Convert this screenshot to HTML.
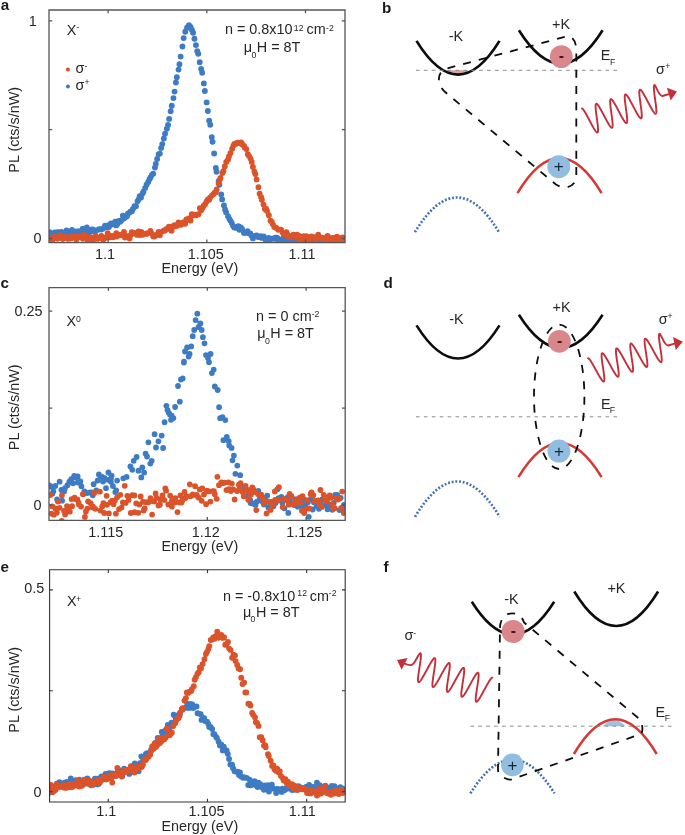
<!DOCTYPE html>
<html><head><meta charset="utf-8"><title>PL spectra and band diagrams</title>
<style>html,body{margin:0;padding:0;background:#fff;}svg{display:block;}text{font-family:'Liberation Sans', Arial, Helvetica, sans-serif;}</style>
</head><body>
<svg width="685" height="835" viewBox="0 0 685 835">
<clipPath id="ca"><rect x="49.0" y="10.0" width="296.0" height="232.6"/></clipPath>
<path fill="#3d7cc5" clip-path="url(#ca)" d="M46.6 232.3a2.95 2.95 0 1 0 5.9 0a2.95 2.95 0 1 0 -5.9 0M48.0 234.9a2.95 2.95 0 1 0 5.9 0a2.95 2.95 0 1 0 -5.9 0M49.1 234.0a2.95 2.95 0 1 0 5.9 0a2.95 2.95 0 1 0 -5.9 0M50.3 234.5a2.95 2.95 0 1 0 5.9 0a2.95 2.95 0 1 0 -5.9 0M51.8 232.5a2.95 2.95 0 1 0 5.9 0a2.95 2.95 0 1 0 -5.9 0M53.0 232.8a2.95 2.95 0 1 0 5.9 0a2.95 2.95 0 1 0 -5.9 0M54.5 232.1a2.95 2.95 0 1 0 5.9 0a2.95 2.95 0 1 0 -5.9 0M56.2 232.1a2.95 2.95 0 1 0 5.9 0a2.95 2.95 0 1 0 -5.9 0M57.1 233.4a2.95 2.95 0 1 0 5.9 0a2.95 2.95 0 1 0 -5.9 0M58.4 231.9a2.95 2.95 0 1 0 5.9 0a2.95 2.95 0 1 0 -5.9 0M60.0 233.2a2.95 2.95 0 1 0 5.9 0a2.95 2.95 0 1 0 -5.9 0M61.3 233.0a2.95 2.95 0 1 0 5.9 0a2.95 2.95 0 1 0 -5.9 0M62.5 235.1a2.95 2.95 0 1 0 5.9 0a2.95 2.95 0 1 0 -5.9 0M63.6 230.5a2.95 2.95 0 1 0 5.9 0a2.95 2.95 0 1 0 -5.9 0M65.2 233.4a2.95 2.95 0 1 0 5.9 0a2.95 2.95 0 1 0 -5.9 0M66.7 232.0a2.95 2.95 0 1 0 5.9 0a2.95 2.95 0 1 0 -5.9 0M67.5 232.0a2.95 2.95 0 1 0 5.9 0a2.95 2.95 0 1 0 -5.9 0M69.0 230.0a2.95 2.95 0 1 0 5.9 0a2.95 2.95 0 1 0 -5.9 0M70.0 231.2a2.95 2.95 0 1 0 5.9 0a2.95 2.95 0 1 0 -5.9 0M71.5 232.6a2.95 2.95 0 1 0 5.9 0a2.95 2.95 0 1 0 -5.9 0M72.7 231.4a2.95 2.95 0 1 0 5.9 0a2.95 2.95 0 1 0 -5.9 0M74.4 231.6a2.95 2.95 0 1 0 5.9 0a2.95 2.95 0 1 0 -5.9 0M75.5 231.2a2.95 2.95 0 1 0 5.9 0a2.95 2.95 0 1 0 -5.9 0M77.2 233.1a2.95 2.95 0 1 0 5.9 0a2.95 2.95 0 1 0 -5.9 0M78.5 231.6a2.95 2.95 0 1 0 5.9 0a2.95 2.95 0 1 0 -5.9 0M79.8 228.8a2.95 2.95 0 1 0 5.9 0a2.95 2.95 0 1 0 -5.9 0M80.5 230.8a2.95 2.95 0 1 0 5.9 0a2.95 2.95 0 1 0 -5.9 0M82.3 229.2a2.95 2.95 0 1 0 5.9 0a2.95 2.95 0 1 0 -5.9 0M83.8 227.5a2.95 2.95 0 1 0 5.9 0a2.95 2.95 0 1 0 -5.9 0M85.1 230.8a2.95 2.95 0 1 0 5.9 0a2.95 2.95 0 1 0 -5.9 0M86.1 233.1a2.95 2.95 0 1 0 5.9 0a2.95 2.95 0 1 0 -5.9 0M87.7 231.3a2.95 2.95 0 1 0 5.9 0a2.95 2.95 0 1 0 -5.9 0M88.9 229.5a2.95 2.95 0 1 0 5.9 0a2.95 2.95 0 1 0 -5.9 0M90.2 229.6a2.95 2.95 0 1 0 5.9 0a2.95 2.95 0 1 0 -5.9 0M92.0 232.1a2.95 2.95 0 1 0 5.9 0a2.95 2.95 0 1 0 -5.9 0M92.9 230.7a2.95 2.95 0 1 0 5.9 0a2.95 2.95 0 1 0 -5.9 0M94.4 230.1a2.95 2.95 0 1 0 5.9 0a2.95 2.95 0 1 0 -5.9 0M96.0 229.3a2.95 2.95 0 1 0 5.9 0a2.95 2.95 0 1 0 -5.9 0M96.9 229.1a2.95 2.95 0 1 0 5.9 0a2.95 2.95 0 1 0 -5.9 0M98.4 229.6a2.95 2.95 0 1 0 5.9 0a2.95 2.95 0 1 0 -5.9 0M99.8 228.7a2.95 2.95 0 1 0 5.9 0a2.95 2.95 0 1 0 -5.9 0M101.1 227.8a2.95 2.95 0 1 0 5.9 0a2.95 2.95 0 1 0 -5.9 0M102.1 225.8a2.95 2.95 0 1 0 5.9 0a2.95 2.95 0 1 0 -5.9 0M103.8 227.2a2.95 2.95 0 1 0 5.9 0a2.95 2.95 0 1 0 -5.9 0M105.4 225.1a2.95 2.95 0 1 0 5.9 0a2.95 2.95 0 1 0 -5.9 0M106.0 227.1a2.95 2.95 0 1 0 5.9 0a2.95 2.95 0 1 0 -5.9 0M107.9 223.4a2.95 2.95 0 1 0 5.9 0a2.95 2.95 0 1 0 -5.9 0M109.1 224.4a2.95 2.95 0 1 0 5.9 0a2.95 2.95 0 1 0 -5.9 0M110.2 224.2a2.95 2.95 0 1 0 5.9 0a2.95 2.95 0 1 0 -5.9 0M112.2 221.8a2.95 2.95 0 1 0 5.9 0a2.95 2.95 0 1 0 -5.9 0M113.2 225.4a2.95 2.95 0 1 0 5.9 0a2.95 2.95 0 1 0 -5.9 0M114.1 224.6a2.95 2.95 0 1 0 5.9 0a2.95 2.95 0 1 0 -5.9 0M115.7 221.0a2.95 2.95 0 1 0 5.9 0a2.95 2.95 0 1 0 -5.9 0M117.2 221.7a2.95 2.95 0 1 0 5.9 0a2.95 2.95 0 1 0 -5.9 0M118.3 220.5a2.95 2.95 0 1 0 5.9 0a2.95 2.95 0 1 0 -5.9 0M119.9 215.6a2.95 2.95 0 1 0 5.9 0a2.95 2.95 0 1 0 -5.9 0M121.0 218.6a2.95 2.95 0 1 0 5.9 0a2.95 2.95 0 1 0 -5.9 0M122.5 217.2a2.95 2.95 0 1 0 5.9 0a2.95 2.95 0 1 0 -5.9 0M124.0 216.2a2.95 2.95 0 1 0 5.9 0a2.95 2.95 0 1 0 -5.9 0M124.9 213.7a2.95 2.95 0 1 0 5.9 0a2.95 2.95 0 1 0 -5.9 0M126.4 212.8a2.95 2.95 0 1 0 5.9 0a2.95 2.95 0 1 0 -5.9 0M127.6 211.4a2.95 2.95 0 1 0 5.9 0a2.95 2.95 0 1 0 -5.9 0M129.0 211.3a2.95 2.95 0 1 0 5.9 0a2.95 2.95 0 1 0 -5.9 0M130.0 208.9a2.95 2.95 0 1 0 5.9 0a2.95 2.95 0 1 0 -5.9 0M131.5 206.3a2.95 2.95 0 1 0 5.9 0a2.95 2.95 0 1 0 -5.9 0M133.0 206.2a2.95 2.95 0 1 0 5.9 0a2.95 2.95 0 1 0 -5.9 0M134.6 201.2a2.95 2.95 0 1 0 5.9 0a2.95 2.95 0 1 0 -5.9 0M135.9 199.3a2.95 2.95 0 1 0 5.9 0a2.95 2.95 0 1 0 -5.9 0M136.7 196.1a2.95 2.95 0 1 0 5.9 0a2.95 2.95 0 1 0 -5.9 0M138.1 197.5a2.95 2.95 0 1 0 5.9 0a2.95 2.95 0 1 0 -5.9 0M139.8 193.2a2.95 2.95 0 1 0 5.9 0a2.95 2.95 0 1 0 -5.9 0M140.5 191.8a2.95 2.95 0 1 0 5.9 0a2.95 2.95 0 1 0 -5.9 0M142.2 188.0a2.95 2.95 0 1 0 5.9 0a2.95 2.95 0 1 0 -5.9 0M143.6 184.8a2.95 2.95 0 1 0 5.9 0a2.95 2.95 0 1 0 -5.9 0M145.3 181.9a2.95 2.95 0 1 0 5.9 0a2.95 2.95 0 1 0 -5.9 0M146.5 179.2a2.95 2.95 0 1 0 5.9 0a2.95 2.95 0 1 0 -5.9 0M147.5 177.4a2.95 2.95 0 1 0 5.9 0a2.95 2.95 0 1 0 -5.9 0M148.9 175.0a2.95 2.95 0 1 0 5.9 0a2.95 2.95 0 1 0 -5.9 0M150.2 173.7a2.95 2.95 0 1 0 5.9 0a2.95 2.95 0 1 0 -5.9 0M152.0 167.6a2.95 2.95 0 1 0 5.9 0a2.95 2.95 0 1 0 -5.9 0M152.8 164.0a2.95 2.95 0 1 0 5.9 0a2.95 2.95 0 1 0 -5.9 0M154.2 158.9a2.95 2.95 0 1 0 5.9 0a2.95 2.95 0 1 0 -5.9 0M155.7 154.3a2.95 2.95 0 1 0 5.9 0a2.95 2.95 0 1 0 -5.9 0M156.9 153.6a2.95 2.95 0 1 0 5.9 0a2.95 2.95 0 1 0 -5.9 0M158.2 147.9a2.95 2.95 0 1 0 5.9 0a2.95 2.95 0 1 0 -5.9 0M159.3 144.1a2.95 2.95 0 1 0 5.9 0a2.95 2.95 0 1 0 -5.9 0M160.9 138.5a2.95 2.95 0 1 0 5.9 0a2.95 2.95 0 1 0 -5.9 0M162.1 133.8a2.95 2.95 0 1 0 5.9 0a2.95 2.95 0 1 0 -5.9 0M163.9 128.7a2.95 2.95 0 1 0 5.9 0a2.95 2.95 0 1 0 -5.9 0M165.1 124.9a2.95 2.95 0 1 0 5.9 0a2.95 2.95 0 1 0 -5.9 0M166.2 118.9a2.95 2.95 0 1 0 5.9 0a2.95 2.95 0 1 0 -5.9 0M167.7 111.3a2.95 2.95 0 1 0 5.9 0a2.95 2.95 0 1 0 -5.9 0M168.8 105.8a2.95 2.95 0 1 0 5.9 0a2.95 2.95 0 1 0 -5.9 0M170.5 98.1a2.95 2.95 0 1 0 5.9 0a2.95 2.95 0 1 0 -5.9 0M171.6 91.6a2.95 2.95 0 1 0 5.9 0a2.95 2.95 0 1 0 -5.9 0M173.0 82.5a2.95 2.95 0 1 0 5.9 0a2.95 2.95 0 1 0 -5.9 0M173.9 77.2a2.95 2.95 0 1 0 5.9 0a2.95 2.95 0 1 0 -5.9 0M175.6 69.6a2.95 2.95 0 1 0 5.9 0a2.95 2.95 0 1 0 -5.9 0M176.5 64.3a2.95 2.95 0 1 0 5.9 0a2.95 2.95 0 1 0 -5.9 0M177.7 56.6a2.95 2.95 0 1 0 5.9 0a2.95 2.95 0 1 0 -5.9 0M179.5 46.5a2.95 2.95 0 1 0 5.9 0a2.95 2.95 0 1 0 -5.9 0M180.7 38.1a2.95 2.95 0 1 0 5.9 0a2.95 2.95 0 1 0 -5.9 0M182.3 31.7a2.95 2.95 0 1 0 5.9 0a2.95 2.95 0 1 0 -5.9 0M184.1 27.8a2.95 2.95 0 1 0 5.9 0a2.95 2.95 0 1 0 -5.9 0M184.7 27.2a2.95 2.95 0 1 0 5.9 0a2.95 2.95 0 1 0 -5.9 0M186.0 25.3a2.95 2.95 0 1 0 5.9 0a2.95 2.95 0 1 0 -5.9 0M187.6 26.9a2.95 2.95 0 1 0 5.9 0a2.95 2.95 0 1 0 -5.9 0M189.0 30.0a2.95 2.95 0 1 0 5.9 0a2.95 2.95 0 1 0 -5.9 0M190.1 32.7a2.95 2.95 0 1 0 5.9 0a2.95 2.95 0 1 0 -5.9 0M191.5 38.7a2.95 2.95 0 1 0 5.9 0a2.95 2.95 0 1 0 -5.9 0M193.0 45.1a2.95 2.95 0 1 0 5.9 0a2.95 2.95 0 1 0 -5.9 0M194.3 51.2a2.95 2.95 0 1 0 5.9 0a2.95 2.95 0 1 0 -5.9 0M195.3 53.8a2.95 2.95 0 1 0 5.9 0a2.95 2.95 0 1 0 -5.9 0M196.8 62.3a2.95 2.95 0 1 0 5.9 0a2.95 2.95 0 1 0 -5.9 0M198.2 68.9a2.95 2.95 0 1 0 5.9 0a2.95 2.95 0 1 0 -5.9 0M199.2 72.7a2.95 2.95 0 1 0 5.9 0a2.95 2.95 0 1 0 -5.9 0M200.9 83.4a2.95 2.95 0 1 0 5.9 0a2.95 2.95 0 1 0 -5.9 0M201.9 91.0a2.95 2.95 0 1 0 5.9 0a2.95 2.95 0 1 0 -5.9 0M203.7 102.4a2.95 2.95 0 1 0 5.9 0a2.95 2.95 0 1 0 -5.9 0M204.9 111.0a2.95 2.95 0 1 0 5.9 0a2.95 2.95 0 1 0 -5.9 0M206.2 120.7a2.95 2.95 0 1 0 5.9 0a2.95 2.95 0 1 0 -5.9 0M207.3 124.8a2.95 2.95 0 1 0 5.9 0a2.95 2.95 0 1 0 -5.9 0M208.8 137.3a2.95 2.95 0 1 0 5.9 0a2.95 2.95 0 1 0 -5.9 0M209.6 141.8a2.95 2.95 0 1 0 5.9 0a2.95 2.95 0 1 0 -5.9 0M211.2 153.5a2.95 2.95 0 1 0 5.9 0a2.95 2.95 0 1 0 -5.9 0M212.9 168.0a2.95 2.95 0 1 0 5.9 0a2.95 2.95 0 1 0 -5.9 0M213.6 171.7a2.95 2.95 0 1 0 5.9 0a2.95 2.95 0 1 0 -5.9 0M215.7 181.2a2.95 2.95 0 1 0 5.9 0a2.95 2.95 0 1 0 -5.9 0M216.4 184.8a2.95 2.95 0 1 0 5.9 0a2.95 2.95 0 1 0 -5.9 0M218.3 194.5a2.95 2.95 0 1 0 5.9 0a2.95 2.95 0 1 0 -5.9 0M219.2 199.4a2.95 2.95 0 1 0 5.9 0a2.95 2.95 0 1 0 -5.9 0M221.0 205.5a2.95 2.95 0 1 0 5.9 0a2.95 2.95 0 1 0 -5.9 0M222.1 209.4a2.95 2.95 0 1 0 5.9 0a2.95 2.95 0 1 0 -5.9 0M223.1 212.2a2.95 2.95 0 1 0 5.9 0a2.95 2.95 0 1 0 -5.9 0M225.1 216.3a2.95 2.95 0 1 0 5.9 0a2.95 2.95 0 1 0 -5.9 0M226.5 218.9a2.95 2.95 0 1 0 5.9 0a2.95 2.95 0 1 0 -5.9 0M227.4 220.6a2.95 2.95 0 1 0 5.9 0a2.95 2.95 0 1 0 -5.9 0M228.7 222.7a2.95 2.95 0 1 0 5.9 0a2.95 2.95 0 1 0 -5.9 0M230.1 225.8a2.95 2.95 0 1 0 5.9 0a2.95 2.95 0 1 0 -5.9 0M231.2 227.4a2.95 2.95 0 1 0 5.9 0a2.95 2.95 0 1 0 -5.9 0M233.0 227.9a2.95 2.95 0 1 0 5.9 0a2.95 2.95 0 1 0 -5.9 0M233.9 227.8a2.95 2.95 0 1 0 5.9 0a2.95 2.95 0 1 0 -5.9 0M235.4 226.3a2.95 2.95 0 1 0 5.9 0a2.95 2.95 0 1 0 -5.9 0M236.5 229.7a2.95 2.95 0 1 0 5.9 0a2.95 2.95 0 1 0 -5.9 0M237.9 227.5a2.95 2.95 0 1 0 5.9 0a2.95 2.95 0 1 0 -5.9 0M239.1 229.0a2.95 2.95 0 1 0 5.9 0a2.95 2.95 0 1 0 -5.9 0M241.0 232.9a2.95 2.95 0 1 0 5.9 0a2.95 2.95 0 1 0 -5.9 0M242.0 233.1a2.95 2.95 0 1 0 5.9 0a2.95 2.95 0 1 0 -5.9 0M243.6 232.6a2.95 2.95 0 1 0 5.9 0a2.95 2.95 0 1 0 -5.9 0M244.7 231.1a2.95 2.95 0 1 0 5.9 0a2.95 2.95 0 1 0 -5.9 0M245.9 233.3a2.95 2.95 0 1 0 5.9 0a2.95 2.95 0 1 0 -5.9 0M247.3 233.4a2.95 2.95 0 1 0 5.9 0a2.95 2.95 0 1 0 -5.9 0M248.6 235.7a2.95 2.95 0 1 0 5.9 0a2.95 2.95 0 1 0 -5.9 0M250.0 238.4a2.95 2.95 0 1 0 5.9 0a2.95 2.95 0 1 0 -5.9 0M251.3 236.3a2.95 2.95 0 1 0 5.9 0a2.95 2.95 0 1 0 -5.9 0M252.6 235.6a2.95 2.95 0 1 0 5.9 0a2.95 2.95 0 1 0 -5.9 0M253.7 235.5a2.95 2.95 0 1 0 5.9 0a2.95 2.95 0 1 0 -5.9 0M255.2 237.1a2.95 2.95 0 1 0 5.9 0a2.95 2.95 0 1 0 -5.9 0M257.1 237.2a2.95 2.95 0 1 0 5.9 0a2.95 2.95 0 1 0 -5.9 0M257.9 236.1a2.95 2.95 0 1 0 5.9 0a2.95 2.95 0 1 0 -5.9 0M259.1 237.9a2.95 2.95 0 1 0 5.9 0a2.95 2.95 0 1 0 -5.9 0M260.8 236.4a2.95 2.95 0 1 0 5.9 0a2.95 2.95 0 1 0 -5.9 0M262.4 239.6a2.95 2.95 0 1 0 5.9 0a2.95 2.95 0 1 0 -5.9 0M263.0 239.6a2.95 2.95 0 1 0 5.9 0a2.95 2.95 0 1 0 -5.9 0M264.6 239.8a2.95 2.95 0 1 0 5.9 0a2.95 2.95 0 1 0 -5.9 0M265.8 238.0a2.95 2.95 0 1 0 5.9 0a2.95 2.95 0 1 0 -5.9 0M266.9 239.4a2.95 2.95 0 1 0 5.9 0a2.95 2.95 0 1 0 -5.9 0M268.8 238.8a2.95 2.95 0 1 0 5.9 0a2.95 2.95 0 1 0 -5.9 0M270.0 238.6a2.95 2.95 0 1 0 5.9 0a2.95 2.95 0 1 0 -5.9 0M271.3 238.8a2.95 2.95 0 1 0 5.9 0a2.95 2.95 0 1 0 -5.9 0M272.5 237.7a2.95 2.95 0 1 0 5.9 0a2.95 2.95 0 1 0 -5.9 0M274.1 237.6a2.95 2.95 0 1 0 5.9 0a2.95 2.95 0 1 0 -5.9 0M275.2 240.5a2.95 2.95 0 1 0 5.9 0a2.95 2.95 0 1 0 -5.9 0M276.6 239.3a2.95 2.95 0 1 0 5.9 0a2.95 2.95 0 1 0 -5.9 0M277.7 239.8a2.95 2.95 0 1 0 5.9 0a2.95 2.95 0 1 0 -5.9 0M279.0 240.8a2.95 2.95 0 1 0 5.9 0a2.95 2.95 0 1 0 -5.9 0M281.0 237.2a2.95 2.95 0 1 0 5.9 0a2.95 2.95 0 1 0 -5.9 0M281.8 238.5a2.95 2.95 0 1 0 5.9 0a2.95 2.95 0 1 0 -5.9 0M283.4 239.7a2.95 2.95 0 1 0 5.9 0a2.95 2.95 0 1 0 -5.9 0M284.6 240.0a2.95 2.95 0 1 0 5.9 0a2.95 2.95 0 1 0 -5.9 0M285.8 239.0a2.95 2.95 0 1 0 5.9 0a2.95 2.95 0 1 0 -5.9 0M287.2 240.8a2.95 2.95 0 1 0 5.9 0a2.95 2.95 0 1 0 -5.9 0M288.8 239.8a2.95 2.95 0 1 0 5.9 0a2.95 2.95 0 1 0 -5.9 0M289.9 237.9a2.95 2.95 0 1 0 5.9 0a2.95 2.95 0 1 0 -5.9 0M291.2 238.3a2.95 2.95 0 1 0 5.9 0a2.95 2.95 0 1 0 -5.9 0M292.6 240.5a2.95 2.95 0 1 0 5.9 0a2.95 2.95 0 1 0 -5.9 0M294.2 240.1a2.95 2.95 0 1 0 5.9 0a2.95 2.95 0 1 0 -5.9 0M295.4 237.0a2.95 2.95 0 1 0 5.9 0a2.95 2.95 0 1 0 -5.9 0M296.7 241.3a2.95 2.95 0 1 0 5.9 0a2.95 2.95 0 1 0 -5.9 0M297.8 240.3a2.95 2.95 0 1 0 5.9 0a2.95 2.95 0 1 0 -5.9 0M298.9 241.3a2.95 2.95 0 1 0 5.9 0a2.95 2.95 0 1 0 -5.9 0M300.8 239.0a2.95 2.95 0 1 0 5.9 0a2.95 2.95 0 1 0 -5.9 0M302.2 239.1a2.95 2.95 0 1 0 5.9 0a2.95 2.95 0 1 0 -5.9 0M303.2 238.1a2.95 2.95 0 1 0 5.9 0a2.95 2.95 0 1 0 -5.9 0M304.7 242.8a2.95 2.95 0 1 0 5.9 0a2.95 2.95 0 1 0 -5.9 0M306.1 239.3a2.95 2.95 0 1 0 5.9 0a2.95 2.95 0 1 0 -5.9 0M307.4 241.6a2.95 2.95 0 1 0 5.9 0a2.95 2.95 0 1 0 -5.9 0M308.8 238.7a2.95 2.95 0 1 0 5.9 0a2.95 2.95 0 1 0 -5.9 0M309.8 239.8a2.95 2.95 0 1 0 5.9 0a2.95 2.95 0 1 0 -5.9 0M311.6 237.4a2.95 2.95 0 1 0 5.9 0a2.95 2.95 0 1 0 -5.9 0M312.2 239.1a2.95 2.95 0 1 0 5.9 0a2.95 2.95 0 1 0 -5.9 0M314.1 240.9a2.95 2.95 0 1 0 5.9 0a2.95 2.95 0 1 0 -5.9 0M315.3 238.0a2.95 2.95 0 1 0 5.9 0a2.95 2.95 0 1 0 -5.9 0M316.8 241.0a2.95 2.95 0 1 0 5.9 0a2.95 2.95 0 1 0 -5.9 0M318.3 240.1a2.95 2.95 0 1 0 5.9 0a2.95 2.95 0 1 0 -5.9 0M319.6 238.3a2.95 2.95 0 1 0 5.9 0a2.95 2.95 0 1 0 -5.9 0M320.2 239.0a2.95 2.95 0 1 0 5.9 0a2.95 2.95 0 1 0 -5.9 0M321.4 239.1a2.95 2.95 0 1 0 5.9 0a2.95 2.95 0 1 0 -5.9 0M323.4 239.6a2.95 2.95 0 1 0 5.9 0a2.95 2.95 0 1 0 -5.9 0M324.3 239.0a2.95 2.95 0 1 0 5.9 0a2.95 2.95 0 1 0 -5.9 0M325.8 238.6a2.95 2.95 0 1 0 5.9 0a2.95 2.95 0 1 0 -5.9 0M327.4 239.3a2.95 2.95 0 1 0 5.9 0a2.95 2.95 0 1 0 -5.9 0M328.1 238.4a2.95 2.95 0 1 0 5.9 0a2.95 2.95 0 1 0 -5.9 0M329.3 238.0a2.95 2.95 0 1 0 5.9 0a2.95 2.95 0 1 0 -5.9 0M331.2 239.7a2.95 2.95 0 1 0 5.9 0a2.95 2.95 0 1 0 -5.9 0M332.5 240.9a2.95 2.95 0 1 0 5.9 0a2.95 2.95 0 1 0 -5.9 0M333.8 237.8a2.95 2.95 0 1 0 5.9 0a2.95 2.95 0 1 0 -5.9 0M335.2 239.8a2.95 2.95 0 1 0 5.9 0a2.95 2.95 0 1 0 -5.9 0M336.3 238.9a2.95 2.95 0 1 0 5.9 0a2.95 2.95 0 1 0 -5.9 0M337.4 238.5a2.95 2.95 0 1 0 5.9 0a2.95 2.95 0 1 0 -5.9 0M339.1 240.9a2.95 2.95 0 1 0 5.9 0a2.95 2.95 0 1 0 -5.9 0M340.2 239.1a2.95 2.95 0 1 0 5.9 0a2.95 2.95 0 1 0 -5.9 0"/>
<path fill="#dc5229" clip-path="url(#ca)" d="M46.9 238.4a2.95 2.95 0 1 0 5.9 0a2.95 2.95 0 1 0 -5.9 0M47.7 238.6a2.95 2.95 0 1 0 5.9 0a2.95 2.95 0 1 0 -5.9 0M49.3 240.7a2.95 2.95 0 1 0 5.9 0a2.95 2.95 0 1 0 -5.9 0M50.5 238.0a2.95 2.95 0 1 0 5.9 0a2.95 2.95 0 1 0 -5.9 0M51.7 236.6a2.95 2.95 0 1 0 5.9 0a2.95 2.95 0 1 0 -5.9 0M53.3 238.3a2.95 2.95 0 1 0 5.9 0a2.95 2.95 0 1 0 -5.9 0M54.5 238.8a2.95 2.95 0 1 0 5.9 0a2.95 2.95 0 1 0 -5.9 0M56.0 236.8a2.95 2.95 0 1 0 5.9 0a2.95 2.95 0 1 0 -5.9 0M57.2 235.4a2.95 2.95 0 1 0 5.9 0a2.95 2.95 0 1 0 -5.9 0M58.2 235.7a2.95 2.95 0 1 0 5.9 0a2.95 2.95 0 1 0 -5.9 0M59.8 239.1a2.95 2.95 0 1 0 5.9 0a2.95 2.95 0 1 0 -5.9 0M61.2 236.8a2.95 2.95 0 1 0 5.9 0a2.95 2.95 0 1 0 -5.9 0M62.7 237.7a2.95 2.95 0 1 0 5.9 0a2.95 2.95 0 1 0 -5.9 0M63.6 238.3a2.95 2.95 0 1 0 5.9 0a2.95 2.95 0 1 0 -5.9 0M65.2 238.9a2.95 2.95 0 1 0 5.9 0a2.95 2.95 0 1 0 -5.9 0M66.1 237.3a2.95 2.95 0 1 0 5.9 0a2.95 2.95 0 1 0 -5.9 0M68.0 238.6a2.95 2.95 0 1 0 5.9 0a2.95 2.95 0 1 0 -5.9 0M68.9 236.4a2.95 2.95 0 1 0 5.9 0a2.95 2.95 0 1 0 -5.9 0M70.0 237.2a2.95 2.95 0 1 0 5.9 0a2.95 2.95 0 1 0 -5.9 0M71.8 236.1a2.95 2.95 0 1 0 5.9 0a2.95 2.95 0 1 0 -5.9 0M73.4 239.5a2.95 2.95 0 1 0 5.9 0a2.95 2.95 0 1 0 -5.9 0M74.1 237.7a2.95 2.95 0 1 0 5.9 0a2.95 2.95 0 1 0 -5.9 0M75.5 236.5a2.95 2.95 0 1 0 5.9 0a2.95 2.95 0 1 0 -5.9 0M77.0 237.1a2.95 2.95 0 1 0 5.9 0a2.95 2.95 0 1 0 -5.9 0M78.2 237.3a2.95 2.95 0 1 0 5.9 0a2.95 2.95 0 1 0 -5.9 0M79.9 238.7a2.95 2.95 0 1 0 5.9 0a2.95 2.95 0 1 0 -5.9 0M80.9 235.0a2.95 2.95 0 1 0 5.9 0a2.95 2.95 0 1 0 -5.9 0M82.3 235.9a2.95 2.95 0 1 0 5.9 0a2.95 2.95 0 1 0 -5.9 0M83.9 236.9a2.95 2.95 0 1 0 5.9 0a2.95 2.95 0 1 0 -5.9 0M84.9 241.5a2.95 2.95 0 1 0 5.9 0a2.95 2.95 0 1 0 -5.9 0M86.6 238.9a2.95 2.95 0 1 0 5.9 0a2.95 2.95 0 1 0 -5.9 0M87.5 237.1a2.95 2.95 0 1 0 5.9 0a2.95 2.95 0 1 0 -5.9 0M88.8 238.4a2.95 2.95 0 1 0 5.9 0a2.95 2.95 0 1 0 -5.9 0M90.0 240.4a2.95 2.95 0 1 0 5.9 0a2.95 2.95 0 1 0 -5.9 0M92.2 236.7a2.95 2.95 0 1 0 5.9 0a2.95 2.95 0 1 0 -5.9 0M93.0 236.4a2.95 2.95 0 1 0 5.9 0a2.95 2.95 0 1 0 -5.9 0M94.5 238.9a2.95 2.95 0 1 0 5.9 0a2.95 2.95 0 1 0 -5.9 0M95.8 237.7a2.95 2.95 0 1 0 5.9 0a2.95 2.95 0 1 0 -5.9 0M97.1 237.9a2.95 2.95 0 1 0 5.9 0a2.95 2.95 0 1 0 -5.9 0M98.4 235.9a2.95 2.95 0 1 0 5.9 0a2.95 2.95 0 1 0 -5.9 0M100.2 239.7a2.95 2.95 0 1 0 5.9 0a2.95 2.95 0 1 0 -5.9 0M100.8 239.3a2.95 2.95 0 1 0 5.9 0a2.95 2.95 0 1 0 -5.9 0M102.0 237.5a2.95 2.95 0 1 0 5.9 0a2.95 2.95 0 1 0 -5.9 0M103.5 237.6a2.95 2.95 0 1 0 5.9 0a2.95 2.95 0 1 0 -5.9 0M104.7 233.2a2.95 2.95 0 1 0 5.9 0a2.95 2.95 0 1 0 -5.9 0M106.6 237.4a2.95 2.95 0 1 0 5.9 0a2.95 2.95 0 1 0 -5.9 0M107.9 236.0a2.95 2.95 0 1 0 5.9 0a2.95 2.95 0 1 0 -5.9 0M108.8 236.9a2.95 2.95 0 1 0 5.9 0a2.95 2.95 0 1 0 -5.9 0M110.0 237.3a2.95 2.95 0 1 0 5.9 0a2.95 2.95 0 1 0 -5.9 0M111.6 235.5a2.95 2.95 0 1 0 5.9 0a2.95 2.95 0 1 0 -5.9 0M113.4 233.3a2.95 2.95 0 1 0 5.9 0a2.95 2.95 0 1 0 -5.9 0M113.7 236.6a2.95 2.95 0 1 0 5.9 0a2.95 2.95 0 1 0 -5.9 0M115.8 234.7a2.95 2.95 0 1 0 5.9 0a2.95 2.95 0 1 0 -5.9 0M116.8 235.3a2.95 2.95 0 1 0 5.9 0a2.95 2.95 0 1 0 -5.9 0M118.6 234.8a2.95 2.95 0 1 0 5.9 0a2.95 2.95 0 1 0 -5.9 0M119.4 235.2a2.95 2.95 0 1 0 5.9 0a2.95 2.95 0 1 0 -5.9 0M121.0 232.0a2.95 2.95 0 1 0 5.9 0a2.95 2.95 0 1 0 -5.9 0M122.0 237.5a2.95 2.95 0 1 0 5.9 0a2.95 2.95 0 1 0 -5.9 0M123.4 235.9a2.95 2.95 0 1 0 5.9 0a2.95 2.95 0 1 0 -5.9 0M125.4 237.2a2.95 2.95 0 1 0 5.9 0a2.95 2.95 0 1 0 -5.9 0M126.6 238.5a2.95 2.95 0 1 0 5.9 0a2.95 2.95 0 1 0 -5.9 0M127.6 235.3a2.95 2.95 0 1 0 5.9 0a2.95 2.95 0 1 0 -5.9 0M128.8 232.3a2.95 2.95 0 1 0 5.9 0a2.95 2.95 0 1 0 -5.9 0M129.9 233.6a2.95 2.95 0 1 0 5.9 0a2.95 2.95 0 1 0 -5.9 0M131.6 233.0a2.95 2.95 0 1 0 5.9 0a2.95 2.95 0 1 0 -5.9 0M133.0 234.0a2.95 2.95 0 1 0 5.9 0a2.95 2.95 0 1 0 -5.9 0M134.3 234.9a2.95 2.95 0 1 0 5.9 0a2.95 2.95 0 1 0 -5.9 0M135.6 231.4a2.95 2.95 0 1 0 5.9 0a2.95 2.95 0 1 0 -5.9 0M136.7 235.1a2.95 2.95 0 1 0 5.9 0a2.95 2.95 0 1 0 -5.9 0M138.3 232.0a2.95 2.95 0 1 0 5.9 0a2.95 2.95 0 1 0 -5.9 0M139.6 234.8a2.95 2.95 0 1 0 5.9 0a2.95 2.95 0 1 0 -5.9 0M141.3 234.0a2.95 2.95 0 1 0 5.9 0a2.95 2.95 0 1 0 -5.9 0M142.8 233.6a2.95 2.95 0 1 0 5.9 0a2.95 2.95 0 1 0 -5.9 0M143.6 233.9a2.95 2.95 0 1 0 5.9 0a2.95 2.95 0 1 0 -5.9 0M144.8 233.1a2.95 2.95 0 1 0 5.9 0a2.95 2.95 0 1 0 -5.9 0M146.3 232.8a2.95 2.95 0 1 0 5.9 0a2.95 2.95 0 1 0 -5.9 0M147.5 231.0a2.95 2.95 0 1 0 5.9 0a2.95 2.95 0 1 0 -5.9 0M148.8 233.6a2.95 2.95 0 1 0 5.9 0a2.95 2.95 0 1 0 -5.9 0M150.3 236.4a2.95 2.95 0 1 0 5.9 0a2.95 2.95 0 1 0 -5.9 0M151.4 236.6a2.95 2.95 0 1 0 5.9 0a2.95 2.95 0 1 0 -5.9 0M153.1 235.3a2.95 2.95 0 1 0 5.9 0a2.95 2.95 0 1 0 -5.9 0M154.3 234.3a2.95 2.95 0 1 0 5.9 0a2.95 2.95 0 1 0 -5.9 0M155.7 231.9a2.95 2.95 0 1 0 5.9 0a2.95 2.95 0 1 0 -5.9 0M156.9 235.2a2.95 2.95 0 1 0 5.9 0a2.95 2.95 0 1 0 -5.9 0M158.1 232.3a2.95 2.95 0 1 0 5.9 0a2.95 2.95 0 1 0 -5.9 0M159.4 231.6a2.95 2.95 0 1 0 5.9 0a2.95 2.95 0 1 0 -5.9 0M160.9 230.5a2.95 2.95 0 1 0 5.9 0a2.95 2.95 0 1 0 -5.9 0M162.1 230.5a2.95 2.95 0 1 0 5.9 0a2.95 2.95 0 1 0 -5.9 0M163.6 228.9a2.95 2.95 0 1 0 5.9 0a2.95 2.95 0 1 0 -5.9 0M164.9 228.9a2.95 2.95 0 1 0 5.9 0a2.95 2.95 0 1 0 -5.9 0M165.9 226.8a2.95 2.95 0 1 0 5.9 0a2.95 2.95 0 1 0 -5.9 0M167.6 227.1a2.95 2.95 0 1 0 5.9 0a2.95 2.95 0 1 0 -5.9 0M168.6 230.8a2.95 2.95 0 1 0 5.9 0a2.95 2.95 0 1 0 -5.9 0M170.1 226.3a2.95 2.95 0 1 0 5.9 0a2.95 2.95 0 1 0 -5.9 0M171.5 225.3a2.95 2.95 0 1 0 5.9 0a2.95 2.95 0 1 0 -5.9 0M172.4 226.2a2.95 2.95 0 1 0 5.9 0a2.95 2.95 0 1 0 -5.9 0M174.3 225.8a2.95 2.95 0 1 0 5.9 0a2.95 2.95 0 1 0 -5.9 0M175.6 222.4a2.95 2.95 0 1 0 5.9 0a2.95 2.95 0 1 0 -5.9 0M176.9 223.4a2.95 2.95 0 1 0 5.9 0a2.95 2.95 0 1 0 -5.9 0M178.1 224.8a2.95 2.95 0 1 0 5.9 0a2.95 2.95 0 1 0 -5.9 0M179.5 223.2a2.95 2.95 0 1 0 5.9 0a2.95 2.95 0 1 0 -5.9 0M180.6 222.3a2.95 2.95 0 1 0 5.9 0a2.95 2.95 0 1 0 -5.9 0M182.1 223.8a2.95 2.95 0 1 0 5.9 0a2.95 2.95 0 1 0 -5.9 0M183.4 219.5a2.95 2.95 0 1 0 5.9 0a2.95 2.95 0 1 0 -5.9 0M184.9 220.0a2.95 2.95 0 1 0 5.9 0a2.95 2.95 0 1 0 -5.9 0M185.9 218.5a2.95 2.95 0 1 0 5.9 0a2.95 2.95 0 1 0 -5.9 0M187.6 220.5a2.95 2.95 0 1 0 5.9 0a2.95 2.95 0 1 0 -5.9 0M188.9 214.1a2.95 2.95 0 1 0 5.9 0a2.95 2.95 0 1 0 -5.9 0M190.2 215.2a2.95 2.95 0 1 0 5.9 0a2.95 2.95 0 1 0 -5.9 0M191.4 214.6a2.95 2.95 0 1 0 5.9 0a2.95 2.95 0 1 0 -5.9 0M193.0 215.4a2.95 2.95 0 1 0 5.9 0a2.95 2.95 0 1 0 -5.9 0M193.8 214.7a2.95 2.95 0 1 0 5.9 0a2.95 2.95 0 1 0 -5.9 0M195.6 214.2a2.95 2.95 0 1 0 5.9 0a2.95 2.95 0 1 0 -5.9 0M196.9 208.3a2.95 2.95 0 1 0 5.9 0a2.95 2.95 0 1 0 -5.9 0M198.2 210.2a2.95 2.95 0 1 0 5.9 0a2.95 2.95 0 1 0 -5.9 0M199.6 207.9a2.95 2.95 0 1 0 5.9 0a2.95 2.95 0 1 0 -5.9 0M200.7 205.7a2.95 2.95 0 1 0 5.9 0a2.95 2.95 0 1 0 -5.9 0M202.1 204.2a2.95 2.95 0 1 0 5.9 0a2.95 2.95 0 1 0 -5.9 0M203.6 201.4a2.95 2.95 0 1 0 5.9 0a2.95 2.95 0 1 0 -5.9 0M204.9 199.4a2.95 2.95 0 1 0 5.9 0a2.95 2.95 0 1 0 -5.9 0M206.2 199.7a2.95 2.95 0 1 0 5.9 0a2.95 2.95 0 1 0 -5.9 0M207.1 197.7a2.95 2.95 0 1 0 5.9 0a2.95 2.95 0 1 0 -5.9 0M208.9 195.6a2.95 2.95 0 1 0 5.9 0a2.95 2.95 0 1 0 -5.9 0M210.4 194.3a2.95 2.95 0 1 0 5.9 0a2.95 2.95 0 1 0 -5.9 0M211.7 192.7a2.95 2.95 0 1 0 5.9 0a2.95 2.95 0 1 0 -5.9 0M212.9 192.3a2.95 2.95 0 1 0 5.9 0a2.95 2.95 0 1 0 -5.9 0M213.7 189.4a2.95 2.95 0 1 0 5.9 0a2.95 2.95 0 1 0 -5.9 0M215.7 183.2a2.95 2.95 0 1 0 5.9 0a2.95 2.95 0 1 0 -5.9 0M216.8 179.6a2.95 2.95 0 1 0 5.9 0a2.95 2.95 0 1 0 -5.9 0M217.5 177.9a2.95 2.95 0 1 0 5.9 0a2.95 2.95 0 1 0 -5.9 0M219.5 172.9a2.95 2.95 0 1 0 5.9 0a2.95 2.95 0 1 0 -5.9 0M220.4 171.3a2.95 2.95 0 1 0 5.9 0a2.95 2.95 0 1 0 -5.9 0M221.8 166.5a2.95 2.95 0 1 0 5.9 0a2.95 2.95 0 1 0 -5.9 0M223.3 162.0a2.95 2.95 0 1 0 5.9 0a2.95 2.95 0 1 0 -5.9 0M225.1 159.6a2.95 2.95 0 1 0 5.9 0a2.95 2.95 0 1 0 -5.9 0M226.0 156.4a2.95 2.95 0 1 0 5.9 0a2.95 2.95 0 1 0 -5.9 0M227.5 153.1a2.95 2.95 0 1 0 5.9 0a2.95 2.95 0 1 0 -5.9 0M229.2 148.7a2.95 2.95 0 1 0 5.9 0a2.95 2.95 0 1 0 -5.9 0M230.5 145.6a2.95 2.95 0 1 0 5.9 0a2.95 2.95 0 1 0 -5.9 0M231.4 143.9a2.95 2.95 0 1 0 5.9 0a2.95 2.95 0 1 0 -5.9 0M232.7 143.9a2.95 2.95 0 1 0 5.9 0a2.95 2.95 0 1 0 -5.9 0M233.8 142.9a2.95 2.95 0 1 0 5.9 0a2.95 2.95 0 1 0 -5.9 0M235.2 142.8a2.95 2.95 0 1 0 5.9 0a2.95 2.95 0 1 0 -5.9 0M236.8 143.2a2.95 2.95 0 1 0 5.9 0a2.95 2.95 0 1 0 -5.9 0M238.2 142.4a2.95 2.95 0 1 0 5.9 0a2.95 2.95 0 1 0 -5.9 0M239.4 144.5a2.95 2.95 0 1 0 5.9 0a2.95 2.95 0 1 0 -5.9 0M241.0 145.9a2.95 2.95 0 1 0 5.9 0a2.95 2.95 0 1 0 -5.9 0M241.9 147.8a2.95 2.95 0 1 0 5.9 0a2.95 2.95 0 1 0 -5.9 0M243.4 149.1a2.95 2.95 0 1 0 5.9 0a2.95 2.95 0 1 0 -5.9 0M244.9 154.3a2.95 2.95 0 1 0 5.9 0a2.95 2.95 0 1 0 -5.9 0M246.2 156.1a2.95 2.95 0 1 0 5.9 0a2.95 2.95 0 1 0 -5.9 0M247.6 158.6a2.95 2.95 0 1 0 5.9 0a2.95 2.95 0 1 0 -5.9 0M248.8 162.0a2.95 2.95 0 1 0 5.9 0a2.95 2.95 0 1 0 -5.9 0M250.0 166.9a2.95 2.95 0 1 0 5.9 0a2.95 2.95 0 1 0 -5.9 0M251.5 171.6a2.95 2.95 0 1 0 5.9 0a2.95 2.95 0 1 0 -5.9 0M252.4 174.1a2.95 2.95 0 1 0 5.9 0a2.95 2.95 0 1 0 -5.9 0M253.6 179.4a2.95 2.95 0 1 0 5.9 0a2.95 2.95 0 1 0 -5.9 0M255.5 187.2a2.95 2.95 0 1 0 5.9 0a2.95 2.95 0 1 0 -5.9 0M256.7 193.7a2.95 2.95 0 1 0 5.9 0a2.95 2.95 0 1 0 -5.9 0M258.1 197.0a2.95 2.95 0 1 0 5.9 0a2.95 2.95 0 1 0 -5.9 0M258.9 199.7a2.95 2.95 0 1 0 5.9 0a2.95 2.95 0 1 0 -5.9 0M260.6 204.6a2.95 2.95 0 1 0 5.9 0a2.95 2.95 0 1 0 -5.9 0M261.9 209.0a2.95 2.95 0 1 0 5.9 0a2.95 2.95 0 1 0 -5.9 0M263.1 208.6a2.95 2.95 0 1 0 5.9 0a2.95 2.95 0 1 0 -5.9 0M264.1 211.1a2.95 2.95 0 1 0 5.9 0a2.95 2.95 0 1 0 -5.9 0M265.9 215.3a2.95 2.95 0 1 0 5.9 0a2.95 2.95 0 1 0 -5.9 0M267.6 220.7a2.95 2.95 0 1 0 5.9 0a2.95 2.95 0 1 0 -5.9 0M268.8 221.7a2.95 2.95 0 1 0 5.9 0a2.95 2.95 0 1 0 -5.9 0M269.8 224.1a2.95 2.95 0 1 0 5.9 0a2.95 2.95 0 1 0 -5.9 0M271.3 226.9a2.95 2.95 0 1 0 5.9 0a2.95 2.95 0 1 0 -5.9 0M272.8 227.5a2.95 2.95 0 1 0 5.9 0a2.95 2.95 0 1 0 -5.9 0M273.3 227.9a2.95 2.95 0 1 0 5.9 0a2.95 2.95 0 1 0 -5.9 0M275.3 229.8a2.95 2.95 0 1 0 5.9 0a2.95 2.95 0 1 0 -5.9 0M276.8 229.6a2.95 2.95 0 1 0 5.9 0a2.95 2.95 0 1 0 -5.9 0M278.1 229.8a2.95 2.95 0 1 0 5.9 0a2.95 2.95 0 1 0 -5.9 0M279.7 232.6a2.95 2.95 0 1 0 5.9 0a2.95 2.95 0 1 0 -5.9 0M280.9 234.1a2.95 2.95 0 1 0 5.9 0a2.95 2.95 0 1 0 -5.9 0M282.0 234.1a2.95 2.95 0 1 0 5.9 0a2.95 2.95 0 1 0 -5.9 0M283.4 232.1a2.95 2.95 0 1 0 5.9 0a2.95 2.95 0 1 0 -5.9 0M284.8 234.8a2.95 2.95 0 1 0 5.9 0a2.95 2.95 0 1 0 -5.9 0M285.8 236.9a2.95 2.95 0 1 0 5.9 0a2.95 2.95 0 1 0 -5.9 0M287.3 236.7a2.95 2.95 0 1 0 5.9 0a2.95 2.95 0 1 0 -5.9 0M288.8 235.9a2.95 2.95 0 1 0 5.9 0a2.95 2.95 0 1 0 -5.9 0M290.4 234.8a2.95 2.95 0 1 0 5.9 0a2.95 2.95 0 1 0 -5.9 0M291.2 237.3a2.95 2.95 0 1 0 5.9 0a2.95 2.95 0 1 0 -5.9 0M292.6 235.5a2.95 2.95 0 1 0 5.9 0a2.95 2.95 0 1 0 -5.9 0M294.0 234.8a2.95 2.95 0 1 0 5.9 0a2.95 2.95 0 1 0 -5.9 0M295.6 235.5a2.95 2.95 0 1 0 5.9 0a2.95 2.95 0 1 0 -5.9 0M296.6 239.3a2.95 2.95 0 1 0 5.9 0a2.95 2.95 0 1 0 -5.9 0M298.3 237.4a2.95 2.95 0 1 0 5.9 0a2.95 2.95 0 1 0 -5.9 0M299.0 238.9a2.95 2.95 0 1 0 5.9 0a2.95 2.95 0 1 0 -5.9 0M300.5 236.3a2.95 2.95 0 1 0 5.9 0a2.95 2.95 0 1 0 -5.9 0M301.9 238.6a2.95 2.95 0 1 0 5.9 0a2.95 2.95 0 1 0 -5.9 0M303.4 236.2a2.95 2.95 0 1 0 5.9 0a2.95 2.95 0 1 0 -5.9 0M304.8 237.0a2.95 2.95 0 1 0 5.9 0a2.95 2.95 0 1 0 -5.9 0M305.5 241.2a2.95 2.95 0 1 0 5.9 0a2.95 2.95 0 1 0 -5.9 0M307.0 238.5a2.95 2.95 0 1 0 5.9 0a2.95 2.95 0 1 0 -5.9 0M308.6 236.5a2.95 2.95 0 1 0 5.9 0a2.95 2.95 0 1 0 -5.9 0M309.7 237.2a2.95 2.95 0 1 0 5.9 0a2.95 2.95 0 1 0 -5.9 0M310.8 237.9a2.95 2.95 0 1 0 5.9 0a2.95 2.95 0 1 0 -5.9 0M312.8 239.4a2.95 2.95 0 1 0 5.9 0a2.95 2.95 0 1 0 -5.9 0M314.0 236.7a2.95 2.95 0 1 0 5.9 0a2.95 2.95 0 1 0 -5.9 0M315.3 234.7a2.95 2.95 0 1 0 5.9 0a2.95 2.95 0 1 0 -5.9 0M316.4 237.1a2.95 2.95 0 1 0 5.9 0a2.95 2.95 0 1 0 -5.9 0M318.1 237.6a2.95 2.95 0 1 0 5.9 0a2.95 2.95 0 1 0 -5.9 0M319.1 237.8a2.95 2.95 0 1 0 5.9 0a2.95 2.95 0 1 0 -5.9 0M320.8 239.8a2.95 2.95 0 1 0 5.9 0a2.95 2.95 0 1 0 -5.9 0M321.6 238.2a2.95 2.95 0 1 0 5.9 0a2.95 2.95 0 1 0 -5.9 0M323.0 239.0a2.95 2.95 0 1 0 5.9 0a2.95 2.95 0 1 0 -5.9 0M324.6 236.0a2.95 2.95 0 1 0 5.9 0a2.95 2.95 0 1 0 -5.9 0M325.7 239.2a2.95 2.95 0 1 0 5.9 0a2.95 2.95 0 1 0 -5.9 0M327.3 241.2a2.95 2.95 0 1 0 5.9 0a2.95 2.95 0 1 0 -5.9 0M328.6 239.1a2.95 2.95 0 1 0 5.9 0a2.95 2.95 0 1 0 -5.9 0M329.6 238.3a2.95 2.95 0 1 0 5.9 0a2.95 2.95 0 1 0 -5.9 0M331.2 238.2a2.95 2.95 0 1 0 5.9 0a2.95 2.95 0 1 0 -5.9 0M332.4 240.9a2.95 2.95 0 1 0 5.9 0a2.95 2.95 0 1 0 -5.9 0M334.1 236.6a2.95 2.95 0 1 0 5.9 0a2.95 2.95 0 1 0 -5.9 0M335.0 237.9a2.95 2.95 0 1 0 5.9 0a2.95 2.95 0 1 0 -5.9 0M336.4 238.9a2.95 2.95 0 1 0 5.9 0a2.95 2.95 0 1 0 -5.9 0M338.1 239.4a2.95 2.95 0 1 0 5.9 0a2.95 2.95 0 1 0 -5.9 0M339.7 237.5a2.95 2.95 0 1 0 5.9 0a2.95 2.95 0 1 0 -5.9 0M341.0 238.8a2.95 2.95 0 1 0 5.9 0a2.95 2.95 0 1 0 -5.9 0"/>
<path d="M49.0 10.0H345.0V242.6H49.0ZM108.1 242.6v-3.2M108.1 10.0v3.2M206.8 242.6v-3.2M206.8 10.0v3.2M305.5 242.6v-3.2M305.5 10.0v3.2M49.0 238.5h3.2M345.0 238.5h-3.2M49.0 129.7h3.2M345.0 129.7h-3.2M49.0 20.9h3.2M345.0 20.9h-3.2" fill="none" stroke="#555" stroke-width="1.3"/>
<clipPath id="cc"><rect x="49.0" y="287.6" width="296.2" height="232.69999999999993"/></clipPath>
<path fill="#3d7cc5" clip-path="url(#cc)" d="M46.5 485.4a2.9 2.9 0 1 0 5.8 0a2.9 2.9 0 1 0 -5.8 0M48.1 486.6a2.9 2.9 0 1 0 5.8 0a2.9 2.9 0 1 0 -5.8 0M49.4 493.7a2.9 2.9 0 1 0 5.8 0a2.9 2.9 0 1 0 -5.8 0M50.5 491.3a2.9 2.9 0 1 0 5.8 0a2.9 2.9 0 1 0 -5.8 0M52.4 486.0a2.9 2.9 0 1 0 5.8 0a2.9 2.9 0 1 0 -5.8 0M54.2 499.5a2.9 2.9 0 1 0 5.8 0a2.9 2.9 0 1 0 -5.8 0M54.9 500.7a2.9 2.9 0 1 0 5.8 0a2.9 2.9 0 1 0 -5.8 0M56.7 481.7a2.9 2.9 0 1 0 5.8 0a2.9 2.9 0 1 0 -5.8 0M58.5 490.0a2.9 2.9 0 1 0 5.8 0a2.9 2.9 0 1 0 -5.8 0M59.2 500.7a2.9 2.9 0 1 0 5.8 0a2.9 2.9 0 1 0 -5.8 0M61.2 491.4a2.9 2.9 0 1 0 5.8 0a2.9 2.9 0 1 0 -5.8 0M62.1 488.2a2.9 2.9 0 1 0 5.8 0a2.9 2.9 0 1 0 -5.8 0M64.5 485.2a2.9 2.9 0 1 0 5.8 0a2.9 2.9 0 1 0 -5.8 0M66.4 481.6a2.9 2.9 0 1 0 5.8 0a2.9 2.9 0 1 0 -5.8 0M67.7 481.6a2.9 2.9 0 1 0 5.8 0a2.9 2.9 0 1 0 -5.8 0M68.3 479.2a2.9 2.9 0 1 0 5.8 0a2.9 2.9 0 1 0 -5.8 0M70.1 483.3a2.9 2.9 0 1 0 5.8 0a2.9 2.9 0 1 0 -5.8 0M71.3 476.0a2.9 2.9 0 1 0 5.8 0a2.9 2.9 0 1 0 -5.8 0M72.7 477.6a2.9 2.9 0 1 0 5.8 0a2.9 2.9 0 1 0 -5.8 0M74.8 476.4a2.9 2.9 0 1 0 5.8 0a2.9 2.9 0 1 0 -5.8 0M75.1 482.6a2.9 2.9 0 1 0 5.8 0a2.9 2.9 0 1 0 -5.8 0M77.5 481.4a2.9 2.9 0 1 0 5.8 0a2.9 2.9 0 1 0 -5.8 0M78.5 486.3a2.9 2.9 0 1 0 5.8 0a2.9 2.9 0 1 0 -5.8 0M80.5 494.1a2.9 2.9 0 1 0 5.8 0a2.9 2.9 0 1 0 -5.8 0M81.5 491.3a2.9 2.9 0 1 0 5.8 0a2.9 2.9 0 1 0 -5.8 0M82.6 492.7a2.9 2.9 0 1 0 5.8 0a2.9 2.9 0 1 0 -5.8 0M84.4 493.1a2.9 2.9 0 1 0 5.8 0a2.9 2.9 0 1 0 -5.8 0M86.0 492.6a2.9 2.9 0 1 0 5.8 0a2.9 2.9 0 1 0 -5.8 0M87.2 492.4a2.9 2.9 0 1 0 5.8 0a2.9 2.9 0 1 0 -5.8 0M88.8 492.4a2.9 2.9 0 1 0 5.8 0a2.9 2.9 0 1 0 -5.8 0M89.9 495.3a2.9 2.9 0 1 0 5.8 0a2.9 2.9 0 1 0 -5.8 0M90.7 484.2a2.9 2.9 0 1 0 5.8 0a2.9 2.9 0 1 0 -5.8 0M93.4 490.3a2.9 2.9 0 1 0 5.8 0a2.9 2.9 0 1 0 -5.8 0M94.7 480.6a2.9 2.9 0 1 0 5.8 0a2.9 2.9 0 1 0 -5.8 0M96.0 474.4a2.9 2.9 0 1 0 5.8 0a2.9 2.9 0 1 0 -5.8 0M97.4 476.6a2.9 2.9 0 1 0 5.8 0a2.9 2.9 0 1 0 -5.8 0M99.2 476.8a2.9 2.9 0 1 0 5.8 0a2.9 2.9 0 1 0 -5.8 0M100.1 481.5a2.9 2.9 0 1 0 5.8 0a2.9 2.9 0 1 0 -5.8 0M101.4 477.9a2.9 2.9 0 1 0 5.8 0a2.9 2.9 0 1 0 -5.8 0M103.1 488.2a2.9 2.9 0 1 0 5.8 0a2.9 2.9 0 1 0 -5.8 0M105.1 479.8a2.9 2.9 0 1 0 5.8 0a2.9 2.9 0 1 0 -5.8 0M105.5 472.5a2.9 2.9 0 1 0 5.8 0a2.9 2.9 0 1 0 -5.8 0M108.0 481.7a2.9 2.9 0 1 0 5.8 0a2.9 2.9 0 1 0 -5.8 0M108.7 475.7a2.9 2.9 0 1 0 5.8 0a2.9 2.9 0 1 0 -5.8 0M110.0 486.0a2.9 2.9 0 1 0 5.8 0a2.9 2.9 0 1 0 -5.8 0M112.4 492.1a2.9 2.9 0 1 0 5.8 0a2.9 2.9 0 1 0 -5.8 0M113.3 490.3a2.9 2.9 0 1 0 5.8 0a2.9 2.9 0 1 0 -5.8 0M114.2 480.6a2.9 2.9 0 1 0 5.8 0a2.9 2.9 0 1 0 -5.8 0M240.2 487.4a2.9 2.9 0 1 0 5.8 0a2.9 2.9 0 1 0 -5.8 0M241.9 487.8a2.9 2.9 0 1 0 5.8 0a2.9 2.9 0 1 0 -5.8 0M243.0 490.7a2.9 2.9 0 1 0 5.8 0a2.9 2.9 0 1 0 -5.8 0M244.9 495.9a2.9 2.9 0 1 0 5.8 0a2.9 2.9 0 1 0 -5.8 0M247.3 500.2a2.9 2.9 0 1 0 5.8 0a2.9 2.9 0 1 0 -5.8 0M247.7 503.0a2.9 2.9 0 1 0 5.8 0a2.9 2.9 0 1 0 -5.8 0M249.9 503.6a2.9 2.9 0 1 0 5.8 0a2.9 2.9 0 1 0 -5.8 0M250.5 503.6a2.9 2.9 0 1 0 5.8 0a2.9 2.9 0 1 0 -5.8 0M252.6 504.9a2.9 2.9 0 1 0 5.8 0a2.9 2.9 0 1 0 -5.8 0M253.8 501.7a2.9 2.9 0 1 0 5.8 0a2.9 2.9 0 1 0 -5.8 0M255.4 491.0a2.9 2.9 0 1 0 5.8 0a2.9 2.9 0 1 0 -5.8 0M257.1 498.3a2.9 2.9 0 1 0 5.8 0a2.9 2.9 0 1 0 -5.8 0M259.0 501.0a2.9 2.9 0 1 0 5.8 0a2.9 2.9 0 1 0 -5.8 0M259.8 497.6a2.9 2.9 0 1 0 5.8 0a2.9 2.9 0 1 0 -5.8 0M261.2 504.4a2.9 2.9 0 1 0 5.8 0a2.9 2.9 0 1 0 -5.8 0M262.3 498.2a2.9 2.9 0 1 0 5.8 0a2.9 2.9 0 1 0 -5.8 0M264.3 495.6a2.9 2.9 0 1 0 5.8 0a2.9 2.9 0 1 0 -5.8 0M265.5 507.6a2.9 2.9 0 1 0 5.8 0a2.9 2.9 0 1 0 -5.8 0M267.3 504.0a2.9 2.9 0 1 0 5.8 0a2.9 2.9 0 1 0 -5.8 0M268.4 501.9a2.9 2.9 0 1 0 5.8 0a2.9 2.9 0 1 0 -5.8 0M270.6 505.7a2.9 2.9 0 1 0 5.8 0a2.9 2.9 0 1 0 -5.8 0M270.6 506.3a2.9 2.9 0 1 0 5.8 0a2.9 2.9 0 1 0 -5.8 0M272.7 503.0a2.9 2.9 0 1 0 5.8 0a2.9 2.9 0 1 0 -5.8 0M274.6 489.2a2.9 2.9 0 1 0 5.8 0a2.9 2.9 0 1 0 -5.8 0M275.6 498.2a2.9 2.9 0 1 0 5.8 0a2.9 2.9 0 1 0 -5.8 0M276.8 499.5a2.9 2.9 0 1 0 5.8 0a2.9 2.9 0 1 0 -5.8 0M278.5 497.0a2.9 2.9 0 1 0 5.8 0a2.9 2.9 0 1 0 -5.8 0M279.5 503.1a2.9 2.9 0 1 0 5.8 0a2.9 2.9 0 1 0 -5.8 0M281.5 508.3a2.9 2.9 0 1 0 5.8 0a2.9 2.9 0 1 0 -5.8 0M283.9 500.2a2.9 2.9 0 1 0 5.8 0a2.9 2.9 0 1 0 -5.8 0M284.9 497.1a2.9 2.9 0 1 0 5.8 0a2.9 2.9 0 1 0 -5.8 0M285.4 512.9a2.9 2.9 0 1 0 5.8 0a2.9 2.9 0 1 0 -5.8 0M287.0 500.7a2.9 2.9 0 1 0 5.8 0a2.9 2.9 0 1 0 -5.8 0M288.6 496.8a2.9 2.9 0 1 0 5.8 0a2.9 2.9 0 1 0 -5.8 0M290.6 504.1a2.9 2.9 0 1 0 5.8 0a2.9 2.9 0 1 0 -5.8 0M291.3 505.1a2.9 2.9 0 1 0 5.8 0a2.9 2.9 0 1 0 -5.8 0M292.8 499.4a2.9 2.9 0 1 0 5.8 0a2.9 2.9 0 1 0 -5.8 0M294.9 506.8a2.9 2.9 0 1 0 5.8 0a2.9 2.9 0 1 0 -5.8 0M296.3 500.4a2.9 2.9 0 1 0 5.8 0a2.9 2.9 0 1 0 -5.8 0M297.3 498.2a2.9 2.9 0 1 0 5.8 0a2.9 2.9 0 1 0 -5.8 0M298.5 503.7a2.9 2.9 0 1 0 5.8 0a2.9 2.9 0 1 0 -5.8 0M299.7 506.6a2.9 2.9 0 1 0 5.8 0a2.9 2.9 0 1 0 -5.8 0M301.5 499.6a2.9 2.9 0 1 0 5.8 0a2.9 2.9 0 1 0 -5.8 0M302.4 504.4a2.9 2.9 0 1 0 5.8 0a2.9 2.9 0 1 0 -5.8 0M305.0 502.2a2.9 2.9 0 1 0 5.8 0a2.9 2.9 0 1 0 -5.8 0M305.9 516.8a2.9 2.9 0 1 0 5.8 0a2.9 2.9 0 1 0 -5.8 0M307.8 499.1a2.9 2.9 0 1 0 5.8 0a2.9 2.9 0 1 0 -5.8 0M309.8 509.5a2.9 2.9 0 1 0 5.8 0a2.9 2.9 0 1 0 -5.8 0M311.0 502.3a2.9 2.9 0 1 0 5.8 0a2.9 2.9 0 1 0 -5.8 0M311.5 501.9a2.9 2.9 0 1 0 5.8 0a2.9 2.9 0 1 0 -5.8 0M313.7 506.1a2.9 2.9 0 1 0 5.8 0a2.9 2.9 0 1 0 -5.8 0M315.3 507.0a2.9 2.9 0 1 0 5.8 0a2.9 2.9 0 1 0 -5.8 0M316.0 508.8a2.9 2.9 0 1 0 5.8 0a2.9 2.9 0 1 0 -5.8 0M317.4 504.1a2.9 2.9 0 1 0 5.8 0a2.9 2.9 0 1 0 -5.8 0M319.2 499.4a2.9 2.9 0 1 0 5.8 0a2.9 2.9 0 1 0 -5.8 0M320.0 499.7a2.9 2.9 0 1 0 5.8 0a2.9 2.9 0 1 0 -5.8 0M322.7 504.9a2.9 2.9 0 1 0 5.8 0a2.9 2.9 0 1 0 -5.8 0M322.6 505.3a2.9 2.9 0 1 0 5.8 0a2.9 2.9 0 1 0 -5.8 0M324.6 509.3a2.9 2.9 0 1 0 5.8 0a2.9 2.9 0 1 0 -5.8 0M326.3 504.4a2.9 2.9 0 1 0 5.8 0a2.9 2.9 0 1 0 -5.8 0M327.8 507.6a2.9 2.9 0 1 0 5.8 0a2.9 2.9 0 1 0 -5.8 0M329.4 509.8a2.9 2.9 0 1 0 5.8 0a2.9 2.9 0 1 0 -5.8 0M330.9 503.0a2.9 2.9 0 1 0 5.8 0a2.9 2.9 0 1 0 -5.8 0M332.2 494.8a2.9 2.9 0 1 0 5.8 0a2.9 2.9 0 1 0 -5.8 0M334.2 496.2a2.9 2.9 0 1 0 5.8 0a2.9 2.9 0 1 0 -5.8 0M334.3 495.0a2.9 2.9 0 1 0 5.8 0a2.9 2.9 0 1 0 -5.8 0M336.6 510.1a2.9 2.9 0 1 0 5.8 0a2.9 2.9 0 1 0 -5.8 0M337.8 497.8a2.9 2.9 0 1 0 5.8 0a2.9 2.9 0 1 0 -5.8 0M339.6 508.2a2.9 2.9 0 1 0 5.8 0a2.9 2.9 0 1 0 -5.8 0M341.0 504.9a2.9 2.9 0 1 0 5.8 0a2.9 2.9 0 1 0 -5.8 0M194.4 313.7a2.9 2.9 0 1 0 5.8 0a2.9 2.9 0 1 0 -5.8 0M192.7 320.1a2.9 2.9 0 1 0 5.8 0a2.9 2.9 0 1 0 -5.8 0M197.5 323.4a2.9 2.9 0 1 0 5.8 0a2.9 2.9 0 1 0 -5.8 0M195.7 327.0a2.9 2.9 0 1 0 5.8 0a2.9 2.9 0 1 0 -5.8 0M191.3 330.0a2.9 2.9 0 1 0 5.8 0a2.9 2.9 0 1 0 -5.8 0M198.8 330.0a2.9 2.9 0 1 0 5.8 0a2.9 2.9 0 1 0 -5.8 0M189.8 336.2a2.9 2.9 0 1 0 5.8 0a2.9 2.9 0 1 0 -5.8 0M200.0 337.2a2.9 2.9 0 1 0 5.8 0a2.9 2.9 0 1 0 -5.8 0M201.6 343.3a2.9 2.9 0 1 0 5.8 0a2.9 2.9 0 1 0 -5.8 0M188.3 346.4a2.9 2.9 0 1 0 5.8 0a2.9 2.9 0 1 0 -5.8 0M184.2 347.4a2.9 2.9 0 1 0 5.8 0a2.9 2.9 0 1 0 -5.8 0M182.1 351.5a2.9 2.9 0 1 0 5.8 0a2.9 2.9 0 1 0 -5.8 0M186.7 354.0a2.9 2.9 0 1 0 5.8 0a2.9 2.9 0 1 0 -5.8 0M185.7 356.6a2.9 2.9 0 1 0 5.8 0a2.9 2.9 0 1 0 -5.8 0M181.1 361.7a2.9 2.9 0 1 0 5.8 0a2.9 2.9 0 1 0 -5.8 0M203.1 355.1a2.9 2.9 0 1 0 5.8 0a2.9 2.9 0 1 0 -5.8 0M207.7 354.0a2.9 2.9 0 1 0 5.8 0a2.9 2.9 0 1 0 -5.8 0M205.1 358.1a2.9 2.9 0 1 0 5.8 0a2.9 2.9 0 1 0 -5.8 0M206.1 362.2a2.9 2.9 0 1 0 5.8 0a2.9 2.9 0 1 0 -5.8 0M181.0 362.6a2.9 2.9 0 1 0 5.8 0a2.9 2.9 0 1 0 -5.8 0M210.8 369.6a2.9 2.9 0 1 0 5.8 0a2.9 2.9 0 1 0 -5.8 0M209.0 373.1a2.9 2.9 0 1 0 5.8 0a2.9 2.9 0 1 0 -5.8 0M179.8 378.4a2.9 2.9 0 1 0 5.8 0a2.9 2.9 0 1 0 -5.8 0M178.0 379.5a2.9 2.9 0 1 0 5.8 0a2.9 2.9 0 1 0 -5.8 0M175.1 386.0a2.9 2.9 0 1 0 5.8 0a2.9 2.9 0 1 0 -5.8 0M211.9 386.5a2.9 2.9 0 1 0 5.8 0a2.9 2.9 0 1 0 -5.8 0M214.8 390.0a2.9 2.9 0 1 0 5.8 0a2.9 2.9 0 1 0 -5.8 0M176.9 401.7a2.9 2.9 0 1 0 5.8 0a2.9 2.9 0 1 0 -5.8 0M172.2 407.0a2.9 2.9 0 1 0 5.8 0a2.9 2.9 0 1 0 -5.8 0M163.5 405.8a2.9 2.9 0 1 0 5.8 0a2.9 2.9 0 1 0 -5.8 0M164.6 409.9a2.9 2.9 0 1 0 5.8 0a2.9 2.9 0 1 0 -5.8 0M167.0 414.6a2.9 2.9 0 1 0 5.8 0a2.9 2.9 0 1 0 -5.8 0M170.5 418.1a2.9 2.9 0 1 0 5.8 0a2.9 2.9 0 1 0 -5.8 0M168.1 419.8a2.9 2.9 0 1 0 5.8 0a2.9 2.9 0 1 0 -5.8 0M161.7 422.2a2.9 2.9 0 1 0 5.8 0a2.9 2.9 0 1 0 -5.8 0M165.9 412.8a2.9 2.9 0 1 0 5.8 0a2.9 2.9 0 1 0 -5.8 0M168.8 415.7a2.9 2.9 0 1 0 5.8 0a2.9 2.9 0 1 0 -5.8 0M151.7 434.2a2.9 2.9 0 1 0 5.8 0a2.9 2.9 0 1 0 -5.8 0M158.8 435.6a2.9 2.9 0 1 0 5.8 0a2.9 2.9 0 1 0 -5.8 0M155.5 441.3a2.9 2.9 0 1 0 5.8 0a2.9 2.9 0 1 0 -5.8 0M145.5 442.3a2.9 2.9 0 1 0 5.8 0a2.9 2.9 0 1 0 -5.8 0M153.1 447.5a2.9 2.9 0 1 0 5.8 0a2.9 2.9 0 1 0 -5.8 0M160.2 448.0a2.9 2.9 0 1 0 5.8 0a2.9 2.9 0 1 0 -5.8 0M142.7 453.6a2.9 2.9 0 1 0 5.8 0a2.9 2.9 0 1 0 -5.8 0M144.1 456.5a2.9 2.9 0 1 0 5.8 0a2.9 2.9 0 1 0 -5.8 0M148.8 460.8a2.9 2.9 0 1 0 5.8 0a2.9 2.9 0 1 0 -5.8 0M147.4 463.6a2.9 2.9 0 1 0 5.8 0a2.9 2.9 0 1 0 -5.8 0M133.7 457.0a2.9 2.9 0 1 0 5.8 0a2.9 2.9 0 1 0 -5.8 0M130.8 460.8a2.9 2.9 0 1 0 5.8 0a2.9 2.9 0 1 0 -5.8 0M127.5 466.5a2.9 2.9 0 1 0 5.8 0a2.9 2.9 0 1 0 -5.8 0M129.4 469.8a2.9 2.9 0 1 0 5.8 0a2.9 2.9 0 1 0 -5.8 0M135.6 470.7a2.9 2.9 0 1 0 5.8 0a2.9 2.9 0 1 0 -5.8 0M139.4 467.4a2.9 2.9 0 1 0 5.8 0a2.9 2.9 0 1 0 -5.8 0M141.3 472.6a2.9 2.9 0 1 0 5.8 0a2.9 2.9 0 1 0 -5.8 0M138.4 477.4a2.9 2.9 0 1 0 5.8 0a2.9 2.9 0 1 0 -5.8 0M123.7 476.9a2.9 2.9 0 1 0 5.8 0a2.9 2.9 0 1 0 -5.8 0M120.4 478.3a2.9 2.9 0 1 0 5.8 0a2.9 2.9 0 1 0 -5.8 0M108.1 478.3a2.9 2.9 0 1 0 5.8 0a2.9 2.9 0 1 0 -5.8 0M216.2 407.2a2.9 2.9 0 1 0 5.8 0a2.9 2.9 0 1 0 -5.8 0M217.2 418.2a2.9 2.9 0 1 0 5.8 0a2.9 2.9 0 1 0 -5.8 0M219.6 417.2a2.9 2.9 0 1 0 5.8 0a2.9 2.9 0 1 0 -5.8 0M222.4 420.1a2.9 2.9 0 1 0 5.8 0a2.9 2.9 0 1 0 -5.8 0M223.9 436.9a2.9 2.9 0 1 0 5.8 0a2.9 2.9 0 1 0 -5.8 0M220.5 440.2a2.9 2.9 0 1 0 5.8 0a2.9 2.9 0 1 0 -5.8 0M225.8 441.2a2.9 2.9 0 1 0 5.8 0a2.9 2.9 0 1 0 -5.8 0M226.3 445.5a2.9 2.9 0 1 0 5.8 0a2.9 2.9 0 1 0 -5.8 0M228.7 447.9a2.9 2.9 0 1 0 5.8 0a2.9 2.9 0 1 0 -5.8 0M231.0 455.6a2.9 2.9 0 1 0 5.8 0a2.9 2.9 0 1 0 -5.8 0M229.6 460.3a2.9 2.9 0 1 0 5.8 0a2.9 2.9 0 1 0 -5.8 0M234.4 465.6a2.9 2.9 0 1 0 5.8 0a2.9 2.9 0 1 0 -5.8 0M232.5 473.8a2.9 2.9 0 1 0 5.8 0a2.9 2.9 0 1 0 -5.8 0M237.3 475.2a2.9 2.9 0 1 0 5.8 0a2.9 2.9 0 1 0 -5.8 0"/>
<path fill="#dc5229" clip-path="url(#cc)" d="M47.3 495.1a2.9 2.9 0 1 0 5.8 0a2.9 2.9 0 1 0 -5.8 0M48.5 513.7a2.9 2.9 0 1 0 5.8 0a2.9 2.9 0 1 0 -5.8 0M49.5 506.4a2.9 2.9 0 1 0 5.8 0a2.9 2.9 0 1 0 -5.8 0M50.9 514.7a2.9 2.9 0 1 0 5.8 0a2.9 2.9 0 1 0 -5.8 0M52.4 508.3a2.9 2.9 0 1 0 5.8 0a2.9 2.9 0 1 0 -5.8 0M53.9 512.8a2.9 2.9 0 1 0 5.8 0a2.9 2.9 0 1 0 -5.8 0M55.1 501.6a2.9 2.9 0 1 0 5.8 0a2.9 2.9 0 1 0 -5.8 0M56.7 507.9a2.9 2.9 0 1 0 5.8 0a2.9 2.9 0 1 0 -5.8 0M58.8 520.8a2.9 2.9 0 1 0 5.8 0a2.9 2.9 0 1 0 -5.8 0M59.0 495.3a2.9 2.9 0 1 0 5.8 0a2.9 2.9 0 1 0 -5.8 0M61.2 510.9a2.9 2.9 0 1 0 5.8 0a2.9 2.9 0 1 0 -5.8 0M62.2 514.4a2.9 2.9 0 1 0 5.8 0a2.9 2.9 0 1 0 -5.8 0M64.1 506.1a2.9 2.9 0 1 0 5.8 0a2.9 2.9 0 1 0 -5.8 0M65.8 508.4a2.9 2.9 0 1 0 5.8 0a2.9 2.9 0 1 0 -5.8 0M66.9 511.7a2.9 2.9 0 1 0 5.8 0a2.9 2.9 0 1 0 -5.8 0M68.7 499.1a2.9 2.9 0 1 0 5.8 0a2.9 2.9 0 1 0 -5.8 0M69.2 506.2a2.9 2.9 0 1 0 5.8 0a2.9 2.9 0 1 0 -5.8 0M71.7 497.7a2.9 2.9 0 1 0 5.8 0a2.9 2.9 0 1 0 -5.8 0M72.5 499.0a2.9 2.9 0 1 0 5.8 0a2.9 2.9 0 1 0 -5.8 0M74.4 499.4a2.9 2.9 0 1 0 5.8 0a2.9 2.9 0 1 0 -5.8 0M75.7 502.6a2.9 2.9 0 1 0 5.8 0a2.9 2.9 0 1 0 -5.8 0M76.0 504.6a2.9 2.9 0 1 0 5.8 0a2.9 2.9 0 1 0 -5.8 0M78.2 506.6a2.9 2.9 0 1 0 5.8 0a2.9 2.9 0 1 0 -5.8 0M80.0 494.2a2.9 2.9 0 1 0 5.8 0a2.9 2.9 0 1 0 -5.8 0M82.0 516.9a2.9 2.9 0 1 0 5.8 0a2.9 2.9 0 1 0 -5.8 0M83.0 511.4a2.9 2.9 0 1 0 5.8 0a2.9 2.9 0 1 0 -5.8 0M84.4 508.6a2.9 2.9 0 1 0 5.8 0a2.9 2.9 0 1 0 -5.8 0M85.2 501.4a2.9 2.9 0 1 0 5.8 0a2.9 2.9 0 1 0 -5.8 0M87.8 503.2a2.9 2.9 0 1 0 5.8 0a2.9 2.9 0 1 0 -5.8 0M89.4 507.5a2.9 2.9 0 1 0 5.8 0a2.9 2.9 0 1 0 -5.8 0M90.1 506.6a2.9 2.9 0 1 0 5.8 0a2.9 2.9 0 1 0 -5.8 0M91.5 492.7a2.9 2.9 0 1 0 5.8 0a2.9 2.9 0 1 0 -5.8 0M92.4 508.8a2.9 2.9 0 1 0 5.8 0a2.9 2.9 0 1 0 -5.8 0M94.8 523.4a2.9 2.9 0 1 0 5.8 0a2.9 2.9 0 1 0 -5.8 0M97.0 491.7a2.9 2.9 0 1 0 5.8 0a2.9 2.9 0 1 0 -5.8 0M97.6 510.6a2.9 2.9 0 1 0 5.8 0a2.9 2.9 0 1 0 -5.8 0M99.3 506.4a2.9 2.9 0 1 0 5.8 0a2.9 2.9 0 1 0 -5.8 0M100.5 503.1a2.9 2.9 0 1 0 5.8 0a2.9 2.9 0 1 0 -5.8 0M101.3 513.0a2.9 2.9 0 1 0 5.8 0a2.9 2.9 0 1 0 -5.8 0M103.7 495.8a2.9 2.9 0 1 0 5.8 0a2.9 2.9 0 1 0 -5.8 0M104.1 504.8a2.9 2.9 0 1 0 5.8 0a2.9 2.9 0 1 0 -5.8 0M106.0 513.4a2.9 2.9 0 1 0 5.8 0a2.9 2.9 0 1 0 -5.8 0M107.6 502.3a2.9 2.9 0 1 0 5.8 0a2.9 2.9 0 1 0 -5.8 0M109.3 500.7a2.9 2.9 0 1 0 5.8 0a2.9 2.9 0 1 0 -5.8 0M110.6 504.2a2.9 2.9 0 1 0 5.8 0a2.9 2.9 0 1 0 -5.8 0M112.0 500.4a2.9 2.9 0 1 0 5.8 0a2.9 2.9 0 1 0 -5.8 0M113.0 513.7a2.9 2.9 0 1 0 5.8 0a2.9 2.9 0 1 0 -5.8 0M114.2 497.3a2.9 2.9 0 1 0 5.8 0a2.9 2.9 0 1 0 -5.8 0M116.2 509.1a2.9 2.9 0 1 0 5.8 0a2.9 2.9 0 1 0 -5.8 0M117.4 494.8a2.9 2.9 0 1 0 5.8 0a2.9 2.9 0 1 0 -5.8 0M118.6 507.6a2.9 2.9 0 1 0 5.8 0a2.9 2.9 0 1 0 -5.8 0M120.0 502.4a2.9 2.9 0 1 0 5.8 0a2.9 2.9 0 1 0 -5.8 0M121.8 485.8a2.9 2.9 0 1 0 5.8 0a2.9 2.9 0 1 0 -5.8 0M122.7 502.9a2.9 2.9 0 1 0 5.8 0a2.9 2.9 0 1 0 -5.8 0M124.4 495.8a2.9 2.9 0 1 0 5.8 0a2.9 2.9 0 1 0 -5.8 0M125.7 499.9a2.9 2.9 0 1 0 5.8 0a2.9 2.9 0 1 0 -5.8 0M127.9 513.0a2.9 2.9 0 1 0 5.8 0a2.9 2.9 0 1 0 -5.8 0M129.4 495.2a2.9 2.9 0 1 0 5.8 0a2.9 2.9 0 1 0 -5.8 0M131.5 495.5a2.9 2.9 0 1 0 5.8 0a2.9 2.9 0 1 0 -5.8 0M131.6 512.2a2.9 2.9 0 1 0 5.8 0a2.9 2.9 0 1 0 -5.8 0M133.3 503.3a2.9 2.9 0 1 0 5.8 0a2.9 2.9 0 1 0 -5.8 0M135.4 512.8a2.9 2.9 0 1 0 5.8 0a2.9 2.9 0 1 0 -5.8 0M136.4 504.6a2.9 2.9 0 1 0 5.8 0a2.9 2.9 0 1 0 -5.8 0M137.8 496.5a2.9 2.9 0 1 0 5.8 0a2.9 2.9 0 1 0 -5.8 0M140.1 501.8a2.9 2.9 0 1 0 5.8 0a2.9 2.9 0 1 0 -5.8 0M140.7 510.5a2.9 2.9 0 1 0 5.8 0a2.9 2.9 0 1 0 -5.8 0M141.8 508.5a2.9 2.9 0 1 0 5.8 0a2.9 2.9 0 1 0 -5.8 0M143.2 502.2a2.9 2.9 0 1 0 5.8 0a2.9 2.9 0 1 0 -5.8 0M145.3 502.4a2.9 2.9 0 1 0 5.8 0a2.9 2.9 0 1 0 -5.8 0M146.8 501.3a2.9 2.9 0 1 0 5.8 0a2.9 2.9 0 1 0 -5.8 0M147.6 498.1a2.9 2.9 0 1 0 5.8 0a2.9 2.9 0 1 0 -5.8 0M149.2 514.6a2.9 2.9 0 1 0 5.8 0a2.9 2.9 0 1 0 -5.8 0M151.2 501.4a2.9 2.9 0 1 0 5.8 0a2.9 2.9 0 1 0 -5.8 0M152.7 493.5a2.9 2.9 0 1 0 5.8 0a2.9 2.9 0 1 0 -5.8 0M153.6 497.8a2.9 2.9 0 1 0 5.8 0a2.9 2.9 0 1 0 -5.8 0M155.6 505.5a2.9 2.9 0 1 0 5.8 0a2.9 2.9 0 1 0 -5.8 0M157.0 504.7a2.9 2.9 0 1 0 5.8 0a2.9 2.9 0 1 0 -5.8 0M157.5 499.4a2.9 2.9 0 1 0 5.8 0a2.9 2.9 0 1 0 -5.8 0M159.6 495.5a2.9 2.9 0 1 0 5.8 0a2.9 2.9 0 1 0 -5.8 0M161.3 499.9a2.9 2.9 0 1 0 5.8 0a2.9 2.9 0 1 0 -5.8 0M162.4 488.4a2.9 2.9 0 1 0 5.8 0a2.9 2.9 0 1 0 -5.8 0M163.2 490.7a2.9 2.9 0 1 0 5.8 0a2.9 2.9 0 1 0 -5.8 0M165.4 504.4a2.9 2.9 0 1 0 5.8 0a2.9 2.9 0 1 0 -5.8 0M167.3 495.6a2.9 2.9 0 1 0 5.8 0a2.9 2.9 0 1 0 -5.8 0M169.0 501.0a2.9 2.9 0 1 0 5.8 0a2.9 2.9 0 1 0 -5.8 0M169.0 506.6a2.9 2.9 0 1 0 5.8 0a2.9 2.9 0 1 0 -5.8 0M172.3 502.3a2.9 2.9 0 1 0 5.8 0a2.9 2.9 0 1 0 -5.8 0M172.3 498.1a2.9 2.9 0 1 0 5.8 0a2.9 2.9 0 1 0 -5.8 0M174.6 512.1a2.9 2.9 0 1 0 5.8 0a2.9 2.9 0 1 0 -5.8 0M176.1 502.3a2.9 2.9 0 1 0 5.8 0a2.9 2.9 0 1 0 -5.8 0M177.5 495.4a2.9 2.9 0 1 0 5.8 0a2.9 2.9 0 1 0 -5.8 0M178.6 502.6a2.9 2.9 0 1 0 5.8 0a2.9 2.9 0 1 0 -5.8 0M179.5 500.4a2.9 2.9 0 1 0 5.8 0a2.9 2.9 0 1 0 -5.8 0M181.7 491.9a2.9 2.9 0 1 0 5.8 0a2.9 2.9 0 1 0 -5.8 0M182.6 498.1a2.9 2.9 0 1 0 5.8 0a2.9 2.9 0 1 0 -5.8 0M183.3 496.4a2.9 2.9 0 1 0 5.8 0a2.9 2.9 0 1 0 -5.8 0M186.9 484.3a2.9 2.9 0 1 0 5.8 0a2.9 2.9 0 1 0 -5.8 0M187.5 496.2a2.9 2.9 0 1 0 5.8 0a2.9 2.9 0 1 0 -5.8 0M189.4 495.4a2.9 2.9 0 1 0 5.8 0a2.9 2.9 0 1 0 -5.8 0M189.8 494.4a2.9 2.9 0 1 0 5.8 0a2.9 2.9 0 1 0 -5.8 0M192.2 486.2a2.9 2.9 0 1 0 5.8 0a2.9 2.9 0 1 0 -5.8 0M193.7 494.8a2.9 2.9 0 1 0 5.8 0a2.9 2.9 0 1 0 -5.8 0M195.1 496.8a2.9 2.9 0 1 0 5.8 0a2.9 2.9 0 1 0 -5.8 0M195.9 497.7a2.9 2.9 0 1 0 5.8 0a2.9 2.9 0 1 0 -5.8 0M196.9 489.4a2.9 2.9 0 1 0 5.8 0a2.9 2.9 0 1 0 -5.8 0M198.8 500.8a2.9 2.9 0 1 0 5.8 0a2.9 2.9 0 1 0 -5.8 0M199.4 488.3a2.9 2.9 0 1 0 5.8 0a2.9 2.9 0 1 0 -5.8 0M201.1 494.5a2.9 2.9 0 1 0 5.8 0a2.9 2.9 0 1 0 -5.8 0M203.2 504.2a2.9 2.9 0 1 0 5.8 0a2.9 2.9 0 1 0 -5.8 0M204.3 490.6a2.9 2.9 0 1 0 5.8 0a2.9 2.9 0 1 0 -5.8 0M206.0 491.4a2.9 2.9 0 1 0 5.8 0a2.9 2.9 0 1 0 -5.8 0M207.5 501.6a2.9 2.9 0 1 0 5.8 0a2.9 2.9 0 1 0 -5.8 0M209.8 491.1a2.9 2.9 0 1 0 5.8 0a2.9 2.9 0 1 0 -5.8 0M211.0 491.2a2.9 2.9 0 1 0 5.8 0a2.9 2.9 0 1 0 -5.8 0M211.9 494.2a2.9 2.9 0 1 0 5.8 0a2.9 2.9 0 1 0 -5.8 0M213.8 498.8a2.9 2.9 0 1 0 5.8 0a2.9 2.9 0 1 0 -5.8 0M214.5 476.8a2.9 2.9 0 1 0 5.8 0a2.9 2.9 0 1 0 -5.8 0M216.1 485.2a2.9 2.9 0 1 0 5.8 0a2.9 2.9 0 1 0 -5.8 0M218.1 483.1a2.9 2.9 0 1 0 5.8 0a2.9 2.9 0 1 0 -5.8 0M218.7 482.3a2.9 2.9 0 1 0 5.8 0a2.9 2.9 0 1 0 -5.8 0M220.5 483.0a2.9 2.9 0 1 0 5.8 0a2.9 2.9 0 1 0 -5.8 0M221.5 482.7a2.9 2.9 0 1 0 5.8 0a2.9 2.9 0 1 0 -5.8 0M223.5 490.1a2.9 2.9 0 1 0 5.8 0a2.9 2.9 0 1 0 -5.8 0M225.6 482.3a2.9 2.9 0 1 0 5.8 0a2.9 2.9 0 1 0 -5.8 0M226.1 489.1a2.9 2.9 0 1 0 5.8 0a2.9 2.9 0 1 0 -5.8 0M227.9 491.1a2.9 2.9 0 1 0 5.8 0a2.9 2.9 0 1 0 -5.8 0M228.9 483.6a2.9 2.9 0 1 0 5.8 0a2.9 2.9 0 1 0 -5.8 0M230.3 489.4a2.9 2.9 0 1 0 5.8 0a2.9 2.9 0 1 0 -5.8 0M231.7 499.5a2.9 2.9 0 1 0 5.8 0a2.9 2.9 0 1 0 -5.8 0M234.2 491.0a2.9 2.9 0 1 0 5.8 0a2.9 2.9 0 1 0 -5.8 0M236.0 484.7a2.9 2.9 0 1 0 5.8 0a2.9 2.9 0 1 0 -5.8 0M236.7 488.5a2.9 2.9 0 1 0 5.8 0a2.9 2.9 0 1 0 -5.8 0M237.7 483.2a2.9 2.9 0 1 0 5.8 0a2.9 2.9 0 1 0 -5.8 0M239.7 491.9a2.9 2.9 0 1 0 5.8 0a2.9 2.9 0 1 0 -5.8 0M240.8 496.3a2.9 2.9 0 1 0 5.8 0a2.9 2.9 0 1 0 -5.8 0M242.7 485.9a2.9 2.9 0 1 0 5.8 0a2.9 2.9 0 1 0 -5.8 0M243.9 490.4a2.9 2.9 0 1 0 5.8 0a2.9 2.9 0 1 0 -5.8 0M245.4 499.8a2.9 2.9 0 1 0 5.8 0a2.9 2.9 0 1 0 -5.8 0M246.9 489.8a2.9 2.9 0 1 0 5.8 0a2.9 2.9 0 1 0 -5.8 0M247.9 494.8a2.9 2.9 0 1 0 5.8 0a2.9 2.9 0 1 0 -5.8 0M249.4 487.4a2.9 2.9 0 1 0 5.8 0a2.9 2.9 0 1 0 -5.8 0M250.4 489.1a2.9 2.9 0 1 0 5.8 0a2.9 2.9 0 1 0 -5.8 0M252.3 492.1a2.9 2.9 0 1 0 5.8 0a2.9 2.9 0 1 0 -5.8 0M253.4 510.1a2.9 2.9 0 1 0 5.8 0a2.9 2.9 0 1 0 -5.8 0M255.3 494.2a2.9 2.9 0 1 0 5.8 0a2.9 2.9 0 1 0 -5.8 0M256.5 494.0a2.9 2.9 0 1 0 5.8 0a2.9 2.9 0 1 0 -5.8 0M258.3 494.6a2.9 2.9 0 1 0 5.8 0a2.9 2.9 0 1 0 -5.8 0M259.9 497.9a2.9 2.9 0 1 0 5.8 0a2.9 2.9 0 1 0 -5.8 0M260.6 503.6a2.9 2.9 0 1 0 5.8 0a2.9 2.9 0 1 0 -5.8 0M262.3 501.3a2.9 2.9 0 1 0 5.8 0a2.9 2.9 0 1 0 -5.8 0M263.7 513.5a2.9 2.9 0 1 0 5.8 0a2.9 2.9 0 1 0 -5.8 0M265.8 501.7a2.9 2.9 0 1 0 5.8 0a2.9 2.9 0 1 0 -5.8 0M267.7 509.9a2.9 2.9 0 1 0 5.8 0a2.9 2.9 0 1 0 -5.8 0M268.8 502.4a2.9 2.9 0 1 0 5.8 0a2.9 2.9 0 1 0 -5.8 0M269.8 504.6a2.9 2.9 0 1 0 5.8 0a2.9 2.9 0 1 0 -5.8 0M271.9 491.5a2.9 2.9 0 1 0 5.8 0a2.9 2.9 0 1 0 -5.8 0M272.2 500.0a2.9 2.9 0 1 0 5.8 0a2.9 2.9 0 1 0 -5.8 0M274.8 500.6a2.9 2.9 0 1 0 5.8 0a2.9 2.9 0 1 0 -5.8 0M275.4 499.6a2.9 2.9 0 1 0 5.8 0a2.9 2.9 0 1 0 -5.8 0M276.0 487.2a2.9 2.9 0 1 0 5.8 0a2.9 2.9 0 1 0 -5.8 0M279.7 507.2a2.9 2.9 0 1 0 5.8 0a2.9 2.9 0 1 0 -5.8 0M280.7 499.1a2.9 2.9 0 1 0 5.8 0a2.9 2.9 0 1 0 -5.8 0M281.1 498.8a2.9 2.9 0 1 0 5.8 0a2.9 2.9 0 1 0 -5.8 0M283.0 500.1a2.9 2.9 0 1 0 5.8 0a2.9 2.9 0 1 0 -5.8 0M284.3 500.4a2.9 2.9 0 1 0 5.8 0a2.9 2.9 0 1 0 -5.8 0M285.9 504.7a2.9 2.9 0 1 0 5.8 0a2.9 2.9 0 1 0 -5.8 0M286.7 493.8a2.9 2.9 0 1 0 5.8 0a2.9 2.9 0 1 0 -5.8 0M288.5 496.2a2.9 2.9 0 1 0 5.8 0a2.9 2.9 0 1 0 -5.8 0M290.4 504.3a2.9 2.9 0 1 0 5.8 0a2.9 2.9 0 1 0 -5.8 0M291.7 503.5a2.9 2.9 0 1 0 5.8 0a2.9 2.9 0 1 0 -5.8 0M293.6 500.3a2.9 2.9 0 1 0 5.8 0a2.9 2.9 0 1 0 -5.8 0M294.6 499.1a2.9 2.9 0 1 0 5.8 0a2.9 2.9 0 1 0 -5.8 0M296.9 497.6a2.9 2.9 0 1 0 5.8 0a2.9 2.9 0 1 0 -5.8 0M297.2 502.6a2.9 2.9 0 1 0 5.8 0a2.9 2.9 0 1 0 -5.8 0M299.0 510.8a2.9 2.9 0 1 0 5.8 0a2.9 2.9 0 1 0 -5.8 0M299.6 496.2a2.9 2.9 0 1 0 5.8 0a2.9 2.9 0 1 0 -5.8 0M301.3 513.1a2.9 2.9 0 1 0 5.8 0a2.9 2.9 0 1 0 -5.8 0M303.8 508.8a2.9 2.9 0 1 0 5.8 0a2.9 2.9 0 1 0 -5.8 0M304.3 500.4a2.9 2.9 0 1 0 5.8 0a2.9 2.9 0 1 0 -5.8 0M306.4 508.5a2.9 2.9 0 1 0 5.8 0a2.9 2.9 0 1 0 -5.8 0M307.6 493.9a2.9 2.9 0 1 0 5.8 0a2.9 2.9 0 1 0 -5.8 0M308.6 492.3a2.9 2.9 0 1 0 5.8 0a2.9 2.9 0 1 0 -5.8 0M310.4 495.2a2.9 2.9 0 1 0 5.8 0a2.9 2.9 0 1 0 -5.8 0M311.7 501.0a2.9 2.9 0 1 0 5.8 0a2.9 2.9 0 1 0 -5.8 0M313.2 501.6a2.9 2.9 0 1 0 5.8 0a2.9 2.9 0 1 0 -5.8 0M315.2 500.5a2.9 2.9 0 1 0 5.8 0a2.9 2.9 0 1 0 -5.8 0M316.6 504.5a2.9 2.9 0 1 0 5.8 0a2.9 2.9 0 1 0 -5.8 0M317.5 490.0a2.9 2.9 0 1 0 5.8 0a2.9 2.9 0 1 0 -5.8 0M318.8 507.2a2.9 2.9 0 1 0 5.8 0a2.9 2.9 0 1 0 -5.8 0M320.8 494.8a2.9 2.9 0 1 0 5.8 0a2.9 2.9 0 1 0 -5.8 0M322.1 499.8a2.9 2.9 0 1 0 5.8 0a2.9 2.9 0 1 0 -5.8 0M324.0 501.5a2.9 2.9 0 1 0 5.8 0a2.9 2.9 0 1 0 -5.8 0M326.1 496.8a2.9 2.9 0 1 0 5.8 0a2.9 2.9 0 1 0 -5.8 0M326.8 495.4a2.9 2.9 0 1 0 5.8 0a2.9 2.9 0 1 0 -5.8 0M327.9 497.8a2.9 2.9 0 1 0 5.8 0a2.9 2.9 0 1 0 -5.8 0M329.3 504.4a2.9 2.9 0 1 0 5.8 0a2.9 2.9 0 1 0 -5.8 0M330.5 508.3a2.9 2.9 0 1 0 5.8 0a2.9 2.9 0 1 0 -5.8 0M331.9 508.2a2.9 2.9 0 1 0 5.8 0a2.9 2.9 0 1 0 -5.8 0M333.3 498.1a2.9 2.9 0 1 0 5.8 0a2.9 2.9 0 1 0 -5.8 0M335.0 499.5a2.9 2.9 0 1 0 5.8 0a2.9 2.9 0 1 0 -5.8 0M336.4 498.8a2.9 2.9 0 1 0 5.8 0a2.9 2.9 0 1 0 -5.8 0M338.3 507.8a2.9 2.9 0 1 0 5.8 0a2.9 2.9 0 1 0 -5.8 0M339.3 491.6a2.9 2.9 0 1 0 5.8 0a2.9 2.9 0 1 0 -5.8 0M340.9 513.0a2.9 2.9 0 1 0 5.8 0a2.9 2.9 0 1 0 -5.8 0"/>
<path d="M49.0 287.6H345.2V520.3H49.0ZM108.4 520.3v-3.2M108.4 287.6v3.2M207.3 520.3v-3.2M207.3 287.6v3.2M306.1 520.3v-3.2M306.1 287.6v3.2M49.0 505.0h3.2M345.2 505.0h-3.2M49.0 408.1h3.2M345.2 408.1h-3.2M49.0 311.2h3.2M345.2 311.2h-3.2" fill="none" stroke="#555" stroke-width="1.3"/>
<clipPath id="ce"><rect x="49.6" y="569.8" width="295.59999999999997" height="232.20000000000005"/></clipPath>
<path fill="#3d7cc5" clip-path="url(#ce)" d="M46.7 792.6a2.95 2.95 0 1 0 5.9 0a2.95 2.95 0 1 0 -5.9 0M48.0 787.0a2.95 2.95 0 1 0 5.9 0a2.95 2.95 0 1 0 -5.9 0M49.6 787.2a2.95 2.95 0 1 0 5.9 0a2.95 2.95 0 1 0 -5.9 0M51.1 789.3a2.95 2.95 0 1 0 5.9 0a2.95 2.95 0 1 0 -5.9 0M52.3 789.9a2.95 2.95 0 1 0 5.9 0a2.95 2.95 0 1 0 -5.9 0M53.8 783.6a2.95 2.95 0 1 0 5.9 0a2.95 2.95 0 1 0 -5.9 0M54.9 785.2a2.95 2.95 0 1 0 5.9 0a2.95 2.95 0 1 0 -5.9 0M56.5 782.2a2.95 2.95 0 1 0 5.9 0a2.95 2.95 0 1 0 -5.9 0M57.8 785.7a2.95 2.95 0 1 0 5.9 0a2.95 2.95 0 1 0 -5.9 0M58.8 784.8a2.95 2.95 0 1 0 5.9 0a2.95 2.95 0 1 0 -5.9 0M60.5 783.8a2.95 2.95 0 1 0 5.9 0a2.95 2.95 0 1 0 -5.9 0M61.5 782.7a2.95 2.95 0 1 0 5.9 0a2.95 2.95 0 1 0 -5.9 0M62.8 783.1a2.95 2.95 0 1 0 5.9 0a2.95 2.95 0 1 0 -5.9 0M63.9 781.9a2.95 2.95 0 1 0 5.9 0a2.95 2.95 0 1 0 -5.9 0M65.4 784.7a2.95 2.95 0 1 0 5.9 0a2.95 2.95 0 1 0 -5.9 0M67.0 787.0a2.95 2.95 0 1 0 5.9 0a2.95 2.95 0 1 0 -5.9 0M67.8 778.4a2.95 2.95 0 1 0 5.9 0a2.95 2.95 0 1 0 -5.9 0M69.6 782.7a2.95 2.95 0 1 0 5.9 0a2.95 2.95 0 1 0 -5.9 0M70.9 781.8a2.95 2.95 0 1 0 5.9 0a2.95 2.95 0 1 0 -5.9 0M72.2 784.0a2.95 2.95 0 1 0 5.9 0a2.95 2.95 0 1 0 -5.9 0M72.9 780.3a2.95 2.95 0 1 0 5.9 0a2.95 2.95 0 1 0 -5.9 0M74.8 782.2a2.95 2.95 0 1 0 5.9 0a2.95 2.95 0 1 0 -5.9 0M76.3 779.8a2.95 2.95 0 1 0 5.9 0a2.95 2.95 0 1 0 -5.9 0M77.2 784.0a2.95 2.95 0 1 0 5.9 0a2.95 2.95 0 1 0 -5.9 0M78.8 782.5a2.95 2.95 0 1 0 5.9 0a2.95 2.95 0 1 0 -5.9 0M79.5 781.9a2.95 2.95 0 1 0 5.9 0a2.95 2.95 0 1 0 -5.9 0M81.6 783.2a2.95 2.95 0 1 0 5.9 0a2.95 2.95 0 1 0 -5.9 0M82.6 781.7a2.95 2.95 0 1 0 5.9 0a2.95 2.95 0 1 0 -5.9 0M84.3 778.4a2.95 2.95 0 1 0 5.9 0a2.95 2.95 0 1 0 -5.9 0M85.0 783.8a2.95 2.95 0 1 0 5.9 0a2.95 2.95 0 1 0 -5.9 0M86.9 783.0a2.95 2.95 0 1 0 5.9 0a2.95 2.95 0 1 0 -5.9 0M88.0 781.9a2.95 2.95 0 1 0 5.9 0a2.95 2.95 0 1 0 -5.9 0M89.6 784.5a2.95 2.95 0 1 0 5.9 0a2.95 2.95 0 1 0 -5.9 0M90.5 784.8a2.95 2.95 0 1 0 5.9 0a2.95 2.95 0 1 0 -5.9 0M91.9 778.6a2.95 2.95 0 1 0 5.9 0a2.95 2.95 0 1 0 -5.9 0M94.0 778.8a2.95 2.95 0 1 0 5.9 0a2.95 2.95 0 1 0 -5.9 0M94.5 784.4a2.95 2.95 0 1 0 5.9 0a2.95 2.95 0 1 0 -5.9 0M95.9 783.7a2.95 2.95 0 1 0 5.9 0a2.95 2.95 0 1 0 -5.9 0M97.3 777.9a2.95 2.95 0 1 0 5.9 0a2.95 2.95 0 1 0 -5.9 0M98.5 776.4a2.95 2.95 0 1 0 5.9 0a2.95 2.95 0 1 0 -5.9 0M100.3 777.2a2.95 2.95 0 1 0 5.9 0a2.95 2.95 0 1 0 -5.9 0M101.8 777.0a2.95 2.95 0 1 0 5.9 0a2.95 2.95 0 1 0 -5.9 0M102.5 774.0a2.95 2.95 0 1 0 5.9 0a2.95 2.95 0 1 0 -5.9 0M103.6 777.6a2.95 2.95 0 1 0 5.9 0a2.95 2.95 0 1 0 -5.9 0M105.7 773.5a2.95 2.95 0 1 0 5.9 0a2.95 2.95 0 1 0 -5.9 0M107.0 773.2a2.95 2.95 0 1 0 5.9 0a2.95 2.95 0 1 0 -5.9 0M108.2 778.0a2.95 2.95 0 1 0 5.9 0a2.95 2.95 0 1 0 -5.9 0M109.6 773.4a2.95 2.95 0 1 0 5.9 0a2.95 2.95 0 1 0 -5.9 0M110.5 774.6a2.95 2.95 0 1 0 5.9 0a2.95 2.95 0 1 0 -5.9 0M112.0 775.7a2.95 2.95 0 1 0 5.9 0a2.95 2.95 0 1 0 -5.9 0M113.0 775.9a2.95 2.95 0 1 0 5.9 0a2.95 2.95 0 1 0 -5.9 0M114.3 772.6a2.95 2.95 0 1 0 5.9 0a2.95 2.95 0 1 0 -5.9 0M116.3 773.0a2.95 2.95 0 1 0 5.9 0a2.95 2.95 0 1 0 -5.9 0M117.2 770.5a2.95 2.95 0 1 0 5.9 0a2.95 2.95 0 1 0 -5.9 0M119.2 776.3a2.95 2.95 0 1 0 5.9 0a2.95 2.95 0 1 0 -5.9 0M120.0 773.4a2.95 2.95 0 1 0 5.9 0a2.95 2.95 0 1 0 -5.9 0M121.2 768.6a2.95 2.95 0 1 0 5.9 0a2.95 2.95 0 1 0 -5.9 0M122.9 770.9a2.95 2.95 0 1 0 5.9 0a2.95 2.95 0 1 0 -5.9 0M124.4 772.1a2.95 2.95 0 1 0 5.9 0a2.95 2.95 0 1 0 -5.9 0M125.4 771.0a2.95 2.95 0 1 0 5.9 0a2.95 2.95 0 1 0 -5.9 0M126.3 773.9a2.95 2.95 0 1 0 5.9 0a2.95 2.95 0 1 0 -5.9 0M128.1 771.9a2.95 2.95 0 1 0 5.9 0a2.95 2.95 0 1 0 -5.9 0M129.7 766.3a2.95 2.95 0 1 0 5.9 0a2.95 2.95 0 1 0 -5.9 0M130.5 767.0a2.95 2.95 0 1 0 5.9 0a2.95 2.95 0 1 0 -5.9 0M131.8 763.4a2.95 2.95 0 1 0 5.9 0a2.95 2.95 0 1 0 -5.9 0M133.6 766.3a2.95 2.95 0 1 0 5.9 0a2.95 2.95 0 1 0 -5.9 0M134.7 765.5a2.95 2.95 0 1 0 5.9 0a2.95 2.95 0 1 0 -5.9 0M135.7 771.2a2.95 2.95 0 1 0 5.9 0a2.95 2.95 0 1 0 -5.9 0M137.2 763.2a2.95 2.95 0 1 0 5.9 0a2.95 2.95 0 1 0 -5.9 0M138.4 756.5a2.95 2.95 0 1 0 5.9 0a2.95 2.95 0 1 0 -5.9 0M140.0 758.4a2.95 2.95 0 1 0 5.9 0a2.95 2.95 0 1 0 -5.9 0M141.3 759.1a2.95 2.95 0 1 0 5.9 0a2.95 2.95 0 1 0 -5.9 0M142.9 754.0a2.95 2.95 0 1 0 5.9 0a2.95 2.95 0 1 0 -5.9 0M144.1 753.3a2.95 2.95 0 1 0 5.9 0a2.95 2.95 0 1 0 -5.9 0M144.9 753.6a2.95 2.95 0 1 0 5.9 0a2.95 2.95 0 1 0 -5.9 0M146.7 753.0a2.95 2.95 0 1 0 5.9 0a2.95 2.95 0 1 0 -5.9 0M148.2 749.8a2.95 2.95 0 1 0 5.9 0a2.95 2.95 0 1 0 -5.9 0M149.4 746.4a2.95 2.95 0 1 0 5.9 0a2.95 2.95 0 1 0 -5.9 0M150.8 748.6a2.95 2.95 0 1 0 5.9 0a2.95 2.95 0 1 0 -5.9 0M151.8 744.1a2.95 2.95 0 1 0 5.9 0a2.95 2.95 0 1 0 -5.9 0M153.0 742.6a2.95 2.95 0 1 0 5.9 0a2.95 2.95 0 1 0 -5.9 0M154.8 738.0a2.95 2.95 0 1 0 5.9 0a2.95 2.95 0 1 0 -5.9 0M155.6 738.3a2.95 2.95 0 1 0 5.9 0a2.95 2.95 0 1 0 -5.9 0M156.7 740.5a2.95 2.95 0 1 0 5.9 0a2.95 2.95 0 1 0 -5.9 0M158.8 732.0a2.95 2.95 0 1 0 5.9 0a2.95 2.95 0 1 0 -5.9 0M159.7 734.7a2.95 2.95 0 1 0 5.9 0a2.95 2.95 0 1 0 -5.9 0M161.2 734.7a2.95 2.95 0 1 0 5.9 0a2.95 2.95 0 1 0 -5.9 0M162.2 730.6a2.95 2.95 0 1 0 5.9 0a2.95 2.95 0 1 0 -5.9 0M163.6 730.3a2.95 2.95 0 1 0 5.9 0a2.95 2.95 0 1 0 -5.9 0M164.9 724.9a2.95 2.95 0 1 0 5.9 0a2.95 2.95 0 1 0 -5.9 0M166.5 728.7a2.95 2.95 0 1 0 5.9 0a2.95 2.95 0 1 0 -5.9 0M168.0 725.9a2.95 2.95 0 1 0 5.9 0a2.95 2.95 0 1 0 -5.9 0M168.6 722.8a2.95 2.95 0 1 0 5.9 0a2.95 2.95 0 1 0 -5.9 0M170.7 714.8a2.95 2.95 0 1 0 5.9 0a2.95 2.95 0 1 0 -5.9 0M171.6 715.8a2.95 2.95 0 1 0 5.9 0a2.95 2.95 0 1 0 -5.9 0M172.9 718.8a2.95 2.95 0 1 0 5.9 0a2.95 2.95 0 1 0 -5.9 0M174.7 718.3a2.95 2.95 0 1 0 5.9 0a2.95 2.95 0 1 0 -5.9 0M175.8 714.6a2.95 2.95 0 1 0 5.9 0a2.95 2.95 0 1 0 -5.9 0M176.8 715.4a2.95 2.95 0 1 0 5.9 0a2.95 2.95 0 1 0 -5.9 0M179.0 709.7a2.95 2.95 0 1 0 5.9 0a2.95 2.95 0 1 0 -5.9 0M179.6 709.7a2.95 2.95 0 1 0 5.9 0a2.95 2.95 0 1 0 -5.9 0M181.2 708.2a2.95 2.95 0 1 0 5.9 0a2.95 2.95 0 1 0 -5.9 0M182.6 707.7a2.95 2.95 0 1 0 5.9 0a2.95 2.95 0 1 0 -5.9 0M184.2 703.6a2.95 2.95 0 1 0 5.9 0a2.95 2.95 0 1 0 -5.9 0M185.1 707.8a2.95 2.95 0 1 0 5.9 0a2.95 2.95 0 1 0 -5.9 0M186.8 707.9a2.95 2.95 0 1 0 5.9 0a2.95 2.95 0 1 0 -5.9 0M187.6 703.9a2.95 2.95 0 1 0 5.9 0a2.95 2.95 0 1 0 -5.9 0M189.4 704.5a2.95 2.95 0 1 0 5.9 0a2.95 2.95 0 1 0 -5.9 0M190.3 708.1a2.95 2.95 0 1 0 5.9 0a2.95 2.95 0 1 0 -5.9 0M191.7 707.1a2.95 2.95 0 1 0 5.9 0a2.95 2.95 0 1 0 -5.9 0M193.6 706.4a2.95 2.95 0 1 0 5.9 0a2.95 2.95 0 1 0 -5.9 0M194.6 713.2a2.95 2.95 0 1 0 5.9 0a2.95 2.95 0 1 0 -5.9 0M195.8 713.6a2.95 2.95 0 1 0 5.9 0a2.95 2.95 0 1 0 -5.9 0M197.7 714.3a2.95 2.95 0 1 0 5.9 0a2.95 2.95 0 1 0 -5.9 0M198.6 719.9a2.95 2.95 0 1 0 5.9 0a2.95 2.95 0 1 0 -5.9 0M199.6 717.4a2.95 2.95 0 1 0 5.9 0a2.95 2.95 0 1 0 -5.9 0M201.3 718.2a2.95 2.95 0 1 0 5.9 0a2.95 2.95 0 1 0 -5.9 0M202.2 721.1a2.95 2.95 0 1 0 5.9 0a2.95 2.95 0 1 0 -5.9 0M204.1 721.7a2.95 2.95 0 1 0 5.9 0a2.95 2.95 0 1 0 -5.9 0M205.4 723.9a2.95 2.95 0 1 0 5.9 0a2.95 2.95 0 1 0 -5.9 0M206.3 727.0a2.95 2.95 0 1 0 5.9 0a2.95 2.95 0 1 0 -5.9 0M207.6 726.9a2.95 2.95 0 1 0 5.9 0a2.95 2.95 0 1 0 -5.9 0M209.2 729.0a2.95 2.95 0 1 0 5.9 0a2.95 2.95 0 1 0 -5.9 0M210.4 734.3a2.95 2.95 0 1 0 5.9 0a2.95 2.95 0 1 0 -5.9 0M211.5 734.2a2.95 2.95 0 1 0 5.9 0a2.95 2.95 0 1 0 -5.9 0M213.2 736.9a2.95 2.95 0 1 0 5.9 0a2.95 2.95 0 1 0 -5.9 0M213.9 738.0a2.95 2.95 0 1 0 5.9 0a2.95 2.95 0 1 0 -5.9 0M215.7 741.8a2.95 2.95 0 1 0 5.9 0a2.95 2.95 0 1 0 -5.9 0M217.0 745.5a2.95 2.95 0 1 0 5.9 0a2.95 2.95 0 1 0 -5.9 0M218.4 744.8a2.95 2.95 0 1 0 5.9 0a2.95 2.95 0 1 0 -5.9 0M219.8 750.4a2.95 2.95 0 1 0 5.9 0a2.95 2.95 0 1 0 -5.9 0M220.8 746.7a2.95 2.95 0 1 0 5.9 0a2.95 2.95 0 1 0 -5.9 0M222.6 750.7a2.95 2.95 0 1 0 5.9 0a2.95 2.95 0 1 0 -5.9 0M223.7 750.4a2.95 2.95 0 1 0 5.9 0a2.95 2.95 0 1 0 -5.9 0M224.9 754.1a2.95 2.95 0 1 0 5.9 0a2.95 2.95 0 1 0 -5.9 0M226.1 758.9a2.95 2.95 0 1 0 5.9 0a2.95 2.95 0 1 0 -5.9 0M227.4 764.5a2.95 2.95 0 1 0 5.9 0a2.95 2.95 0 1 0 -5.9 0M229.2 764.8a2.95 2.95 0 1 0 5.9 0a2.95 2.95 0 1 0 -5.9 0M230.1 768.3a2.95 2.95 0 1 0 5.9 0a2.95 2.95 0 1 0 -5.9 0M231.7 771.2a2.95 2.95 0 1 0 5.9 0a2.95 2.95 0 1 0 -5.9 0M233.3 771.7a2.95 2.95 0 1 0 5.9 0a2.95 2.95 0 1 0 -5.9 0M234.6 771.8a2.95 2.95 0 1 0 5.9 0a2.95 2.95 0 1 0 -5.9 0M236.1 775.0a2.95 2.95 0 1 0 5.9 0a2.95 2.95 0 1 0 -5.9 0M237.0 772.4a2.95 2.95 0 1 0 5.9 0a2.95 2.95 0 1 0 -5.9 0M238.1 776.5a2.95 2.95 0 1 0 5.9 0a2.95 2.95 0 1 0 -5.9 0M240.0 777.7a2.95 2.95 0 1 0 5.9 0a2.95 2.95 0 1 0 -5.9 0M241.1 777.2a2.95 2.95 0 1 0 5.9 0a2.95 2.95 0 1 0 -5.9 0M242.6 777.7a2.95 2.95 0 1 0 5.9 0a2.95 2.95 0 1 0 -5.9 0M243.7 777.9a2.95 2.95 0 1 0 5.9 0a2.95 2.95 0 1 0 -5.9 0M245.3 785.0a2.95 2.95 0 1 0 5.9 0a2.95 2.95 0 1 0 -5.9 0M246.6 779.6a2.95 2.95 0 1 0 5.9 0a2.95 2.95 0 1 0 -5.9 0M247.9 785.2a2.95 2.95 0 1 0 5.9 0a2.95 2.95 0 1 0 -5.9 0M249.1 783.8a2.95 2.95 0 1 0 5.9 0a2.95 2.95 0 1 0 -5.9 0M250.4 782.3a2.95 2.95 0 1 0 5.9 0a2.95 2.95 0 1 0 -5.9 0M251.7 781.2a2.95 2.95 0 1 0 5.9 0a2.95 2.95 0 1 0 -5.9 0M253.1 785.5a2.95 2.95 0 1 0 5.9 0a2.95 2.95 0 1 0 -5.9 0M254.6 787.1a2.95 2.95 0 1 0 5.9 0a2.95 2.95 0 1 0 -5.9 0M255.5 782.6a2.95 2.95 0 1 0 5.9 0a2.95 2.95 0 1 0 -5.9 0M257.4 784.2a2.95 2.95 0 1 0 5.9 0a2.95 2.95 0 1 0 -5.9 0M258.3 787.0a2.95 2.95 0 1 0 5.9 0a2.95 2.95 0 1 0 -5.9 0M259.9 786.3a2.95 2.95 0 1 0 5.9 0a2.95 2.95 0 1 0 -5.9 0M261.0 789.7a2.95 2.95 0 1 0 5.9 0a2.95 2.95 0 1 0 -5.9 0M262.2 785.5a2.95 2.95 0 1 0 5.9 0a2.95 2.95 0 1 0 -5.9 0M264.1 788.3a2.95 2.95 0 1 0 5.9 0a2.95 2.95 0 1 0 -5.9 0M264.9 785.3a2.95 2.95 0 1 0 5.9 0a2.95 2.95 0 1 0 -5.9 0M266.0 791.6a2.95 2.95 0 1 0 5.9 0a2.95 2.95 0 1 0 -5.9 0M267.5 786.9a2.95 2.95 0 1 0 5.9 0a2.95 2.95 0 1 0 -5.9 0M268.9 784.6a2.95 2.95 0 1 0 5.9 0a2.95 2.95 0 1 0 -5.9 0M270.8 788.8a2.95 2.95 0 1 0 5.9 0a2.95 2.95 0 1 0 -5.9 0M271.7 789.0a2.95 2.95 0 1 0 5.9 0a2.95 2.95 0 1 0 -5.9 0M273.2 793.0a2.95 2.95 0 1 0 5.9 0a2.95 2.95 0 1 0 -5.9 0M274.0 788.9a2.95 2.95 0 1 0 5.9 0a2.95 2.95 0 1 0 -5.9 0M275.7 789.3a2.95 2.95 0 1 0 5.9 0a2.95 2.95 0 1 0 -5.9 0M277.1 790.2a2.95 2.95 0 1 0 5.9 0a2.95 2.95 0 1 0 -5.9 0M278.7 791.9a2.95 2.95 0 1 0 5.9 0a2.95 2.95 0 1 0 -5.9 0M279.4 788.8a2.95 2.95 0 1 0 5.9 0a2.95 2.95 0 1 0 -5.9 0M281.1 790.6a2.95 2.95 0 1 0 5.9 0a2.95 2.95 0 1 0 -5.9 0M282.3 789.5a2.95 2.95 0 1 0 5.9 0a2.95 2.95 0 1 0 -5.9 0M283.3 788.0a2.95 2.95 0 1 0 5.9 0a2.95 2.95 0 1 0 -5.9 0M284.9 788.5a2.95 2.95 0 1 0 5.9 0a2.95 2.95 0 1 0 -5.9 0M286.2 788.3a2.95 2.95 0 1 0 5.9 0a2.95 2.95 0 1 0 -5.9 0M287.0 786.5a2.95 2.95 0 1 0 5.9 0a2.95 2.95 0 1 0 -5.9 0M289.1 790.1a2.95 2.95 0 1 0 5.9 0a2.95 2.95 0 1 0 -5.9 0M290.4 785.3a2.95 2.95 0 1 0 5.9 0a2.95 2.95 0 1 0 -5.9 0M291.5 789.8a2.95 2.95 0 1 0 5.9 0a2.95 2.95 0 1 0 -5.9 0M292.6 789.4a2.95 2.95 0 1 0 5.9 0a2.95 2.95 0 1 0 -5.9 0M294.6 787.5a2.95 2.95 0 1 0 5.9 0a2.95 2.95 0 1 0 -5.9 0M295.6 786.3a2.95 2.95 0 1 0 5.9 0a2.95 2.95 0 1 0 -5.9 0M297.1 787.3a2.95 2.95 0 1 0 5.9 0a2.95 2.95 0 1 0 -5.9 0M298.6 788.6a2.95 2.95 0 1 0 5.9 0a2.95 2.95 0 1 0 -5.9 0M299.4 789.0a2.95 2.95 0 1 0 5.9 0a2.95 2.95 0 1 0 -5.9 0M301.1 788.2a2.95 2.95 0 1 0 5.9 0a2.95 2.95 0 1 0 -5.9 0M302.1 789.5a2.95 2.95 0 1 0 5.9 0a2.95 2.95 0 1 0 -5.9 0M303.5 786.7a2.95 2.95 0 1 0 5.9 0a2.95 2.95 0 1 0 -5.9 0M304.8 788.1a2.95 2.95 0 1 0 5.9 0a2.95 2.95 0 1 0 -5.9 0M306.2 784.9a2.95 2.95 0 1 0 5.9 0a2.95 2.95 0 1 0 -5.9 0M307.8 789.1a2.95 2.95 0 1 0 5.9 0a2.95 2.95 0 1 0 -5.9 0M308.9 788.0a2.95 2.95 0 1 0 5.9 0a2.95 2.95 0 1 0 -5.9 0M310.2 787.0a2.95 2.95 0 1 0 5.9 0a2.95 2.95 0 1 0 -5.9 0M311.5 789.8a2.95 2.95 0 1 0 5.9 0a2.95 2.95 0 1 0 -5.9 0M312.9 788.9a2.95 2.95 0 1 0 5.9 0a2.95 2.95 0 1 0 -5.9 0M314.0 782.6a2.95 2.95 0 1 0 5.9 0a2.95 2.95 0 1 0 -5.9 0M315.4 787.8a2.95 2.95 0 1 0 5.9 0a2.95 2.95 0 1 0 -5.9 0M316.8 785.1a2.95 2.95 0 1 0 5.9 0a2.95 2.95 0 1 0 -5.9 0M318.0 789.6a2.95 2.95 0 1 0 5.9 0a2.95 2.95 0 1 0 -5.9 0M319.5 792.2a2.95 2.95 0 1 0 5.9 0a2.95 2.95 0 1 0 -5.9 0M320.7 786.8a2.95 2.95 0 1 0 5.9 0a2.95 2.95 0 1 0 -5.9 0M322.7 787.8a2.95 2.95 0 1 0 5.9 0a2.95 2.95 0 1 0 -5.9 0M323.8 787.2a2.95 2.95 0 1 0 5.9 0a2.95 2.95 0 1 0 -5.9 0M324.9 788.3a2.95 2.95 0 1 0 5.9 0a2.95 2.95 0 1 0 -5.9 0M326.1 788.9a2.95 2.95 0 1 0 5.9 0a2.95 2.95 0 1 0 -5.9 0M328.0 790.0a2.95 2.95 0 1 0 5.9 0a2.95 2.95 0 1 0 -5.9 0M328.9 785.9a2.95 2.95 0 1 0 5.9 0a2.95 2.95 0 1 0 -5.9 0M330.1 790.5a2.95 2.95 0 1 0 5.9 0a2.95 2.95 0 1 0 -5.9 0M331.5 786.2a2.95 2.95 0 1 0 5.9 0a2.95 2.95 0 1 0 -5.9 0M332.9 788.6a2.95 2.95 0 1 0 5.9 0a2.95 2.95 0 1 0 -5.9 0M334.5 790.5a2.95 2.95 0 1 0 5.9 0a2.95 2.95 0 1 0 -5.9 0M335.5 789.9a2.95 2.95 0 1 0 5.9 0a2.95 2.95 0 1 0 -5.9 0M337.3 787.2a2.95 2.95 0 1 0 5.9 0a2.95 2.95 0 1 0 -5.9 0M337.9 787.7a2.95 2.95 0 1 0 5.9 0a2.95 2.95 0 1 0 -5.9 0M339.6 788.5a2.95 2.95 0 1 0 5.9 0a2.95 2.95 0 1 0 -5.9 0M340.5 789.4a2.95 2.95 0 1 0 5.9 0a2.95 2.95 0 1 0 -5.9 0"/>
<path fill="#dc5229" clip-path="url(#ce)" d="M47.1 787.4a2.95 2.95 0 1 0 5.9 0a2.95 2.95 0 1 0 -5.9 0M47.9 784.9a2.95 2.95 0 1 0 5.9 0a2.95 2.95 0 1 0 -5.9 0M49.6 792.2a2.95 2.95 0 1 0 5.9 0a2.95 2.95 0 1 0 -5.9 0M51.0 791.1a2.95 2.95 0 1 0 5.9 0a2.95 2.95 0 1 0 -5.9 0M52.3 789.5a2.95 2.95 0 1 0 5.9 0a2.95 2.95 0 1 0 -5.9 0M53.6 784.4a2.95 2.95 0 1 0 5.9 0a2.95 2.95 0 1 0 -5.9 0M55.2 787.6a2.95 2.95 0 1 0 5.9 0a2.95 2.95 0 1 0 -5.9 0M56.3 786.4a2.95 2.95 0 1 0 5.9 0a2.95 2.95 0 1 0 -5.9 0M57.7 786.9a2.95 2.95 0 1 0 5.9 0a2.95 2.95 0 1 0 -5.9 0M59.0 786.0a2.95 2.95 0 1 0 5.9 0a2.95 2.95 0 1 0 -5.9 0M60.6 787.5a2.95 2.95 0 1 0 5.9 0a2.95 2.95 0 1 0 -5.9 0M61.0 785.2a2.95 2.95 0 1 0 5.9 0a2.95 2.95 0 1 0 -5.9 0M63.1 787.9a2.95 2.95 0 1 0 5.9 0a2.95 2.95 0 1 0 -5.9 0M64.1 786.2a2.95 2.95 0 1 0 5.9 0a2.95 2.95 0 1 0 -5.9 0M65.4 784.7a2.95 2.95 0 1 0 5.9 0a2.95 2.95 0 1 0 -5.9 0M66.6 785.0a2.95 2.95 0 1 0 5.9 0a2.95 2.95 0 1 0 -5.9 0M67.7 784.1a2.95 2.95 0 1 0 5.9 0a2.95 2.95 0 1 0 -5.9 0M69.4 787.1a2.95 2.95 0 1 0 5.9 0a2.95 2.95 0 1 0 -5.9 0M70.6 784.2a2.95 2.95 0 1 0 5.9 0a2.95 2.95 0 1 0 -5.9 0M72.2 785.5a2.95 2.95 0 1 0 5.9 0a2.95 2.95 0 1 0 -5.9 0M73.1 783.7a2.95 2.95 0 1 0 5.9 0a2.95 2.95 0 1 0 -5.9 0M75.1 780.8a2.95 2.95 0 1 0 5.9 0a2.95 2.95 0 1 0 -5.9 0M76.2 786.6a2.95 2.95 0 1 0 5.9 0a2.95 2.95 0 1 0 -5.9 0M77.4 781.6a2.95 2.95 0 1 0 5.9 0a2.95 2.95 0 1 0 -5.9 0M78.6 785.9a2.95 2.95 0 1 0 5.9 0a2.95 2.95 0 1 0 -5.9 0M79.9 785.1a2.95 2.95 0 1 0 5.9 0a2.95 2.95 0 1 0 -5.9 0M81.1 779.8a2.95 2.95 0 1 0 5.9 0a2.95 2.95 0 1 0 -5.9 0M82.6 781.5a2.95 2.95 0 1 0 5.9 0a2.95 2.95 0 1 0 -5.9 0M84.1 782.4a2.95 2.95 0 1 0 5.9 0a2.95 2.95 0 1 0 -5.9 0M85.4 781.5a2.95 2.95 0 1 0 5.9 0a2.95 2.95 0 1 0 -5.9 0M86.4 780.5a2.95 2.95 0 1 0 5.9 0a2.95 2.95 0 1 0 -5.9 0M88.0 785.2a2.95 2.95 0 1 0 5.9 0a2.95 2.95 0 1 0 -5.9 0M89.2 782.6a2.95 2.95 0 1 0 5.9 0a2.95 2.95 0 1 0 -5.9 0M90.8 783.7a2.95 2.95 0 1 0 5.9 0a2.95 2.95 0 1 0 -5.9 0M92.5 781.1a2.95 2.95 0 1 0 5.9 0a2.95 2.95 0 1 0 -5.9 0M93.6 782.6a2.95 2.95 0 1 0 5.9 0a2.95 2.95 0 1 0 -5.9 0M94.7 779.7a2.95 2.95 0 1 0 5.9 0a2.95 2.95 0 1 0 -5.9 0M95.7 781.2a2.95 2.95 0 1 0 5.9 0a2.95 2.95 0 1 0 -5.9 0M97.0 782.3a2.95 2.95 0 1 0 5.9 0a2.95 2.95 0 1 0 -5.9 0M98.3 780.6a2.95 2.95 0 1 0 5.9 0a2.95 2.95 0 1 0 -5.9 0M100.2 778.7a2.95 2.95 0 1 0 5.9 0a2.95 2.95 0 1 0 -5.9 0M101.2 776.8a2.95 2.95 0 1 0 5.9 0a2.95 2.95 0 1 0 -5.9 0M102.7 779.3a2.95 2.95 0 1 0 5.9 0a2.95 2.95 0 1 0 -5.9 0M103.9 779.3a2.95 2.95 0 1 0 5.9 0a2.95 2.95 0 1 0 -5.9 0M105.4 777.2a2.95 2.95 0 1 0 5.9 0a2.95 2.95 0 1 0 -5.9 0M107.1 775.2a2.95 2.95 0 1 0 5.9 0a2.95 2.95 0 1 0 -5.9 0M107.9 778.2a2.95 2.95 0 1 0 5.9 0a2.95 2.95 0 1 0 -5.9 0M109.3 782.5a2.95 2.95 0 1 0 5.9 0a2.95 2.95 0 1 0 -5.9 0M110.5 775.0a2.95 2.95 0 1 0 5.9 0a2.95 2.95 0 1 0 -5.9 0M112.2 775.9a2.95 2.95 0 1 0 5.9 0a2.95 2.95 0 1 0 -5.9 0M113.1 775.8a2.95 2.95 0 1 0 5.9 0a2.95 2.95 0 1 0 -5.9 0M114.4 768.0a2.95 2.95 0 1 0 5.9 0a2.95 2.95 0 1 0 -5.9 0M115.7 774.4a2.95 2.95 0 1 0 5.9 0a2.95 2.95 0 1 0 -5.9 0M117.0 771.9a2.95 2.95 0 1 0 5.9 0a2.95 2.95 0 1 0 -5.9 0M118.8 776.6a2.95 2.95 0 1 0 5.9 0a2.95 2.95 0 1 0 -5.9 0M120.6 771.9a2.95 2.95 0 1 0 5.9 0a2.95 2.95 0 1 0 -5.9 0M121.1 770.5a2.95 2.95 0 1 0 5.9 0a2.95 2.95 0 1 0 -5.9 0M122.9 771.3a2.95 2.95 0 1 0 5.9 0a2.95 2.95 0 1 0 -5.9 0M124.1 771.9a2.95 2.95 0 1 0 5.9 0a2.95 2.95 0 1 0 -5.9 0M125.0 769.6a2.95 2.95 0 1 0 5.9 0a2.95 2.95 0 1 0 -5.9 0M126.6 770.1a2.95 2.95 0 1 0 5.9 0a2.95 2.95 0 1 0 -5.9 0M127.9 766.1a2.95 2.95 0 1 0 5.9 0a2.95 2.95 0 1 0 -5.9 0M129.1 768.3a2.95 2.95 0 1 0 5.9 0a2.95 2.95 0 1 0 -5.9 0M131.1 769.8a2.95 2.95 0 1 0 5.9 0a2.95 2.95 0 1 0 -5.9 0M131.5 772.6a2.95 2.95 0 1 0 5.9 0a2.95 2.95 0 1 0 -5.9 0M133.4 768.5a2.95 2.95 0 1 0 5.9 0a2.95 2.95 0 1 0 -5.9 0M134.7 766.8a2.95 2.95 0 1 0 5.9 0a2.95 2.95 0 1 0 -5.9 0M135.8 768.3a2.95 2.95 0 1 0 5.9 0a2.95 2.95 0 1 0 -5.9 0M137.3 766.6a2.95 2.95 0 1 0 5.9 0a2.95 2.95 0 1 0 -5.9 0M138.8 767.0a2.95 2.95 0 1 0 5.9 0a2.95 2.95 0 1 0 -5.9 0M140.0 764.5a2.95 2.95 0 1 0 5.9 0a2.95 2.95 0 1 0 -5.9 0M141.4 760.3a2.95 2.95 0 1 0 5.9 0a2.95 2.95 0 1 0 -5.9 0M142.8 760.0a2.95 2.95 0 1 0 5.9 0a2.95 2.95 0 1 0 -5.9 0M143.4 759.0a2.95 2.95 0 1 0 5.9 0a2.95 2.95 0 1 0 -5.9 0M145.6 756.7a2.95 2.95 0 1 0 5.9 0a2.95 2.95 0 1 0 -5.9 0M147.2 754.7a2.95 2.95 0 1 0 5.9 0a2.95 2.95 0 1 0 -5.9 0M148.2 751.1a2.95 2.95 0 1 0 5.9 0a2.95 2.95 0 1 0 -5.9 0M149.5 746.2a2.95 2.95 0 1 0 5.9 0a2.95 2.95 0 1 0 -5.9 0M150.2 748.8a2.95 2.95 0 1 0 5.9 0a2.95 2.95 0 1 0 -5.9 0M151.9 743.2a2.95 2.95 0 1 0 5.9 0a2.95 2.95 0 1 0 -5.9 0M153.0 746.9a2.95 2.95 0 1 0 5.9 0a2.95 2.95 0 1 0 -5.9 0M154.4 744.9a2.95 2.95 0 1 0 5.9 0a2.95 2.95 0 1 0 -5.9 0M156.2 738.4a2.95 2.95 0 1 0 5.9 0a2.95 2.95 0 1 0 -5.9 0M157.0 743.1a2.95 2.95 0 1 0 5.9 0a2.95 2.95 0 1 0 -5.9 0M158.5 741.3a2.95 2.95 0 1 0 5.9 0a2.95 2.95 0 1 0 -5.9 0M159.4 738.1a2.95 2.95 0 1 0 5.9 0a2.95 2.95 0 1 0 -5.9 0M161.2 739.4a2.95 2.95 0 1 0 5.9 0a2.95 2.95 0 1 0 -5.9 0M162.6 737.8a2.95 2.95 0 1 0 5.9 0a2.95 2.95 0 1 0 -5.9 0M163.7 728.8a2.95 2.95 0 1 0 5.9 0a2.95 2.95 0 1 0 -5.9 0M165.0 735.2a2.95 2.95 0 1 0 5.9 0a2.95 2.95 0 1 0 -5.9 0M167.0 735.0a2.95 2.95 0 1 0 5.9 0a2.95 2.95 0 1 0 -5.9 0M167.6 734.0a2.95 2.95 0 1 0 5.9 0a2.95 2.95 0 1 0 -5.9 0M168.9 732.7a2.95 2.95 0 1 0 5.9 0a2.95 2.95 0 1 0 -5.9 0M170.3 726.0a2.95 2.95 0 1 0 5.9 0a2.95 2.95 0 1 0 -5.9 0M172.2 723.3a2.95 2.95 0 1 0 5.9 0a2.95 2.95 0 1 0 -5.9 0M173.7 720.0a2.95 2.95 0 1 0 5.9 0a2.95 2.95 0 1 0 -5.9 0M174.6 718.6a2.95 2.95 0 1 0 5.9 0a2.95 2.95 0 1 0 -5.9 0M175.7 717.9a2.95 2.95 0 1 0 5.9 0a2.95 2.95 0 1 0 -5.9 0M177.1 712.7a2.95 2.95 0 1 0 5.9 0a2.95 2.95 0 1 0 -5.9 0M178.8 709.3a2.95 2.95 0 1 0 5.9 0a2.95 2.95 0 1 0 -5.9 0M179.6 708.2a2.95 2.95 0 1 0 5.9 0a2.95 2.95 0 1 0 -5.9 0M181.5 700.6a2.95 2.95 0 1 0 5.9 0a2.95 2.95 0 1 0 -5.9 0M182.9 698.3a2.95 2.95 0 1 0 5.9 0a2.95 2.95 0 1 0 -5.9 0M183.9 692.5a2.95 2.95 0 1 0 5.9 0a2.95 2.95 0 1 0 -5.9 0M185.3 692.9a2.95 2.95 0 1 0 5.9 0a2.95 2.95 0 1 0 -5.9 0M186.7 691.8a2.95 2.95 0 1 0 5.9 0a2.95 2.95 0 1 0 -5.9 0M188.2 691.1a2.95 2.95 0 1 0 5.9 0a2.95 2.95 0 1 0 -5.9 0M188.9 689.2a2.95 2.95 0 1 0 5.9 0a2.95 2.95 0 1 0 -5.9 0M190.8 686.3a2.95 2.95 0 1 0 5.9 0a2.95 2.95 0 1 0 -5.9 0M191.7 679.8a2.95 2.95 0 1 0 5.9 0a2.95 2.95 0 1 0 -5.9 0M193.0 677.1a2.95 2.95 0 1 0 5.9 0a2.95 2.95 0 1 0 -5.9 0M194.5 673.7a2.95 2.95 0 1 0 5.9 0a2.95 2.95 0 1 0 -5.9 0M195.8 672.2a2.95 2.95 0 1 0 5.9 0a2.95 2.95 0 1 0 -5.9 0M196.9 667.5a2.95 2.95 0 1 0 5.9 0a2.95 2.95 0 1 0 -5.9 0M198.1 668.3a2.95 2.95 0 1 0 5.9 0a2.95 2.95 0 1 0 -5.9 0M199.6 664.1a2.95 2.95 0 1 0 5.9 0a2.95 2.95 0 1 0 -5.9 0M201.5 659.3a2.95 2.95 0 1 0 5.9 0a2.95 2.95 0 1 0 -5.9 0M203.0 654.0a2.95 2.95 0 1 0 5.9 0a2.95 2.95 0 1 0 -5.9 0M204.0 652.0a2.95 2.95 0 1 0 5.9 0a2.95 2.95 0 1 0 -5.9 0M205.4 649.0a2.95 2.95 0 1 0 5.9 0a2.95 2.95 0 1 0 -5.9 0M206.3 646.1a2.95 2.95 0 1 0 5.9 0a2.95 2.95 0 1 0 -5.9 0M207.8 640.0a2.95 2.95 0 1 0 5.9 0a2.95 2.95 0 1 0 -5.9 0M209.2 639.6a2.95 2.95 0 1 0 5.9 0a2.95 2.95 0 1 0 -5.9 0M210.2 637.4a2.95 2.95 0 1 0 5.9 0a2.95 2.95 0 1 0 -5.9 0M211.5 638.7a2.95 2.95 0 1 0 5.9 0a2.95 2.95 0 1 0 -5.9 0M213.1 635.8a2.95 2.95 0 1 0 5.9 0a2.95 2.95 0 1 0 -5.9 0M214.3 631.6a2.95 2.95 0 1 0 5.9 0a2.95 2.95 0 1 0 -5.9 0M215.5 637.8a2.95 2.95 0 1 0 5.9 0a2.95 2.95 0 1 0 -5.9 0M217.2 636.6a2.95 2.95 0 1 0 5.9 0a2.95 2.95 0 1 0 -5.9 0M218.4 634.9a2.95 2.95 0 1 0 5.9 0a2.95 2.95 0 1 0 -5.9 0M220.0 637.9a2.95 2.95 0 1 0 5.9 0a2.95 2.95 0 1 0 -5.9 0M221.1 637.3a2.95 2.95 0 1 0 5.9 0a2.95 2.95 0 1 0 -5.9 0M222.3 644.8a2.95 2.95 0 1 0 5.9 0a2.95 2.95 0 1 0 -5.9 0M223.8 643.9a2.95 2.95 0 1 0 5.9 0a2.95 2.95 0 1 0 -5.9 0M225.0 641.9a2.95 2.95 0 1 0 5.9 0a2.95 2.95 0 1 0 -5.9 0M226.2 648.6a2.95 2.95 0 1 0 5.9 0a2.95 2.95 0 1 0 -5.9 0M227.6 649.9a2.95 2.95 0 1 0 5.9 0a2.95 2.95 0 1 0 -5.9 0M229.2 657.8a2.95 2.95 0 1 0 5.9 0a2.95 2.95 0 1 0 -5.9 0M230.6 654.8a2.95 2.95 0 1 0 5.9 0a2.95 2.95 0 1 0 -5.9 0M232.0 655.5a2.95 2.95 0 1 0 5.9 0a2.95 2.95 0 1 0 -5.9 0M232.6 661.1a2.95 2.95 0 1 0 5.9 0a2.95 2.95 0 1 0 -5.9 0M234.3 664.9a2.95 2.95 0 1 0 5.9 0a2.95 2.95 0 1 0 -5.9 0M235.6 668.4a2.95 2.95 0 1 0 5.9 0a2.95 2.95 0 1 0 -5.9 0M237.1 669.3a2.95 2.95 0 1 0 5.9 0a2.95 2.95 0 1 0 -5.9 0M238.3 677.7a2.95 2.95 0 1 0 5.9 0a2.95 2.95 0 1 0 -5.9 0M239.6 684.0a2.95 2.95 0 1 0 5.9 0a2.95 2.95 0 1 0 -5.9 0M241.2 682.6a2.95 2.95 0 1 0 5.9 0a2.95 2.95 0 1 0 -5.9 0M242.4 692.5a2.95 2.95 0 1 0 5.9 0a2.95 2.95 0 1 0 -5.9 0M243.4 692.4a2.95 2.95 0 1 0 5.9 0a2.95 2.95 0 1 0 -5.9 0M245.4 703.8a2.95 2.95 0 1 0 5.9 0a2.95 2.95 0 1 0 -5.9 0M246.6 703.9a2.95 2.95 0 1 0 5.9 0a2.95 2.95 0 1 0 -5.9 0M247.5 705.5a2.95 2.95 0 1 0 5.9 0a2.95 2.95 0 1 0 -5.9 0M249.2 713.0a2.95 2.95 0 1 0 5.9 0a2.95 2.95 0 1 0 -5.9 0M250.2 714.7a2.95 2.95 0 1 0 5.9 0a2.95 2.95 0 1 0 -5.9 0M252.0 717.3a2.95 2.95 0 1 0 5.9 0a2.95 2.95 0 1 0 -5.9 0M252.9 722.2a2.95 2.95 0 1 0 5.9 0a2.95 2.95 0 1 0 -5.9 0M254.1 722.9a2.95 2.95 0 1 0 5.9 0a2.95 2.95 0 1 0 -5.9 0M255.6 725.9a2.95 2.95 0 1 0 5.9 0a2.95 2.95 0 1 0 -5.9 0M256.8 737.3a2.95 2.95 0 1 0 5.9 0a2.95 2.95 0 1 0 -5.9 0M258.4 737.1a2.95 2.95 0 1 0 5.9 0a2.95 2.95 0 1 0 -5.9 0M259.7 740.2a2.95 2.95 0 1 0 5.9 0a2.95 2.95 0 1 0 -5.9 0M261.0 745.6a2.95 2.95 0 1 0 5.9 0a2.95 2.95 0 1 0 -5.9 0M262.2 745.3a2.95 2.95 0 1 0 5.9 0a2.95 2.95 0 1 0 -5.9 0M262.7 747.2a2.95 2.95 0 1 0 5.9 0a2.95 2.95 0 1 0 -5.9 0M265.0 754.2a2.95 2.95 0 1 0 5.9 0a2.95 2.95 0 1 0 -5.9 0M265.8 755.9a2.95 2.95 0 1 0 5.9 0a2.95 2.95 0 1 0 -5.9 0M267.7 760.7a2.95 2.95 0 1 0 5.9 0a2.95 2.95 0 1 0 -5.9 0M269.2 766.0a2.95 2.95 0 1 0 5.9 0a2.95 2.95 0 1 0 -5.9 0M270.4 765.4a2.95 2.95 0 1 0 5.9 0a2.95 2.95 0 1 0 -5.9 0M271.5 769.3a2.95 2.95 0 1 0 5.9 0a2.95 2.95 0 1 0 -5.9 0M272.9 770.7a2.95 2.95 0 1 0 5.9 0a2.95 2.95 0 1 0 -5.9 0M274.2 768.6a2.95 2.95 0 1 0 5.9 0a2.95 2.95 0 1 0 -5.9 0M275.5 772.2a2.95 2.95 0 1 0 5.9 0a2.95 2.95 0 1 0 -5.9 0M276.8 771.1a2.95 2.95 0 1 0 5.9 0a2.95 2.95 0 1 0 -5.9 0M278.0 776.0a2.95 2.95 0 1 0 5.9 0a2.95 2.95 0 1 0 -5.9 0M279.9 778.3a2.95 2.95 0 1 0 5.9 0a2.95 2.95 0 1 0 -5.9 0M280.9 780.5a2.95 2.95 0 1 0 5.9 0a2.95 2.95 0 1 0 -5.9 0M282.5 779.1a2.95 2.95 0 1 0 5.9 0a2.95 2.95 0 1 0 -5.9 0M283.5 782.5a2.95 2.95 0 1 0 5.9 0a2.95 2.95 0 1 0 -5.9 0M284.9 781.7a2.95 2.95 0 1 0 5.9 0a2.95 2.95 0 1 0 -5.9 0M286.2 785.2a2.95 2.95 0 1 0 5.9 0a2.95 2.95 0 1 0 -5.9 0M287.7 784.6a2.95 2.95 0 1 0 5.9 0a2.95 2.95 0 1 0 -5.9 0M289.1 784.1a2.95 2.95 0 1 0 5.9 0a2.95 2.95 0 1 0 -5.9 0M290.3 788.1a2.95 2.95 0 1 0 5.9 0a2.95 2.95 0 1 0 -5.9 0M291.4 788.2a2.95 2.95 0 1 0 5.9 0a2.95 2.95 0 1 0 -5.9 0M292.7 786.1a2.95 2.95 0 1 0 5.9 0a2.95 2.95 0 1 0 -5.9 0M294.6 790.1a2.95 2.95 0 1 0 5.9 0a2.95 2.95 0 1 0 -5.9 0M295.5 787.5a2.95 2.95 0 1 0 5.9 0a2.95 2.95 0 1 0 -5.9 0M296.8 787.9a2.95 2.95 0 1 0 5.9 0a2.95 2.95 0 1 0 -5.9 0M298.6 789.3a2.95 2.95 0 1 0 5.9 0a2.95 2.95 0 1 0 -5.9 0M299.8 788.0a2.95 2.95 0 1 0 5.9 0a2.95 2.95 0 1 0 -5.9 0M301.0 788.9a2.95 2.95 0 1 0 5.9 0a2.95 2.95 0 1 0 -5.9 0M302.1 789.5a2.95 2.95 0 1 0 5.9 0a2.95 2.95 0 1 0 -5.9 0M304.1 793.0a2.95 2.95 0 1 0 5.9 0a2.95 2.95 0 1 0 -5.9 0M305.0 793.0a2.95 2.95 0 1 0 5.9 0a2.95 2.95 0 1 0 -5.9 0M306.3 789.8a2.95 2.95 0 1 0 5.9 0a2.95 2.95 0 1 0 -5.9 0M307.5 793.4a2.95 2.95 0 1 0 5.9 0a2.95 2.95 0 1 0 -5.9 0M308.5 790.4a2.95 2.95 0 1 0 5.9 0a2.95 2.95 0 1 0 -5.9 0M309.9 791.4a2.95 2.95 0 1 0 5.9 0a2.95 2.95 0 1 0 -5.9 0M311.6 792.4a2.95 2.95 0 1 0 5.9 0a2.95 2.95 0 1 0 -5.9 0M312.9 791.4a2.95 2.95 0 1 0 5.9 0a2.95 2.95 0 1 0 -5.9 0M314.1 795.5a2.95 2.95 0 1 0 5.9 0a2.95 2.95 0 1 0 -5.9 0M315.2 791.4a2.95 2.95 0 1 0 5.9 0a2.95 2.95 0 1 0 -5.9 0M316.5 788.7a2.95 2.95 0 1 0 5.9 0a2.95 2.95 0 1 0 -5.9 0M318.1 793.5a2.95 2.95 0 1 0 5.9 0a2.95 2.95 0 1 0 -5.9 0M319.1 790.3a2.95 2.95 0 1 0 5.9 0a2.95 2.95 0 1 0 -5.9 0M321.1 790.6a2.95 2.95 0 1 0 5.9 0a2.95 2.95 0 1 0 -5.9 0M322.4 785.6a2.95 2.95 0 1 0 5.9 0a2.95 2.95 0 1 0 -5.9 0M324.2 793.2a2.95 2.95 0 1 0 5.9 0a2.95 2.95 0 1 0 -5.9 0M325.0 792.9a2.95 2.95 0 1 0 5.9 0a2.95 2.95 0 1 0 -5.9 0M326.0 792.9a2.95 2.95 0 1 0 5.9 0a2.95 2.95 0 1 0 -5.9 0M327.3 793.3a2.95 2.95 0 1 0 5.9 0a2.95 2.95 0 1 0 -5.9 0M327.9 794.7a2.95 2.95 0 1 0 5.9 0a2.95 2.95 0 1 0 -5.9 0M330.0 791.5a2.95 2.95 0 1 0 5.9 0a2.95 2.95 0 1 0 -5.9 0M331.4 793.5a2.95 2.95 0 1 0 5.9 0a2.95 2.95 0 1 0 -5.9 0M333.0 790.4a2.95 2.95 0 1 0 5.9 0a2.95 2.95 0 1 0 -5.9 0M334.3 791.3a2.95 2.95 0 1 0 5.9 0a2.95 2.95 0 1 0 -5.9 0M335.6 794.1a2.95 2.95 0 1 0 5.9 0a2.95 2.95 0 1 0 -5.9 0M336.8 792.9a2.95 2.95 0 1 0 5.9 0a2.95 2.95 0 1 0 -5.9 0M338.3 789.7a2.95 2.95 0 1 0 5.9 0a2.95 2.95 0 1 0 -5.9 0M339.8 793.1a2.95 2.95 0 1 0 5.9 0a2.95 2.95 0 1 0 -5.9 0M340.5 792.1a2.95 2.95 0 1 0 5.9 0a2.95 2.95 0 1 0 -5.9 0"/>
<path d="M49.6 569.8H345.2V802.0H49.6ZM108.3 802.0v-3.2M108.3 569.8v3.2M207.5 802.0v-3.2M207.5 569.8v3.2M306.7 802.0v-3.2M306.7 569.8v3.2M49.6 791.7h3.2M345.2 791.7h-3.2M49.6 690.8h3.2M345.2 690.8h-3.2M49.6 589.9h3.2M345.2 589.9h-3.2" fill="none" stroke="#333" stroke-width="1.1"/>
<text x="0.75" y="9.95" font-size="15.2" font-weight="bold" fill="#1a1a1a">a</text>
<text x="0.41" y="287.85" font-size="15.2" font-weight="bold" fill="#1a1a1a">c</text>
<text x="0.41" y="572.25" font-size="15.2" font-weight="bold" fill="#1a1a1a">e</text>
<text x="382.00" y="12.55" font-size="15.2" font-weight="bold" fill="#1a1a1a">b</text>
<text x="383.58" y="287.95" font-size="15.2" font-weight="bold" fill="#1a1a1a">d</text>
<text x="383.54" y="572.30" font-size="15.2" font-weight="bold" fill="#1a1a1a">f</text>
<text transform="translate(18.83,172.68) rotate(-90)" font-size="14.4" fill="#262626">PL (cts/s/nW)</text>
<text transform="translate(19.03,450.18) rotate(-90)" font-size="14.4" fill="#262626">PL (cts/s/nW)</text>
<text transform="translate(19.23,732.68) rotate(-90)" font-size="14.4" fill="#262626">PL (cts/s/nW)</text>
<text x="28.69" y="25.55" font-size="14.4" fill="#262626">1</text>
<text x="33.55" y="243.36" font-size="14.4" fill="#262626">0</text>
<text x="14.58" y="315.86" font-size="14.4" fill="#262626">0.25</text>
<text x="33.55" y="509.96" font-size="14.4" fill="#262626">0</text>
<text x="24.19" y="592.56" font-size="14.4" fill="#262626">0.5</text>
<text x="33.45" y="796.66" font-size="14.4" fill="#262626">0</text>
<text x="94.89" y="258.70" font-size="14.4" fill="#262626">1.1</text>
<text x="187.74" y="258.56" font-size="14.4" fill="#262626">1.105</text>
<text x="288.59" y="258.70" font-size="14.4" fill="#262626">1.11</text>
<text x="88.24" y="536.86" font-size="14.4" fill="#262626">1.115</text>
<text x="191.70" y="537.00" font-size="14.4" fill="#262626">1.12</text>
<text x="286.24" y="536.86" font-size="14.4" fill="#262626">1.125</text>
<text x="96.29" y="815.80" font-size="14.4" fill="#262626">1.1</text>
<text x="188.44" y="815.66" font-size="14.4" fill="#262626">1.105</text>
<text x="288.79" y="815.80" font-size="14.4" fill="#262626">1.11</text>
<text x="161.44" y="273.21" font-size="14.4" fill="#262626">Energy (eV)</text>
<text x="161.44" y="550.91" font-size="14.4" fill="#262626">Energy (eV)</text>
<text x="161.44" y="830.51" font-size="14.4" fill="#262626">Energy (eV)</text>
<text x="66.68" y="34.70" font-size="14.4" fill="#262626">X</text>
<text x="76.61" y="29.91" font-size="8.7" fill="#262626">-</text>
<text x="66.38" y="326.00" font-size="14.4" fill="#262626">X</text>
<text x="75.96" y="322.07" font-size="8.7" fill="#262626">0</text>
<text x="66.88" y="605.90" font-size="14.4" fill="#262626">X</text>
<text x="75.98" y="601.59" font-size="8.7" fill="#262626">+</text>
<circle cx="67.9" cy="69.6" r="2.0" fill="#dc5229"/>
<circle cx="67.9" cy="86.4" r="2.0" fill="#3d7cc5"/>
<text x="75.50" y="72.76" font-size="14.4" fill="#262626">σ</text>
<text x="84.61" y="68.51" font-size="8.7" fill="#262626">-</text>
<text x="75.50" y="89.56" font-size="14.4" fill="#262626">σ</text>
<text x="84.58" y="85.19" font-size="8.7" fill="#262626">+</text>
<text x="224.94" y="34.36" font-size="14.4" fill="#262626">n = 0.8x10</text>
<text x="293.84" y="31.00" font-size="8.7" fill="#262626">12</text>
<text x="306.59" y="34.36" font-size="14.4" fill="#262626">cm</text>
<text x="326.01" y="31.00" font-size="8.7" fill="#262626">-2</text>
<text x="243.83" y="51.71" font-size="14.4" fill="#262626">μ</text>
<text x="251.46" y="57.52" font-size="8.7" fill="#262626">0</text>
<text x="256.82" y="52.36" font-size="14.4" fill="#262626">H = 8T</text>
<text x="256.04" y="320.86" font-size="14.4" fill="#262626">n = 0 cm</text>
<text x="311.71" y="316.80" font-size="8.7" fill="#262626">-2</text>
<text x="257.33" y="337.81" font-size="14.4" fill="#262626">μ</text>
<text x="264.96" y="343.62" font-size="8.7" fill="#262626">0</text>
<text x="270.32" y="338.46" font-size="14.4" fill="#262626">H = 8T</text>
<text x="222.94" y="600.56" font-size="14.4" fill="#262626">n = -0.8x10</text>
<text x="297.34" y="595.80" font-size="8.7" fill="#262626">12</text>
<text x="309.79" y="600.56" font-size="14.4" fill="#262626">cm</text>
<text x="328.81" y="595.80" font-size="8.7" fill="#262626">-2</text>
<text x="242.93" y="616.61" font-size="14.4" fill="#262626">μ</text>
<text x="250.56" y="622.42" font-size="8.7" fill="#262626">0</text>
<text x="255.92" y="617.26" font-size="14.4" fill="#262626">H = 8T</text>
<path d="M446.5 70.3 Q457.6 79 469 70.3Z" fill="#dba0a0"/>
<path d="M416.5 40.9Q458.00 108.30 499.5 40.9" fill="none" stroke="#0d0d0d" stroke-width="2.7"/>
<path d="M518.9 30.2Q560.75 97.00 602.6 30.2" fill="none" stroke="#0d0d0d" stroke-width="2.6"/>
<path d="M517.5 193.1Q559.55 122.90 601.6 193.1" fill="none" stroke="#d43a35" stroke-width="2.6"/>
<path d="M414.9 232.2Q456.95 162.80 499.0 232.2" fill="none" stroke="#3f70b0" stroke-width="2.6" stroke-dasharray="1.9 1.8"/>
<path d="M416.0 70.3H619.0" stroke="#8c8c8c" stroke-width="1" stroke-dasharray="3.6 4.3" fill="none"/>
<path d="M447.5 68.3L566.2 36.5C572.2 34.9 576.3 42 576.3 50L576.3 176C576.3 186 566 191 556 184.5L446 92.8C436.5 84.9 436 71.4 447.5 68.3Z" fill="none" stroke="#0d0d0d" stroke-width="1.8" stroke-dasharray="8 8.2"/>
<circle cx="561.3" cy="56.6" r="11.4" fill="#d9878b"/>
<text x="558.84" y="61.15" font-size="16" font-weight="bold" fill="#3a1f22">-</text>
<circle cx="558.8" cy="166.7" r="11.5" fill="#90bde0"/>
<text x="553.84" y="172.35" font-size="17" fill="#17283a">+</text>
<text x="448.76" y="41.40" font-size="14.4" fill="#262626">-K</text>
<text x="552.00" y="29.10" font-size="14.4" fill="#262626">+K</text>
<text x="600.82" y="59.90" font-size="14.4" fill="#262626">E</text>
<text x="609.99" y="64.60" font-size="8.7" fill="#262626">F</text>
<text x="656.00" y="74.06" font-size="14.4" fill="#262626">σ</text>
<text x="665.18" y="68.89" font-size="8.7" fill="#262626">+</text>
<path d="M581.90 108.45 L582.04 108.49 L582.20 108.57 L582.38 108.68 L582.56 108.83 L582.75 109.02 L582.96 109.24 L583.17 109.49 L583.40 109.77 L583.63 110.09 L583.88 110.43 L584.13 110.81 L584.40 111.21 L584.67 111.65 L584.95 112.10 L585.24 112.59 L585.54 113.09 L585.84 113.62 L586.15 114.16 L586.47 114.73 L586.79 115.31 L587.11 115.91 L587.44 116.52 L587.78 117.14 L588.12 117.77 L588.46 118.41 L588.80 119.06 L589.14 119.71 L589.48 120.36 L589.83 121.01 L590.17 121.66 L590.51 122.31 L590.85 122.95 L591.19 123.59 L591.53 124.21 L591.86 124.83 L592.19 125.43 L592.51 126.02 L592.83 126.59 L593.14 127.14 L593.45 127.68 L593.74 128.19 L594.04 128.68 L594.32 129.15 L594.60 129.59 L594.86 130.00 L595.12 130.39 L595.37 130.74 L595.61 131.07 L595.84 131.37 L596.06 131.63 L596.27 131.86 L596.46 132.06 L596.65 132.22 L596.83 132.34 L596.99 132.44 L597.14 132.49 L597.28 132.51 L597.41 132.50 L597.53 132.44 L597.63 132.35 L597.73 132.23 L597.81 132.07 L597.88 131.87 L597.94 131.64 L597.99 131.37 L598.03 131.07 L598.05 130.74 L598.07 130.37 L598.08 129.98 L598.07 129.55 L598.06 129.09 L598.04 128.61 L598.01 128.10 L597.97 127.56 L597.92 126.99 L597.87 126.41 L597.81 125.80 L597.74 125.17 L597.67 124.53 L597.59 123.87 L597.51 123.19 L597.42 122.50 L597.33 121.80 L597.23 121.09 L597.14 120.37 L597.04 119.65 L596.94 118.92 L596.84 118.19 L596.74 117.46 L596.64 116.73 L596.54 116.00 L596.44 115.28 L596.35 114.57 L596.25 113.87 L596.17 113.18 L596.08 112.50 L596.00 111.83 L595.93 111.19 L595.86 110.56 L595.80 109.95 L595.74 109.36 L595.70 108.79 L595.66 108.25 L595.62 107.73 L595.60 107.24 L595.59 106.78 L595.58 106.35 L595.59 105.95 L595.60 105.58 L595.63 105.24 L595.66 104.93 L595.71 104.66 L595.77 104.43 L595.84 104.22 L595.92 104.06 L596.01 103.93 L596.11 103.83 L596.23 103.78 L596.36 103.75 L596.50 103.77 L596.65 103.82 L596.81 103.90 L596.98 104.03 L597.17 104.18 L597.36 104.37 L597.57 104.60 L597.79 104.86 L598.01 105.15 L598.25 105.47 L598.50 105.82 L598.76 106.20 L599.02 106.61 L599.30 107.05 L599.58 107.51 L599.87 108.00 L600.17 108.51 L600.47 109.04 L600.78 109.59 L601.10 110.16 L601.42 110.75 L601.75 111.35 L602.08 111.96 L602.42 112.58 L602.75 113.22 L603.09 113.86 L603.44 114.50 L603.78 115.15 L604.12 115.81 L604.47 116.46 L604.81 117.11 L605.15 117.76 L605.49 118.40 L605.83 119.03 L606.16 119.65 L606.50 120.27 L606.82 120.87 L607.14 121.45 L607.46 122.02 L607.77 122.57 L608.08 123.10 L608.37 123.61 L608.66 124.09 L608.95 124.55 L609.22 124.99 L609.49 125.40 L609.74 125.78 L609.99 126.13 L610.23 126.45 L610.45 126.74 L610.67 126.99 L610.88 127.22 L611.07 127.41 L611.26 127.56 L611.43 127.68 L611.59 127.77 L611.74 127.82 L611.88 127.83 L612.01 127.80 L612.12 127.74 L612.22 127.65 L612.32 127.52 L612.40 127.35 L612.46 127.14 L612.52 126.91 L612.57 126.63 L612.60 126.33 L612.63 125.99 L612.64 125.61 L612.65 125.21 L612.64 124.78 L612.63 124.31 L612.60 123.82 L612.57 123.31 L612.53 122.76 L612.48 122.20 L612.43 121.61 L612.37 120.99 L612.30 120.36 L612.22 119.71 L612.14 119.05 L612.06 118.37 L611.97 117.68 L611.88 116.97 L611.78 116.26 L611.69 115.54 L611.59 114.82 L611.49 114.09 L611.39 113.36 L611.29 112.63 L611.19 111.90 L611.09 111.17 L610.99 110.46 L610.90 109.75 L610.81 109.05 L610.72 108.36 L610.64 107.68 L610.56 107.02 L610.48 106.37 L610.42 105.75 L610.36 105.14 L610.30 104.56 L610.26 104.00 L610.22 103.46 L610.19 102.95 L610.17 102.46 L610.15 102.01 L610.15 101.58 L610.16 101.19 L610.18 100.82 L610.20 100.49 L610.24 100.19 L610.29 99.93 L610.35 99.70 L610.42 99.50 L610.51 99.35 L610.60 99.22 L610.71 99.14 L610.83 99.08 L610.95 99.07 L611.10 99.09 L611.25 99.15 L611.41 99.24 L611.59 99.37 L611.78 99.53 L611.97 99.73 L612.18 99.96 L612.40 100.23 L612.63 100.53 L612.87 100.85 L613.12 101.21 L613.38 101.60 L613.65 102.02 L613.92 102.46 L614.21 102.93 L614.50 103.42 L614.80 103.93 L615.10 104.47 L615.42 105.02 L615.74 105.59 L616.06 106.18 L616.39 106.78 L616.72 107.40 L617.05 108.03 L617.39 108.66 L617.73 109.30 L618.08 109.95 L618.42 110.60 L618.76 111.25 L619.11 111.91 L619.45 112.56 L619.79 113.20 L620.13 113.84 L620.47 114.47 L620.80 115.09 L621.13 115.70 L621.46 116.30 L621.78 116.88 L622.09 117.45 L622.40 117.99 L622.71 118.52 L623.00 119.02 L623.29 119.50 L623.57 119.96 L623.85 120.39 L624.11 120.79 L624.36 121.17 L624.61 121.51 L624.84 121.83 L625.07 122.11 L625.28 122.36 L625.49 122.57 L625.68 122.76 L625.86 122.91 L626.03 123.02 L626.19 123.10 L626.34 123.14 L626.48 123.14 L626.60 123.11 L626.71 123.04 L626.81 122.94 L626.90 122.80 L626.98 122.63 L627.05 122.42 L627.10 122.17 L627.15 121.89 L627.18 121.58 L627.20 121.23 L627.22 120.85 L627.22 120.44 L627.21 120.00 L627.19 119.54 L627.17 119.04 L627.14 118.52 L627.09 117.97 L627.04 117.40 L626.99 116.80 L626.92 116.19 L626.85 115.55 L626.78 114.90 L626.70 114.23 L626.61 113.55 L626.52 112.85 L626.43 112.15 L626.34 111.43 L626.24 110.71 L626.14 109.99 L626.04 109.26 L625.94 108.53 L625.84 107.80 L625.74 107.07 L625.64 106.35 L625.54 105.63 L625.45 104.92 L625.36 104.22 L625.27 103.54 L625.19 102.86 L625.11 102.21 L625.04 101.56 L624.98 100.94 L624.92 100.34 L624.86 99.76 L624.82 99.20 L624.78 98.67 L624.75 98.17 L624.73 97.69 L624.72 97.24 L624.72 96.82 L624.73 96.43 L624.75 96.07 L624.78 95.75 L624.82 95.45 L624.87 95.20 L624.94 94.97 L625.01 94.79 L625.10 94.63 L625.19 94.52 L625.30 94.44 L625.42 94.40 L625.55 94.39 L625.70 94.42 L625.85 94.48 L626.02 94.58 L626.20 94.72 L626.38 94.89 L626.58 95.09 L626.80 95.33 L627.02 95.60 L627.25 95.91 L627.49 96.24 L627.74 96.61 L628.00 97.00 L628.27 97.42 L628.55 97.87 L628.84 98.34 L629.13 98.84 L629.43 99.35 L629.74 99.89 L630.05 100.45 L630.37 101.03 L630.69 101.62 L631.02 102.22 L631.36 102.84 L631.69 103.47 L632.03 104.11 L632.37 104.75 L632.71 105.40 L633.06 106.05 L633.40 106.70 L633.75 107.35 L634.09 108.00 L634.43 108.65 L634.77 109.28 L635.11 109.91 L635.44 110.53 L635.77 111.14 L636.09 111.73 L636.41 112.31 L636.73 112.87 L637.04 113.41 L637.34 113.94 L637.63 114.44 L637.92 114.91 L638.20 115.36 L638.47 115.79 L638.73 116.19 L638.98 116.55 L639.23 116.89 L639.46 117.20 L639.68 117.48 L639.90 117.72 L640.10 117.93 L640.29 118.11 L640.47 118.25 L640.64 118.35 L640.79 118.42 L640.94 118.46 L641.07 118.46 L641.19 118.42 L641.30 118.34 L641.40 118.23 L641.49 118.09 L641.57 117.90 L641.63 117.69 L641.68 117.43 L641.72 117.15 L641.76 116.83 L641.78 116.47 L641.79 116.09 L641.79 115.67 L641.78 115.23 L641.76 114.75 L641.73 114.25 L641.70 113.72 L641.65 113.17 L641.60 112.60 L641.55 112.00 L641.48 111.38 L641.41 110.74 L641.33 110.08 L641.25 109.41 L641.17 108.73 L641.08 108.03 L640.98 107.32 L640.89 106.61 L640.79 105.89 L640.69 105.16 L640.59 104.43 L640.49 103.70 L640.39 102.97 L640.29 102.24 L640.19 101.52 L640.09 100.80 L640.00 100.10 L639.91 99.40 L639.83 98.72 L639.75 98.05 L639.67 97.39 L639.60 96.75 L639.53 96.14 L639.48 95.54 L639.42 94.96 L639.38 94.41 L639.35 93.88 L639.32 93.38 L639.30 92.91 L639.29 92.47 L639.29 92.05 L639.31 91.67 L639.33 91.32 L639.36 91.00 L639.40 90.72 L639.46 90.47 L639.52 90.25 L639.60 90.07 L639.68 89.93 L639.78 89.82 L639.89 89.74 L640.02 89.71 L640.15 89.71 L640.30 89.74 L640.45 89.82 L640.62 89.92 L640.80 90.07 L640.99 90.24 L641.20 90.45 L641.41 90.70 L641.63 90.98 L641.87 91.29 L642.11 91.63 L642.36 92.00 L642.63 92.40 L642.90 92.82 L643.18 93.28 L643.46 93.75 L643.76 94.25 L644.06 94.78 L644.37 95.32 L644.68 95.88 L645.01 96.46 L645.33 97.05 L645.66 97.66 L645.99 98.28 L646.33 98.91 L646.67 99.55 L647.01 100.19 L647.35 100.84 L647.70 101.50 L648.04 102.15 L648.38 102.80 L648.73 103.45 L649.07 104.09 L649.41 104.73 L649.74 105.35 L650.08 105.97 L650.40 106.58 L650.73 107.17 L651.05 107.74 L651.36 108.30 L651.67 108.84 L651.97 109.35 L652.26 109.85 L652.55 110.32 L652.82 110.77 L653.09 111.19 L653.35 111.58 L653.60 111.94 L653.85 112.27 L654.08 112.58 L654.30 112.85 L654.51 113.08 L654.71 113.29 L654.90 113.45 L655.07 113.59 L655.24 113.69 L655.39 113.75 L655.54 113.78 L655.67 113.77 L655.79 113.72 L655.90 113.64 L655.99 113.52 L656.08 113.37 L656.15 113.18 L656.21 112.95 L656.26 112.70 L656.30 112.40 L656.33 112.08 L656.35 111.72 L656.36 111.33 L656.36 110.90 L656.35 110.45 L656.33 109.97 L656.30 109.47 L656.26 108.93 L656.22 108.37 L656.16 107.79 L656.10 107.19 L656.04 106.57 L655.97 105.93 L655.89 105.27 L655.81 104.59 L655.72 103.91 L655.63 103.21 L655.53 102.50 L655.44 101.78 L655.34 101.06 L655.24 100.33 L655.14 99.60 L655.04 98.87 L654.94 98.14 L654.84 97.41 L654.74 96.69 L654.65 95.98 L654.55 95.27 L654.47 94.58 L654.38 93.90 L654.30 93.23 L654.22 92.58 L654.16 91.95 L654.09 91.33 L654.04 90.74 L653.99 90.17 L653.94 89.62 L653.91 89.10 L653.89 88.60 L653.87 88.14 L653.86 87.70 L653.87 87.29 L653.88 86.91 L653.90 86.57 L653.94 86.26 L653.98 85.98 L654.04 85.74 L654.11 85.53 L654.18 85.35 L654.27 85.22 L654.38 85.12 L654.49 85.05 L654.61 85.02 L654.75 85.03 C656 86 659 97 662.5 96 C665 95.5 667 94.5 669.5 93.8" fill="none" stroke="#c4303a" stroke-width="1.9" stroke-linejoin="round" stroke-linecap="round"/>
<polygon points="677.00,91.60 670.68,100.41 666.86,87.78" fill="#c4303a"/>
<path d="M416.5 325.4Q458.00 391.60 499.5 325.4" fill="none" stroke="#0d0d0d" stroke-width="2.6"/>
<path d="M518.9 314.8Q560.75 381.20 602.6 314.8" fill="none" stroke="#0d0d0d" stroke-width="2.6"/>
<path d="M518.4 477.1Q560.00 408.90 601.6 477.1" fill="none" stroke="#d43a35" stroke-width="2.6"/>
<path d="M415.0 516.9Q457.35 446.10 499.7 516.9" fill="none" stroke="#3f70b0" stroke-width="2.6" stroke-dasharray="1.9 1.8"/>
<path d="M416.0 416.8H618.0" stroke="#8c8c8c" stroke-width="1" stroke-dasharray="3.6 4.3" fill="none"/>
<ellipse cx="559.2" cy="396.8" rx="25.2" ry="72.2" fill="none" stroke="#0d0d0d" stroke-width="1.8" stroke-dasharray="8 8.2"/>
<circle cx="559.4" cy="341.3" r="11.4" fill="#d9878b"/>
<text x="556.94" y="345.85" font-size="16" font-weight="bold" fill="#3a1f22">-</text>
<circle cx="558.9" cy="451.1" r="11.5" fill="#90bde0"/>
<text x="553.94" y="456.75" font-size="17" fill="#17283a">+</text>
<text x="449.26" y="324.00" font-size="14.4" fill="#262626">-K</text>
<text x="552.50" y="312.00" font-size="14.4" fill="#262626">+K</text>
<text x="601.02" y="408.50" font-size="14.4" fill="#262626">E</text>
<text x="609.69" y="412.60" font-size="8.7" fill="#262626">F</text>
<text x="658.70" y="323.86" font-size="14.4" fill="#262626">σ</text>
<text x="667.58" y="318.89" font-size="8.7" fill="#262626">+</text>
<path d="M588.01 358.10 L588.15 358.13 L588.31 358.19 L588.48 358.29 L588.65 358.42 L588.84 358.59 L589.05 358.79 L589.26 359.03 L589.48 359.29 L589.72 359.59 L589.96 359.92 L590.22 360.28 L590.48 360.66 L590.75 361.08 L591.04 361.52 L591.33 361.98 L591.63 362.47 L591.93 362.98 L592.24 363.50 L592.56 364.05 L592.89 364.62 L593.22 365.20 L593.55 365.79 L593.89 366.39 L594.23 367.01 L594.58 367.63 L594.92 368.26 L595.27 368.90 L595.62 369.53 L595.97 370.17 L596.32 370.81 L596.67 371.45 L597.02 372.08 L597.36 372.70 L597.70 373.31 L598.04 373.92 L598.38 374.51 L598.71 375.09 L599.03 375.66 L599.35 376.20 L599.66 376.73 L599.97 377.24 L600.26 377.73 L600.56 378.19 L600.84 378.63 L601.11 379.04 L601.37 379.43 L601.63 379.78 L601.87 380.11 L602.11 380.41 L602.33 380.68 L602.55 380.91 L602.75 381.11 L602.94 381.28 L603.12 381.41 L603.28 381.51 L603.44 381.58 L603.58 381.61 L603.71 381.60 L603.83 381.56 L603.94 381.48 L604.03 381.36 L604.12 381.22 L604.19 381.03 L604.25 380.81 L604.29 380.56 L604.33 380.28 L604.36 379.96 L604.37 379.61 L604.38 379.22 L604.37 378.81 L604.35 378.37 L604.33 377.90 L604.29 377.40 L604.25 376.88 L604.20 376.33 L604.14 375.76 L604.07 375.17 L604.00 374.56 L603.92 373.93 L603.83 373.28 L603.74 372.62 L603.64 371.94 L603.54 371.26 L603.44 370.56 L603.34 369.85 L603.23 369.14 L603.12 368.43 L603.01 367.71 L602.90 366.99 L602.79 366.27 L602.68 365.55 L602.57 364.84 L602.47 364.14 L602.37 363.44 L602.27 362.76 L602.17 362.09 L602.08 361.43 L602.00 360.78 L601.92 360.16 L601.85 359.55 L601.78 358.96 L601.72 358.40 L601.67 357.85 L601.63 357.34 L601.60 356.85 L601.58 356.38 L601.56 355.95 L601.56 355.54 L601.56 355.16 L601.58 354.82 L601.61 354.51 L601.65 354.23 L601.70 353.98 L601.76 353.77 L601.83 353.59 L601.92 353.45 L602.02 353.35 L602.12 353.28 L602.25 353.24 L602.38 353.24 L602.53 353.28 L602.68 353.35 L602.85 353.45 L603.03 353.60 L603.23 353.77 L603.43 353.98 L603.65 354.22 L603.87 354.49 L604.11 354.80 L604.35 355.13 L604.61 355.49 L604.88 355.89 L605.15 356.30 L605.44 356.75 L605.73 357.22 L606.03 357.71 L606.34 358.22 L606.65 358.75 L606.97 359.30 L607.30 359.87 L607.63 360.45 L607.96 361.05 L608.30 361.66 L608.64 362.27 L608.99 362.90 L609.34 363.53 L609.68 364.17 L610.03 364.80 L610.38 365.44 L610.73 366.08 L611.08 366.71 L611.43 367.34 L611.77 367.96 L612.11 368.58 L612.45 369.18 L612.78 369.77 L613.11 370.35 L613.44 370.91 L613.75 371.45 L614.07 371.98 L614.37 372.48 L614.67 372.96 L614.96 373.42 L615.24 373.85 L615.51 374.26 L615.77 374.64 L616.02 374.99 L616.26 375.32 L616.50 375.61 L616.72 375.87 L616.93 376.10 L617.13 376.29 L617.32 376.45 L617.49 376.58 L617.66 376.67 L617.81 376.73 L617.95 376.75 L618.08 376.73 L618.20 376.68 L618.30 376.60 L618.39 376.48 L618.47 376.32 L618.54 376.13 L618.60 375.91 L618.65 375.65 L618.68 375.35 L618.70 375.03 L618.72 374.67 L618.72 374.28 L618.71 373.87 L618.69 373.42 L618.66 372.94 L618.63 372.44 L618.58 371.91 L618.53 371.36 L618.47 370.79 L618.40 370.19 L618.32 369.58 L618.24 368.94 L618.16 368.29 L618.06 367.63 L617.97 366.95 L617.87 366.26 L617.76 365.56 L617.66 364.85 L617.55 364.14 L617.44 363.42 L617.33 362.70 L617.22 361.98 L617.11 361.27 L617.00 360.55 L616.89 359.84 L616.79 359.14 L616.69 358.45 L616.59 357.76 L616.50 357.09 L616.41 356.44 L616.33 355.80 L616.25 355.17 L616.18 354.57 L616.11 353.99 L616.06 353.43 L616.01 352.89 L615.97 352.38 L615.94 351.89 L615.91 351.43 L615.90 351.00 L615.90 350.60 L615.91 350.23 L615.93 349.89 L615.96 349.59 L616.00 349.32 L616.05 349.08 L616.12 348.87 L616.19 348.70 L616.28 348.57 L616.38 348.47 L616.49 348.41 L616.61 348.38 L616.75 348.39 L616.90 348.43 L617.06 348.51 L617.23 348.62 L617.41 348.77 L617.61 348.95 L617.82 349.17 L618.03 349.41 L618.26 349.69 L618.50 350.00 L618.75 350.34 L619.01 350.71 L619.27 351.11 L619.55 351.53 L619.84 351.98 L620.13 352.45 L620.43 352.95 L620.74 353.47 L621.06 354.00 L621.38 354.56 L621.70 355.13 L622.04 355.71 L622.37 356.31 L622.71 356.92 L623.05 357.54 L623.40 358.17 L623.75 358.80 L624.10 359.43 L624.45 360.07 L624.80 360.71 L625.15 361.35 L625.49 361.98 L625.84 362.61 L626.18 363.23 L626.52 363.84 L626.86 364.44 L627.19 365.03 L627.52 365.60 L627.84 366.16 L628.16 366.70 L628.47 367.22 L628.77 367.72 L629.07 368.20 L629.35 368.65 L629.63 369.08 L629.90 369.48 L630.16 369.86 L630.41 370.20 L630.65 370.52 L630.88 370.80 L631.10 371.06 L631.31 371.28 L631.51 371.47 L631.70 371.62 L631.87 371.74 L632.03 371.83 L632.18 371.88 L632.32 371.89 L632.45 371.87 L632.56 371.81 L632.66 371.72 L632.75 371.59 L632.83 371.43 L632.90 371.23 L632.95 371.00 L633.00 370.73 L633.03 370.43 L633.05 370.10 L633.06 369.74 L633.06 369.34 L633.05 368.92 L633.03 368.47 L633.00 367.99 L632.96 367.48 L632.91 366.95 L632.86 366.39 L632.80 365.81 L632.73 365.21 L632.65 364.59 L632.57 363.95 L632.48 363.30 L632.39 362.63 L632.29 361.95 L632.19 361.26 L632.09 360.56 L631.98 359.85 L631.87 359.14 L631.76 358.42 L631.65 357.70 L631.54 356.98 L631.43 356.26 L631.32 355.55 L631.22 354.84 L631.11 354.14 L631.01 353.45 L630.91 352.77 L630.82 352.10 L630.73 351.45 L630.65 350.81 L630.58 350.19 L630.51 349.59 L630.44 349.02 L630.39 348.46 L630.34 347.93 L630.30 347.42 L630.27 346.94 L630.25 346.49 L630.24 346.06 L630.24 345.67 L630.25 345.30 L630.28 344.97 L630.31 344.67 L630.35 344.41 L630.41 344.18 L630.47 343.98 L630.55 343.82 L630.64 343.69 L630.74 343.60 L630.86 343.54 L630.98 343.52 L631.12 343.53 L631.27 343.58 L631.44 343.67 L631.61 343.79 L631.79 343.94 L631.99 344.13 L632.20 344.35 L632.42 344.61 L632.65 344.89 L632.89 345.21 L633.14 345.56 L633.40 345.93 L633.67 346.33 L633.95 346.76 L634.24 347.22 L634.53 347.69 L634.84 348.19 L635.15 348.71 L635.46 349.25 L635.78 349.81 L636.11 350.39 L636.45 350.97 L636.78 351.57 L637.12 352.19 L637.47 352.81 L637.81 353.43 L638.16 354.07 L638.51 354.70 L638.86 355.34 L639.21 355.98 L639.56 356.62 L639.91 357.25 L640.25 357.87 L640.59 358.49 L640.93 359.10 L641.27 359.70 L641.60 360.29 L641.93 360.86 L642.25 361.41 L642.56 361.95 L642.87 362.46 L643.17 362.96 L643.47 363.43 L643.75 363.88 L644.03 364.30 L644.30 364.70 L644.56 365.07 L644.81 365.41 L645.04 365.72 L645.27 366.00 L645.49 366.25 L645.70 366.46 L645.89 366.64 L646.07 366.79 L646.25 366.90 L646.41 366.98 L646.55 367.02 L646.69 367.03 L646.81 367.00 L646.92 366.94 L647.02 366.84 L647.11 366.70 L647.19 366.53 L647.25 366.33 L647.31 366.09 L647.35 365.82 L647.38 365.51 L647.39 365.17 L647.40 364.80 L647.40 364.40 L647.39 363.97 L647.37 363.51 L647.34 363.03 L647.30 362.51 L647.25 361.98 L647.19 361.42 L647.13 360.83 L647.05 360.23 L646.98 359.61 L646.89 358.97 L646.80 358.31 L646.71 357.64 L646.61 356.96 L646.51 356.26 L646.41 355.56 L646.30 354.85 L646.19 354.14 L646.08 353.42 L645.97 352.70 L645.86 351.98 L645.75 351.26 L645.64 350.55 L645.54 349.84 L645.43 349.14 L645.33 348.45 L645.24 347.78 L645.15 347.11 L645.06 346.46 L644.98 345.83 L644.90 345.21 L644.84 344.62 L644.77 344.04 L644.72 343.49 L644.68 342.96 L644.64 342.46 L644.61 341.99 L644.59 341.54 L644.59 341.12 L644.59 340.73 L644.60 340.38 L644.62 340.05 L644.66 339.76 L644.70 339.50 L644.76 339.27 L644.83 339.08 L644.91 338.93 L645.00 338.81 L645.11 338.72 L645.22 338.67 L645.35 338.66 L645.49 338.68 L645.65 338.74 L645.81 338.83 L645.99 338.96 L646.18 339.12 L646.38 339.31 L646.59 339.54 L646.81 339.80 L647.04 340.09 L647.28 340.42 L647.54 340.77 L647.80 341.15 L648.07 341.56 L648.35 341.99 L648.64 342.45 L648.94 342.93 L649.24 343.44 L649.55 343.96 L649.87 344.51 L650.19 345.07 L650.52 345.64 L650.85 346.23 L651.19 346.84 L651.53 347.45 L651.88 348.07 L652.22 348.70 L652.57 349.33 L652.92 349.97 L653.27 350.61 L653.62 351.25 L653.97 351.88 L654.32 352.51 L654.66 353.14 L655.01 353.76 L655.34 354.36 L655.68 354.96 L656.01 355.54 L656.34 356.11 L656.66 356.66 L656.97 357.19 L657.28 357.70 L657.58 358.20 L657.87 358.66 L658.15 359.11 L658.43 359.53 L658.69 359.92 L658.95 360.28 L659.20 360.61 L659.43 360.92 L659.66 361.19 L659.87 361.43 L660.08 361.64 L660.27 361.81 L660.45 361.95 L660.62 362.06 L660.78 362.13 L660.92 362.17 L661.06 362.17 L661.18 362.13 L661.29 362.06 L661.39 361.95 L661.47 361.81 L661.54 361.64 L661.61 361.42 L661.66 361.18 L661.70 360.90 L661.72 360.59 L661.74 360.24 L661.75 359.87 L661.74 359.46 L661.73 359.02 L661.70 358.56 L661.67 358.07 L661.63 357.55 L661.58 357.01 L661.52 356.44 L661.45 355.85 L661.38 355.25 L661.30 354.62 L661.22 353.98 L661.13 353.32 L661.03 352.64 L660.94 351.96 L660.83 351.26 L660.73 350.56 L660.62 349.85 L660.51 349.13 L660.40 348.42 L660.29 347.70 L660.18 346.98 L660.07 346.26 L659.97 345.55 L659.86 344.84 L659.76 344.15 L659.66 343.46 L659.56 342.78 L659.47 342.12 L659.39 341.47 L659.31 340.84 L659.23 340.23 L659.17 339.64 L659.11 339.07 L659.05 338.53 L659.01 338.00 L658.98 337.51 L658.95 337.04 L658.93 336.59 L658.93 336.18 L658.93 335.80 L658.95 335.45 L658.97 335.13 L659.01 334.85 L659.06 334.59 L659.12 334.37 L659.19 334.19 L659.27 334.04 L659.37 333.93 L659.47 333.85 L659.59 333.81 L659.72 333.80 C662 336 664.5 346 668 345.5 C670.5 345 673 344 675.8 343.2" fill="none" stroke="#c4303a" stroke-width="1.9" stroke-linejoin="round" stroke-linecap="round"/>
<polygon points="682.80,341.70 675.72,349.91 673.04,336.98" fill="#c4303a"/>
<path d="M602.9 726.2 Q614 714 625.7 726.2Z" fill="#9cc2e0"/>
<path d="M471.8 601.8Q513.00 667.20 554.2 601.8" fill="none" stroke="#0d0d0d" stroke-width="2.6"/>
<path d="M574.3 591.5Q616.20 660.50 658.1 591.5" fill="none" stroke="#0d0d0d" stroke-width="2.6"/>
<path d="M573.9 754.0Q615.30 684.60 656.7 754.0" fill="none" stroke="#d43a35" stroke-width="2.6"/>
<path d="M470.4 793.4Q512.45 725.80 554.5 793.4" fill="none" stroke="#3f70b0" stroke-width="2.6" stroke-dasharray="1.9 1.8"/>
<path d="M470.4 726.2H673.1" stroke="#8c8c8c" stroke-width="1" stroke-dasharray="3.6 4.3" fill="none"/>
<path d="M500 628C500 610 520 609 524 622.5L638.7 718.4C642.5 721.6 644 732.9 640 734.3L512 779.3C508 780.7 498 776 498 770Z" fill="none" stroke="#0d0d0d" stroke-width="1.8" stroke-dasharray="8 8.2"/>
<circle cx="513.1" cy="631.5" r="11.5" fill="#d9878b"/>
<text x="510.64" y="636.05" font-size="16" font-weight="bold" fill="#3a1f22">-</text>
<circle cx="512.4" cy="764.9" r="11.3" fill="#90bde0"/>
<text x="507.44" y="770.55" font-size="17" fill="#17283a">+</text>
<text x="504.16" y="603.90" font-size="14.4" fill="#262626">-K</text>
<text x="607.40" y="592.80" font-size="14.4" fill="#262626">+K</text>
<text x="655.52" y="716.50" font-size="14.4" fill="#262626">E</text>
<text x="664.79" y="721.00" font-size="8.7" fill="#262626">F</text>
<text x="404.60" y="640.36" font-size="14.4" fill="#262626">σ</text>
<text x="413.21" y="635.51" font-size="8.7" fill="#262626">-</text>
<path d="M492.31 677.62 L492.17 677.65 L492.01 677.72 L491.84 677.82 L491.66 677.96 L491.47 678.13 L491.26 678.34 L491.05 678.58 L490.82 678.85 L490.58 679.16 L490.34 679.49 L490.08 679.86 L489.81 680.25 L489.53 680.68 L489.24 681.13 L488.95 681.60 L488.65 682.10 L488.34 682.62 L488.02 683.16 L487.69 683.72 L487.36 684.30 L487.03 684.90 L486.69 685.50 L486.34 686.12 L486.00 686.75 L485.64 687.39 L485.29 688.04 L484.94 688.69 L484.58 689.34 L484.23 690.00 L483.87 690.65 L483.52 691.30 L483.16 691.95 L482.81 692.59 L482.46 693.22 L482.12 693.84 L481.78 694.45 L481.44 695.04 L481.11 695.62 L480.79 696.18 L480.47 696.72 L480.16 697.25 L479.86 697.75 L479.56 698.22 L479.27 698.67 L479.00 699.10 L478.73 699.49 L478.47 699.86 L478.22 700.20 L477.98 700.50 L477.75 700.78 L477.54 701.02 L477.33 701.23 L477.14 701.40 L476.96 701.54 L476.79 701.64 L476.63 701.71 L476.49 701.74 L476.36 701.73 L476.24 701.69 L476.13 701.61 L476.03 701.50 L475.95 701.35 L475.88 701.16 L475.82 700.94 L475.77 700.68 L475.74 700.39 L475.71 700.06 L475.70 699.71 L475.70 699.32 L475.71 698.89 L475.73 698.44 L475.75 697.96 L475.79 697.46 L475.84 696.92 L475.89 696.36 L475.96 695.78 L476.03 695.18 L476.10 694.55 L476.19 693.91 L476.28 693.25 L476.37 692.57 L476.47 691.88 L476.58 691.17 L476.68 690.46 L476.79 689.74 L476.91 689.01 L477.02 688.28 L477.14 687.54 L477.25 686.81 L477.37 686.07 L477.48 685.34 L477.59 684.61 L477.70 683.89 L477.81 683.18 L477.91 682.48 L478.01 681.79 L478.10 681.12 L478.19 680.46 L478.28 679.82 L478.35 679.20 L478.42 678.60 L478.48 678.02 L478.54 677.46 L478.58 676.93 L478.62 676.43 L478.64 675.95 L478.66 675.51 L478.67 675.09 L478.66 674.71 L478.65 674.35 L478.62 674.04 L478.59 673.75 L478.54 673.50 L478.48 673.28 L478.40 673.10 L478.32 672.96 L478.22 672.85 L478.11 672.77 L477.99 672.74 L477.85 672.74 L477.71 672.78 L477.55 672.85 L477.38 672.96 L477.19 673.10 L477.00 673.28 L476.79 673.49 L476.57 673.74 L476.35 674.02 L476.11 674.33 L475.86 674.68 L475.60 675.05 L475.33 675.45 L475.05 675.88 L474.76 676.33 L474.46 676.81 L474.16 677.32 L473.84 677.84 L473.52 678.39 L473.20 678.95 L472.87 679.53 L472.53 680.13 L472.19 680.74 L471.85 681.36 L471.50 681.99 L471.15 682.63 L470.79 683.28 L470.44 683.93 L470.08 684.59 L469.73 685.24 L469.37 685.89 L469.02 686.54 L468.66 687.19 L468.31 687.83 L467.97 688.46 L467.62 689.07 L467.28 689.68 L466.95 690.27 L466.62 690.85 L466.30 691.40 L465.98 691.94 L465.67 692.46 L465.37 692.95 L465.07 693.43 L464.79 693.87 L464.51 694.29 L464.25 694.68 L463.99 695.04 L463.74 695.37 L463.51 695.67 L463.28 695.94 L463.07 696.18 L462.87 696.38 L462.68 696.54 L462.50 696.67 L462.33 696.77 L462.18 696.83 L462.03 696.85 L461.90 696.84 L461.79 696.79 L461.68 696.70 L461.59 696.58 L461.51 696.42 L461.44 696.23 L461.38 696.00 L461.34 695.74 L461.30 695.44 L461.28 695.11 L461.27 694.74 L461.27 694.35 L461.28 693.92 L461.30 693.46 L461.33 692.98 L461.37 692.46 L461.42 691.92 L461.48 691.36 L461.54 690.77 L461.61 690.16 L461.69 689.54 L461.78 688.89 L461.87 688.22 L461.96 687.54 L462.06 686.85 L462.17 686.14 L462.28 685.43 L462.39 684.71 L462.50 683.98 L462.61 683.24 L462.73 682.51 L462.84 681.77 L462.96 681.04 L463.07 680.31 L463.18 679.58 L463.29 678.86 L463.40 678.15 L463.50 677.45 L463.60 676.77 L463.69 676.10 L463.78 675.44 L463.86 674.80 L463.94 674.19 L464.01 673.59 L464.07 673.02 L464.12 672.47 L464.16 671.94 L464.20 671.44 L464.22 670.97 L464.24 670.53 L464.24 670.12 L464.23 669.75 L464.22 669.40 L464.19 669.09 L464.15 668.81 L464.10 668.56 L464.03 668.35 L463.96 668.18 L463.87 668.04 L463.77 667.94 L463.66 667.88 L463.53 667.85 L463.40 667.86 L463.25 667.90 L463.09 667.98 L462.91 668.10 L462.73 668.25 L462.53 668.43 L462.32 668.65 L462.10 668.91 L461.87 669.19 L461.63 669.51 L461.38 669.86 L461.11 670.24 L460.84 670.64 L460.56 671.08 L460.27 671.54 L459.97 672.02 L459.67 672.53 L459.35 673.06 L459.03 673.61 L458.70 674.18 L458.37 674.76 L458.03 675.36 L457.69 675.98 L457.35 676.60 L457.00 677.23 L456.65 677.88 L456.29 678.52 L455.94 679.18 L455.58 679.83 L455.23 680.48 L454.87 681.14 L454.52 681.79 L454.16 682.43 L453.81 683.07 L453.47 683.69 L453.12 684.31 L452.79 684.91 L452.45 685.50 L452.12 686.07 L451.80 686.63 L451.49 687.16 L451.18 687.67 L450.88 688.16 L450.59 688.63 L450.30 689.07 L450.03 689.48 L449.76 689.87 L449.51 690.22 L449.27 690.55 L449.03 690.84 L448.81 691.10 L448.60 691.33 L448.40 691.52 L448.21 691.68 L448.03 691.81 L447.87 691.90 L447.72 691.95 L447.58 691.97 L447.45 691.94 L447.33 691.89 L447.23 691.80 L447.14 691.67 L447.06 691.50 L447.00 691.30 L446.94 691.06 L446.90 690.79 L446.87 690.49 L446.85 690.15 L446.84 689.78 L446.84 689.38 L446.86 688.94 L446.88 688.48 L446.91 687.99 L446.95 687.47 L447.00 686.93 L447.06 686.36 L447.13 685.77 L447.20 685.15 L447.28 684.52 L447.37 683.87 L447.46 683.20 L447.56 682.52 L447.66 681.82 L447.76 681.11 L447.87 680.40 L447.98 679.67 L448.09 678.94 L448.21 678.21 L448.32 677.47 L448.44 676.74 L448.55 676.00 L448.67 675.27 L448.78 674.55 L448.89 673.83 L448.99 673.13 L449.09 672.43 L449.19 671.75 L449.28 671.08 L449.37 670.43 L449.45 669.79 L449.52 669.18 L449.59 668.59 L449.65 668.02 L449.70 667.47 L449.74 666.95 L449.77 666.46 L449.80 666.00 L449.81 665.56 L449.81 665.16 L449.80 664.79 L449.78 664.45 L449.75 664.14 L449.71 663.87 L449.66 663.63 L449.59 663.43 L449.51 663.26 L449.42 663.13 L449.32 663.04 L449.21 662.98 L449.08 662.96 L448.94 662.97 L448.79 663.03 L448.62 663.11 L448.45 663.24 L448.26 663.39 L448.06 663.59 L447.85 663.81 L447.63 664.07 L447.39 664.37 L447.15 664.69 L446.90 665.05 L446.63 665.43 L446.36 665.84 L446.07 666.28 L445.78 666.75 L445.48 667.24 L445.17 667.75 L444.86 668.28 L444.54 668.83 L444.21 669.41 L443.88 669.99 L443.54 670.60 L443.20 671.21 L442.85 671.84 L442.50 672.47 L442.15 673.12 L441.79 673.77 L441.44 674.42 L441.08 675.07 L440.73 675.73 L440.37 676.38 L440.02 677.03 L439.66 677.67 L439.32 678.30 L438.97 678.93 L438.63 679.54 L438.29 680.14 L437.96 680.73 L437.63 681.30 L437.31 681.85 L437.00 682.38 L436.69 682.88 L436.39 683.37 L436.10 683.83 L435.82 684.27 L435.55 684.67 L435.28 685.05 L435.03 685.40 L434.79 685.72 L434.56 686.01 L434.34 686.26 L434.13 686.48 L433.93 686.67 L433.74 686.82 L433.57 686.94 L433.41 687.02 L433.26 687.07 L433.12 687.08 L433.00 687.05 L432.88 686.98 L432.78 686.88 L432.70 686.75 L432.62 686.58 L432.56 686.37 L432.50 686.12 L432.46 685.85 L432.44 685.53 L432.42 685.19 L432.41 684.81 L432.42 684.40 L432.43 683.96 L432.45 683.50 L432.49 683.00 L432.53 682.48 L432.58 681.93 L432.64 681.35 L432.71 680.76 L432.79 680.14 L432.87 679.50 L432.96 678.85 L433.05 678.18 L433.15 677.49 L433.25 676.79 L433.35 676.08 L433.46 675.37 L433.58 674.64 L433.69 673.91 L433.80 673.18 L433.92 672.44 L434.03 671.70 L434.15 670.97 L434.26 670.24 L434.37 669.52 L434.48 668.80 L434.58 668.10 L434.68 667.40 L434.78 666.72 L434.87 666.06 L434.96 665.41 L435.04 664.78 L435.11 664.17 L435.17 663.58 L435.23 663.02 L435.28 662.48 L435.32 661.96 L435.35 661.48 L435.37 661.02 L435.38 660.59 L435.38 660.19 L435.37 659.83 L435.35 659.50 L435.32 659.20 L435.27 658.93 L435.22 658.70 L435.15 658.51 L435.07 658.35 L434.97 658.22 L434.87 658.14 L434.75 658.09 L434.62 658.07 L434.48 658.09 L434.33 658.15 L434.16 658.25 L433.98 658.38 L433.79 658.54 L433.59 658.74 L433.38 658.98 L433.15 659.24 L432.92 659.54 L432.67 659.87 L432.41 660.23 L432.15 660.62 L431.87 661.04 L431.59 661.48 L431.29 661.95 L430.99 662.45 L430.68 662.96 L430.37 663.50 L430.04 664.06 L429.71 664.63 L429.38 665.22 L429.04 665.83 L428.70 666.45 L428.35 667.08 L428.00 667.71 L427.65 668.36 L427.29 669.01 L426.94 669.66 L426.58 670.32 L426.23 670.97 L425.87 671.62 L425.52 672.27 L425.17 672.91 L424.82 673.54 L424.47 674.16 L424.13 674.78 L423.79 675.37 L423.46 675.96 L423.14 676.52 L422.82 677.07 L422.51 677.59 L422.20 678.10 L421.90 678.58 L421.61 679.03 L421.34 679.46 L421.06 679.86 L420.80 680.24 L420.55 680.58 L420.31 680.89 L420.08 681.17 L419.87 681.42 L419.66 681.64 L419.46 681.82 L419.28 681.96 L419.11 682.07 L418.95 682.15 L418.80 682.18 L418.67 682.19 L418.54 682.15 L418.43 682.08 L418.34 681.97 L418.25 681.83 L418.18 681.65 L418.12 681.43 L418.07 681.18 L418.03 680.90 L418.00 680.58 L417.99 680.23 L417.98 679.85 L417.99 679.43 L418.01 678.98 L418.03 678.51 L418.07 678.01 L418.11 677.48 L418.17 676.93 L418.23 676.35 L418.30 675.75 L418.37 675.13 L418.46 674.49 L418.54 673.83 L418.64 673.15 L418.74 672.47 L418.84 671.76 L418.95 671.05 L419.06 670.33 L419.17 669.61 L419.28 668.87 L419.40 668.14 L419.51 667.40 L419.63 666.67 L419.74 665.94 L419.85 665.21 L419.96 664.49 L420.07 663.77 L420.17 663.07 L420.27 662.38 L420.37 661.70 L420.46 661.04 L420.54 660.39 L420.62 659.77 L420.69 659.16 L420.76 658.58 L420.81 658.02 L420.86 657.49 L420.90 656.98 L420.92 656.50 L420.94 656.04 L420.95 655.62 L420.95 655.23 L420.94 654.87 L420.91 654.55 L420.88 654.25 L420.83 653.99 L420.77 653.77 L420.70 653.58 L420.62 653.43 L420.53 653.31 L420.42 653.24 L420.30 653.19 L420.17 653.19 C417 656 415 664 411.5 665 C409 665.5 406.5 664.5 403.5 663.1" fill="none" stroke="#c4303a" stroke-width="1.9" stroke-linejoin="round" stroke-linecap="round"/>
<polygon points="397.00,659.90 407.66,657.95 401.64,669.70" fill="#c4303a"/>
</svg>
</body></html>
